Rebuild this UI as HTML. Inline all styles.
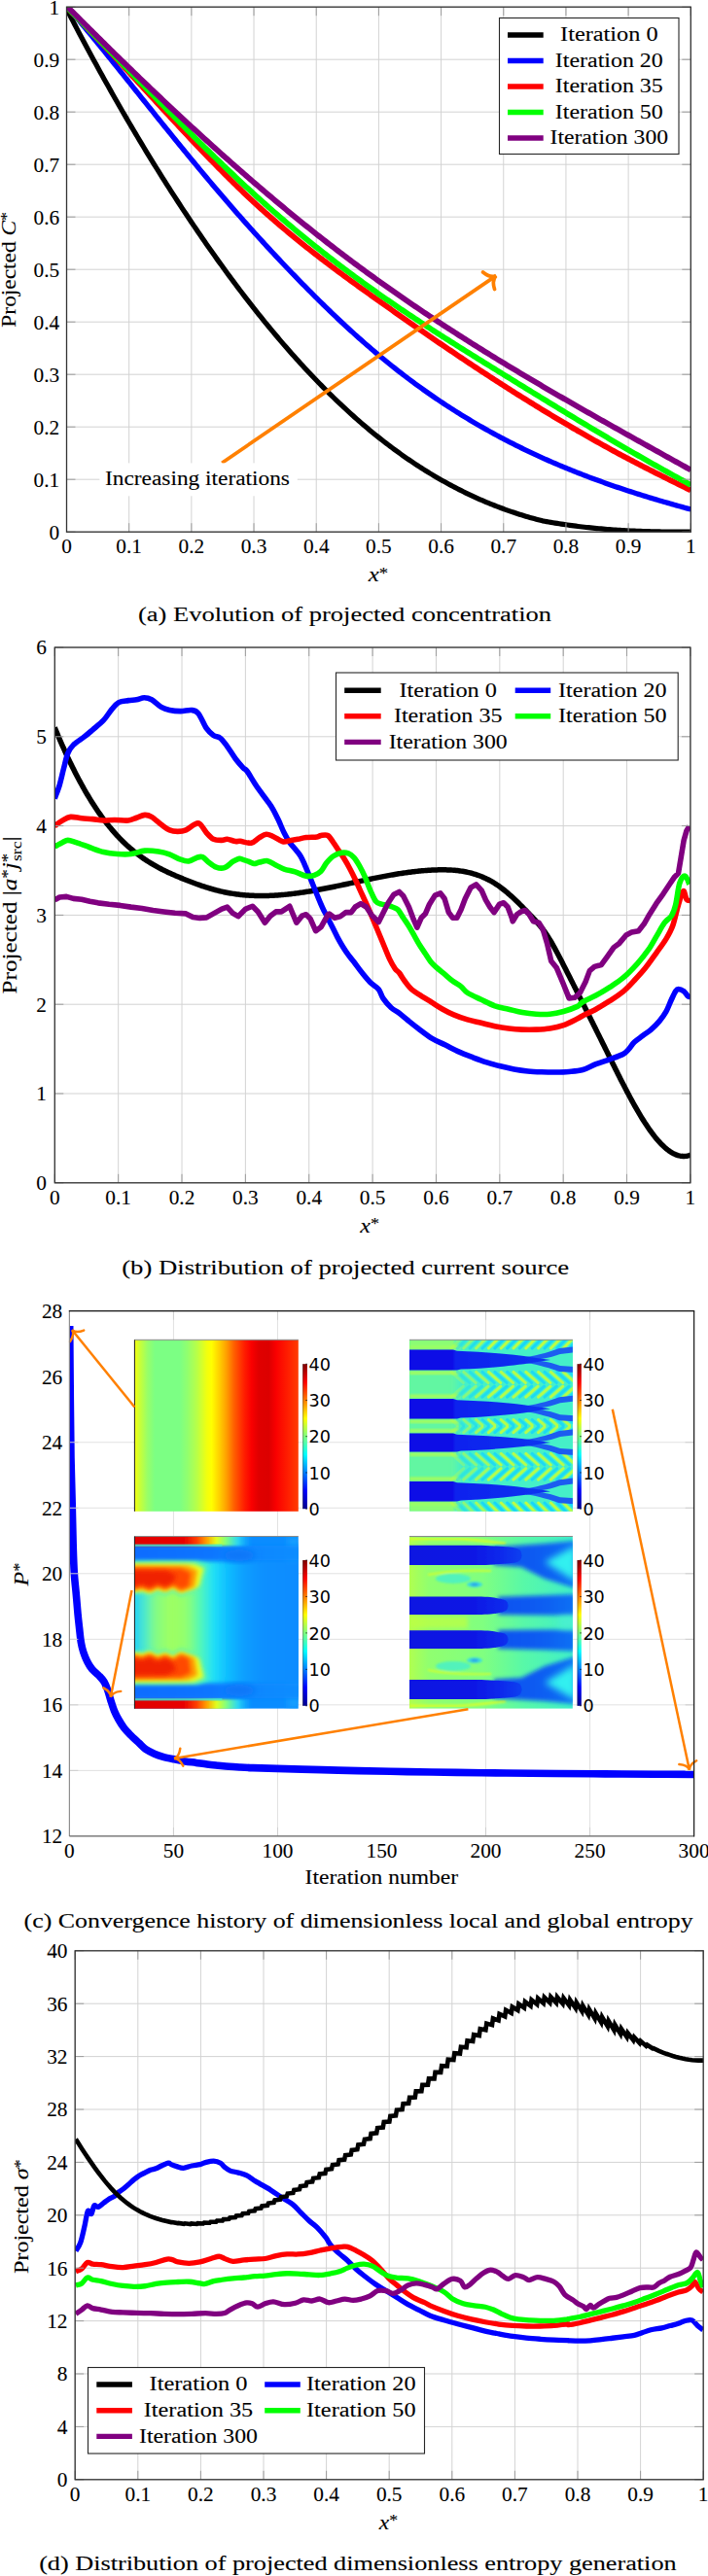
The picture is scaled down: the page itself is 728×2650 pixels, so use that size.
<!DOCTYPE html>
<html><head><meta charset="utf-8"><title>Figure</title>
<style>html,body{margin:0;padding:0;background:#fff;overflow:hidden;} svg{display:block;}</style></head>
<body><svg width="728" height="2650" viewBox="0 0 728 2650">
<rect width="728" height="2650" fill="#fff"/>
<defs>
<clipPath id="ca"><rect x="68.5" y="7.2" width="641.8" height="540"/></clipPath>
</defs>
<line x1="68.5" y1="7.2" x2="68.5" y2="547.2" stroke="#d3d3d3" stroke-width="1"/>
<line x1="132.68" y1="7.2" x2="132.68" y2="547.2" stroke="#d3d3d3" stroke-width="1"/>
<line x1="196.86" y1="7.2" x2="196.86" y2="547.2" stroke="#d3d3d3" stroke-width="1"/>
<line x1="261.04" y1="7.2" x2="261.04" y2="547.2" stroke="#d3d3d3" stroke-width="1"/>
<line x1="325.22" y1="7.2" x2="325.22" y2="547.2" stroke="#d3d3d3" stroke-width="1"/>
<line x1="389.4" y1="7.2" x2="389.4" y2="547.2" stroke="#d3d3d3" stroke-width="1"/>
<line x1="453.58" y1="7.2" x2="453.58" y2="547.2" stroke="#d3d3d3" stroke-width="1"/>
<line x1="517.76" y1="7.2" x2="517.76" y2="547.2" stroke="#d3d3d3" stroke-width="1"/>
<line x1="581.94" y1="7.2" x2="581.94" y2="547.2" stroke="#d3d3d3" stroke-width="1"/>
<line x1="646.12" y1="7.2" x2="646.12" y2="547.2" stroke="#d3d3d3" stroke-width="1"/>
<line x1="710.3" y1="7.2" x2="710.3" y2="547.2" stroke="#d3d3d3" stroke-width="1"/>
<line x1="68.5" y1="547.2" x2="710.3" y2="547.2" stroke="#d3d3d3" stroke-width="1"/>
<line x1="68.5" y1="493.2" x2="710.3" y2="493.2" stroke="#d3d3d3" stroke-width="1"/>
<line x1="68.5" y1="439.2" x2="710.3" y2="439.2" stroke="#d3d3d3" stroke-width="1"/>
<line x1="68.5" y1="385.2" x2="710.3" y2="385.2" stroke="#d3d3d3" stroke-width="1"/>
<line x1="68.5" y1="331.2" x2="710.3" y2="331.2" stroke="#d3d3d3" stroke-width="1"/>
<line x1="68.5" y1="277.2" x2="710.3" y2="277.2" stroke="#d3d3d3" stroke-width="1"/>
<line x1="68.5" y1="223.2" x2="710.3" y2="223.2" stroke="#d3d3d3" stroke-width="1"/>
<line x1="68.5" y1="169.2" x2="710.3" y2="169.2" stroke="#d3d3d3" stroke-width="1"/>
<line x1="68.5" y1="115.2" x2="710.3" y2="115.2" stroke="#d3d3d3" stroke-width="1"/>
<line x1="68.5" y1="61.2" x2="710.3" y2="61.2" stroke="#d3d3d3" stroke-width="1"/>
<line x1="68.5" y1="7.2" x2="710.3" y2="7.2" stroke="#d3d3d3" stroke-width="1"/>
<path d="M68.50,9.25 L70.65,13.41 L72.79,17.54 L74.94,21.66 L77.09,25.76 L79.23,29.85 L81.38,33.91 L83.53,37.96 L85.67,42.00 L87.82,46.01 L89.96,50.01 L92.11,54.00 L94.26,57.96 L96.40,61.91 L98.55,65.84 L100.70,69.76 L102.84,73.66 L104.99,77.54 L107.14,81.41 L109.28,85.26 L111.43,89.09 L113.58,92.90 L115.72,96.70 L117.87,100.49 L120.02,104.25 L122.16,108.00 L124.31,111.74 L126.46,115.46 L128.60,119.16 L130.75,122.84 L132.89,126.51 L135.04,130.16 L137.19,133.80 L139.33,137.42 L141.48,141.03 L143.63,144.61 L145.77,148.19 L147.92,151.74 L150.07,155.28 L152.21,158.81 L154.36,162.32 L156.51,165.81 L158.65,169.29 L160.80,172.75 L162.95,176.19 L165.09,179.62 L167.24,183.04 L169.38,186.43 L171.53,189.82 L173.68,193.18 L175.82,196.54 L177.97,199.87 L180.12,203.19 L182.26,206.50 L184.41,209.79 L186.56,213.06 L188.70,216.32 L190.85,219.56 L193.00,222.79 L195.14,226.00 L197.29,229.20 L199.44,232.38 L201.58,235.55 L203.73,238.70 L205.88,241.84 L208.02,244.96 L210.17,248.07 L212.31,251.16 L214.46,254.23 L216.61,257.29 L218.75,260.33 L220.90,263.36 L223.05,266.37 L225.19,269.37 L227.34,272.35 L229.49,275.31 L231.63,278.26 L233.78,281.20 L235.93,284.12 L238.07,287.02 L240.22,289.90 L242.37,292.77 L244.51,295.63 L246.66,298.47 L248.81,301.29 L250.95,304.09 L253.10,306.88 L255.24,309.66 L257.39,312.42 L259.54,315.16 L261.68,317.89 L263.83,320.60 L265.98,323.29 L268.12,325.97 L270.27,328.63 L272.42,331.27 L274.56,333.90 L276.71,336.51 L278.86,339.11 L281.00,341.69 L283.15,344.25 L285.30,346.80 L287.44,349.33 L289.59,351.84 L291.73,354.34 L293.88,356.82 L296.03,359.28 L298.17,361.73 L300.32,364.16 L302.47,366.57 L304.61,368.97 L306.76,371.35 L308.91,373.72 L311.05,376.06 L313.20,378.39 L315.35,380.71 L317.49,383.00 L319.64,385.28 L321.79,387.55 L323.93,389.79 L326.08,392.02 L328.23,394.23 L330.37,396.43 L332.52,398.60 L334.66,400.77 L336.81,402.91 L338.96,405.03 L341.10,407.14 L343.25,409.24 L345.40,411.31 L347.54,413.37 L349.69,415.41 L351.84,417.43 L353.98,419.44 L356.13,421.42 L358.28,423.39 L360.42,425.35 L362.57,427.28 L364.72,429.20 L366.86,431.10 L369.01,432.99 L371.15,434.85 L373.30,436.70 L375.45,438.53 L377.59,440.34 L379.74,442.14 L381.89,443.92 L384.03,445.68 L386.18,447.42 L388.33,449.14 L390.47,450.85 L392.62,452.55 L394.77,454.22 L396.91,455.88 L399.06,457.52 L401.21,459.14 L403.35,460.75 L405.50,462.34 L407.65,463.91 L409.79,465.47 L411.94,467.01 L414.08,468.53 L416.23,470.04 L418.38,471.53 L420.52,473.00 L422.67,474.46 L424.82,475.90 L426.96,477.33 L429.11,478.73 L431.26,480.13 L433.40,481.50 L435.55,482.86 L437.70,484.21 L439.84,485.54 L441.99,486.85 L444.14,488.15 L446.28,489.43 L448.43,490.70 L450.57,491.95 L452.72,493.18 L454.87,494.40 L457.01,495.60 L459.16,496.79 L461.31,497.97 L463.45,499.12 L465.60,500.27 L467.75,501.40 L469.89,502.51 L472.04,503.61 L474.19,504.69 L476.33,505.76 L478.48,506.81 L480.63,507.85 L482.77,508.87 L484.92,509.88 L487.07,510.87 L489.21,511.85 L491.36,512.82 L493.50,513.77 L495.65,514.71 L497.80,515.63 L499.94,516.54 L502.09,517.43 L504.24,518.31 L506.38,519.17 L508.53,520.03 L510.68,520.86 L512.82,521.69 L514.97,522.50 L517.12,523.29 L519.26,524.07 L521.41,524.84 L523.56,525.60 L525.70,526.34 L527.85,527.07 L529.99,527.78 L532.14,528.48 L534.29,529.17 L536.43,529.84 L538.58,530.50 L540.73,531.15 L542.87,531.79 L545.02,532.41 L547.17,533.02 L549.31,533.61 L551.46,534.20 L553.61,534.77 L555.75,535.32 L557.90,535.84 L560.05,536.23 L562.19,536.62 L564.34,537.00 L566.49,537.37 L568.63,537.73 L570.78,538.09 L572.92,538.43 L575.07,538.77 L577.22,539.10 L579.36,539.43 L581.51,539.74 L583.66,540.05 L585.80,540.35 L587.95,540.64 L590.10,540.92 L592.24,541.20 L594.39,541.47 L596.54,541.73 L598.68,541.98 L600.83,542.23 L602.98,542.47 L605.12,542.70 L607.27,542.93 L609.42,543.15 L611.56,543.36 L613.71,543.57 L615.85,543.76 L618.00,543.96 L620.15,544.14 L622.29,544.32 L624.44,544.49 L626.59,544.66 L628.73,544.82 L630.88,544.97 L633.03,545.12 L635.17,545.26 L637.32,545.40 L639.47,545.53 L641.61,545.65 L643.76,545.77 L645.91,545.88 L648.05,545.99 L650.20,546.09 L652.34,546.19 L654.49,546.28 L656.64,546.36 L658.78,546.45 L660.93,546.52 L663.08,546.59 L665.22,546.66 L667.37,546.72 L669.52,546.78 L671.66,546.83 L673.81,546.88 L675.96,546.93 L678.10,546.97 L680.25,547.00 L682.40,547.04 L684.54,547.07 L686.69,547.09 L688.84,547.12 L690.98,547.13 L693.13,547.13 L695.27,547.13 L697.42,547.13 L699.57,547.13 L701.71,547.13 L703.86,547.13 L706.01,547.13 L708.15,547.13 L710.30,547.13" fill="none" stroke="#000000" stroke-width="5.2" stroke-linejoin="round" stroke-linecap="butt" clip-path="url(#ca)"/>
<path d="M68.50,6.21 L70.65,8.71 L72.79,11.23 L74.94,13.76 L77.09,16.30 L79.23,18.85 L81.38,21.40 L83.53,23.97 L85.67,26.54 L87.82,29.13 L89.96,31.72 L92.11,34.32 L94.26,36.92 L96.40,39.53 L98.55,42.15 L100.70,44.78 L102.84,47.41 L104.99,50.05 L107.14,52.69 L109.28,55.34 L111.43,57.99 L113.58,60.64 L115.72,63.30 L117.87,65.97 L120.02,68.64 L122.16,71.31 L124.31,73.98 L126.46,76.66 L128.60,79.34 L130.75,82.02 L132.89,84.70 L135.04,87.38 L137.19,90.07 L139.33,92.75 L141.48,95.43 L143.63,98.12 L145.77,100.80 L147.92,103.49 L150.07,106.17 L152.21,108.85 L154.36,111.53 L156.51,114.21 L158.65,116.88 L160.80,119.56 L162.95,122.23 L165.09,124.89 L167.24,127.56 L169.38,130.22 L171.53,132.88 L173.68,135.53 L175.82,138.18 L177.97,140.83 L180.12,143.47 L182.26,146.11 L184.41,148.74 L186.56,151.37 L188.70,154.00 L190.85,156.62 L193.00,159.23 L195.14,161.85 L197.29,164.45 L199.44,167.05 L201.58,169.65 L203.73,172.23 L205.88,174.82 L208.02,177.40 L210.17,179.97 L212.31,182.53 L214.46,185.09 L216.61,187.64 L218.75,190.19 L220.90,192.73 L223.05,195.26 L225.19,197.78 L227.34,200.30 L229.49,202.81 L231.63,205.31 L233.78,207.80 L235.93,210.29 L238.07,212.77 L240.22,215.24 L242.37,217.70 L244.51,220.15 L246.66,222.59 L248.81,225.03 L250.95,227.46 L253.10,229.87 L255.24,232.28 L257.39,234.68 L259.54,237.08 L261.68,239.46 L263.83,241.84 L265.98,244.20 L268.12,246.56 L270.27,248.91 L272.42,251.25 L274.56,253.59 L276.71,255.91 L278.86,258.23 L281.00,260.54 L283.15,262.84 L285.30,265.14 L287.44,267.42 L289.59,269.70 L291.73,271.97 L293.88,274.23 L296.03,276.48 L298.17,278.73 L300.32,280.97 L302.47,283.20 L304.61,285.42 L306.76,287.63 L308.91,289.84 L311.05,292.03 L313.20,294.22 L315.35,296.40 L317.49,298.57 L319.64,300.73 L321.79,302.89 L323.93,305.03 L326.08,307.16 L328.23,309.29 L330.37,311.40 L332.52,313.51 L334.66,315.61 L336.81,317.69 L338.96,319.77 L341.10,321.83 L343.25,323.89 L345.40,325.93 L347.54,327.96 L349.69,329.99 L351.84,332.00 L353.98,334.00 L356.13,335.99 L358.28,337.97 L360.42,339.94 L362.57,341.89 L364.72,343.84 L366.86,345.77 L369.01,347.69 L371.15,349.60 L373.30,351.50 L375.45,353.38 L377.59,355.26 L379.74,357.11 L381.89,358.96 L384.03,360.80 L386.18,362.62 L388.33,364.43 L390.47,366.22 L392.62,368.00 L394.77,369.77 L396.91,371.53 L399.06,373.27 L401.21,375.00 L403.35,376.72 L405.50,378.43 L407.65,380.12 L409.79,381.80 L411.94,383.46 L414.08,385.12 L416.23,386.76 L418.38,388.39 L420.52,390.01 L422.67,391.61 L424.82,393.21 L426.96,394.79 L429.11,396.36 L431.26,397.91 L433.40,399.46 L435.55,400.99 L437.70,402.52 L439.84,404.03 L441.99,405.52 L444.14,407.01 L446.28,408.49 L448.43,409.95 L450.57,411.40 L452.72,412.85 L454.87,414.28 L457.01,415.70 L459.16,417.10 L461.31,418.50 L463.45,419.89 L465.60,421.26 L467.75,422.63 L469.89,423.98 L472.04,425.32 L474.19,426.66 L476.33,427.98 L478.48,429.29 L480.63,430.59 L482.77,431.88 L484.92,433.16 L487.07,434.43 L489.21,435.70 L491.36,436.95 L493.50,438.19 L495.65,439.42 L497.80,440.64 L499.94,441.85 L502.09,443.05 L504.24,444.24 L506.38,445.42 L508.53,446.60 L510.68,447.76 L512.82,448.91 L514.97,450.06 L517.12,451.19 L519.26,452.32 L521.41,453.43 L523.56,454.54 L525.70,455.64 L527.85,456.73 L529.99,457.81 L532.14,458.88 L534.29,459.95 L536.43,461.00 L538.58,462.05 L540.73,463.09 L542.87,464.12 L545.02,465.14 L547.17,466.15 L549.31,467.16 L551.46,468.15 L553.61,469.14 L555.75,470.12 L557.90,471.09 L560.05,472.06 L562.19,473.01 L564.34,473.96 L566.49,474.90 L568.63,475.84 L570.78,476.76 L572.92,477.68 L575.07,478.59 L577.22,479.50 L579.36,480.39 L581.51,481.28 L583.66,482.17 L585.80,483.04 L587.95,483.91 L590.10,484.77 L592.24,485.62 L594.39,486.47 L596.54,487.31 L598.68,488.15 L600.83,488.97 L602.98,489.79 L605.12,490.61 L607.27,491.42 L609.42,492.22 L611.56,493.01 L613.71,493.80 L615.85,494.59 L618.00,495.36 L620.15,496.13 L622.29,496.90 L624.44,497.66 L626.59,498.41 L628.73,499.16 L630.88,499.90 L633.03,500.64 L635.17,501.37 L637.32,502.09 L639.47,502.81 L641.61,503.53 L643.76,504.24 L645.91,504.94 L648.05,505.64 L650.20,506.33 L652.34,507.02 L654.49,507.71 L656.64,508.39 L658.78,509.06 L660.93,509.73 L663.08,510.39 L665.22,511.05 L667.37,511.71 L669.52,512.36 L671.66,513.01 L673.81,513.65 L675.96,514.29 L678.10,514.92 L680.25,515.55 L682.40,516.18 L684.54,516.80 L686.69,517.42 L688.84,518.03 L690.98,518.65 L693.13,519.25 L695.27,519.86 L697.42,520.45 L699.57,521.05 L701.71,521.64 L703.86,522.23 L706.01,522.82 L708.15,523.40 L710.30,523.98" fill="none" stroke="#0000ff" stroke-width="5.3" stroke-linejoin="round" stroke-linecap="butt" clip-path="url(#ca)"/>
<path d="M68.50,7.13 L70.65,9.27 L72.79,11.42 L74.94,13.58 L77.09,15.74 L79.23,17.92 L81.38,20.11 L83.53,22.30 L85.67,24.51 L87.82,26.72 L89.96,28.94 L92.11,31.17 L94.26,33.40 L96.40,35.64 L98.55,37.89 L100.70,40.15 L102.84,42.41 L104.99,44.68 L107.14,46.95 L109.28,49.23 L111.43,51.52 L113.58,53.81 L115.72,56.10 L117.87,58.40 L120.02,60.71 L122.16,63.01 L124.31,65.33 L126.46,67.64 L128.60,69.96 L130.75,72.28 L132.89,74.60 L135.04,76.93 L137.19,79.26 L139.33,81.58 L141.48,83.92 L143.63,86.25 L145.77,88.58 L147.92,90.92 L150.07,93.25 L152.21,95.58 L154.36,97.92 L156.51,100.25 L158.65,102.59 L160.80,104.92 L162.95,107.25 L165.09,109.58 L167.24,111.91 L169.38,114.24 L171.53,116.56 L173.68,118.88 L175.82,121.20 L177.97,123.52 L180.12,125.83 L182.26,128.14 L184.41,130.44 L186.56,132.75 L188.70,135.04 L190.85,137.33 L193.00,139.62 L195.14,141.90 L197.29,144.18 L199.44,146.45 L201.58,148.72 L203.73,150.97 L205.88,153.23 L208.02,155.47 L210.17,157.71 L212.31,159.94 L214.46,162.16 L216.61,164.38 L218.75,166.59 L220.90,168.79 L223.05,170.98 L225.19,173.16 L227.34,175.33 L229.49,177.49 L231.63,179.64 L233.78,181.79 L235.93,183.92 L238.07,186.04 L240.22,188.15 L242.37,190.25 L244.51,192.34 L246.66,194.42 L248.81,196.48 L250.95,198.54 L253.10,200.58 L255.24,202.60 L257.39,204.62 L259.54,206.62 L261.68,208.61 L263.83,210.58 L265.98,212.54 L268.12,214.49 L270.27,216.43 L272.42,218.35 L274.56,220.26 L276.71,222.15 L278.86,224.04 L281.00,225.91 L283.15,227.77 L285.30,229.62 L287.44,231.46 L289.59,233.28 L291.73,235.10 L293.88,236.90 L296.03,238.70 L298.17,240.48 L300.32,242.25 L302.47,244.02 L304.61,245.77 L306.76,247.51 L308.91,249.25 L311.05,250.97 L313.20,252.69 L315.35,254.40 L317.49,256.09 L319.64,257.78 L321.79,259.47 L323.93,261.14 L326.08,262.81 L328.23,264.46 L330.37,266.12 L332.52,267.76 L334.66,269.40 L336.81,271.03 L338.96,272.65 L341.10,274.27 L343.25,275.88 L345.40,277.48 L347.54,279.08 L349.69,280.67 L351.84,282.26 L353.98,283.84 L356.13,285.42 L358.28,286.99 L360.42,288.56 L362.57,290.12 L364.72,291.68 L366.86,293.24 L369.01,294.79 L371.15,296.34 L373.30,297.88 L375.45,299.42 L377.59,300.96 L379.74,302.50 L381.89,304.03 L384.03,305.56 L386.18,307.09 L388.33,308.62 L390.47,310.14 L392.62,311.66 L394.77,313.18 L396.91,314.70 L399.06,316.22 L401.21,317.74 L403.35,319.25 L405.50,320.76 L407.65,322.27 L409.79,323.78 L411.94,325.29 L414.08,326.79 L416.23,328.29 L418.38,329.79 L420.52,331.29 L422.67,332.78 L424.82,334.28 L426.96,335.77 L429.11,337.26 L431.26,338.75 L433.40,340.23 L435.55,341.71 L437.70,343.19 L439.84,344.67 L441.99,346.15 L444.14,347.62 L446.28,349.09 L448.43,350.56 L450.57,352.03 L452.72,353.49 L454.87,354.95 L457.01,356.41 L459.16,357.87 L461.31,359.32 L463.45,360.77 L465.60,362.22 L467.75,363.67 L469.89,365.11 L472.04,366.55 L474.19,367.99 L476.33,369.42 L478.48,370.86 L480.63,372.29 L482.77,373.71 L484.92,375.14 L487.07,376.56 L489.21,377.98 L491.36,379.39 L493.50,380.80 L495.65,382.21 L497.80,383.62 L499.94,385.02 L502.09,386.42 L504.24,387.82 L506.38,389.21 L508.53,390.60 L510.68,391.99 L512.82,393.38 L514.97,394.76 L517.12,396.14 L519.26,397.51 L521.41,398.88 L523.56,400.25 L525.70,401.61 L527.85,402.98 L529.99,404.33 L532.14,405.69 L534.29,407.04 L536.43,408.39 L538.58,409.73 L540.73,411.07 L542.87,412.41 L545.02,413.74 L547.17,415.07 L549.31,416.40 L551.46,417.72 L553.61,419.04 L555.75,420.36 L557.90,421.67 L560.05,422.98 L562.19,424.28 L564.34,425.58 L566.49,426.88 L568.63,428.17 L570.78,429.46 L572.92,430.74 L575.07,432.02 L577.22,433.30 L579.36,434.57 L581.51,435.84 L583.66,437.11 L585.80,438.37 L587.95,439.62 L590.10,440.87 L592.24,442.12 L594.39,443.37 L596.54,444.61 L598.68,445.84 L600.83,447.07 L602.98,448.30 L605.12,449.52 L607.27,450.74 L609.42,451.96 L611.56,453.17 L613.71,454.37 L615.85,455.57 L618.00,456.77 L620.15,457.96 L622.29,459.15 L624.44,460.33 L626.59,461.51 L628.73,462.68 L630.88,463.85 L633.03,465.02 L635.17,466.18 L637.32,467.33 L639.47,468.48 L641.61,469.63 L643.76,470.77 L645.91,471.90 L648.05,473.03 L650.20,474.16 L652.34,475.28 L654.49,476.40 L656.64,477.51 L658.78,478.62 L660.93,479.73 L663.08,480.83 L665.22,481.93 L667.37,483.02 L669.52,484.11 L671.66,485.20 L673.81,486.29 L675.96,487.37 L678.10,488.45 L680.25,489.53 L682.40,490.60 L684.54,491.68 L686.69,492.75 L688.84,493.82 L690.98,494.89 L693.13,495.95 L695.27,497.02 L697.42,498.08 L699.57,499.14 L701.71,500.21 L703.86,501.27 L706.01,502.33 L708.15,503.39 L710.30,504.45" fill="none" stroke="#ff0000" stroke-width="5.8" stroke-linejoin="round" stroke-linecap="butt" clip-path="url(#ca)"/>
<path d="M68.50,7.14 L70.65,9.29 L72.79,11.44 L74.94,13.60 L77.09,15.76 L79.23,17.92 L81.38,20.09 L83.53,22.26 L85.67,24.44 L87.82,26.61 L89.96,28.79 L92.11,30.98 L94.26,33.16 L96.40,35.35 L98.55,37.54 L100.70,39.74 L102.84,41.93 L104.99,44.13 L107.14,46.33 L109.28,48.53 L111.43,50.73 L113.58,52.94 L115.72,55.14 L117.87,57.35 L120.02,59.55 L122.16,61.76 L124.31,63.97 L126.46,66.18 L128.60,68.39 L130.75,70.60 L132.89,72.81 L135.04,75.02 L137.19,77.23 L139.33,79.44 L141.48,81.65 L143.63,83.85 L145.77,86.06 L147.92,88.27 L150.07,90.47 L152.21,92.68 L154.36,94.88 L156.51,97.08 L158.65,99.28 L160.80,101.48 L162.95,103.67 L165.09,105.87 L167.24,108.06 L169.38,110.25 L171.53,112.43 L173.68,114.62 L175.82,116.80 L177.97,118.98 L180.12,121.15 L182.26,123.33 L184.41,125.49 L186.56,127.66 L188.70,129.82 L190.85,131.98 L193.00,134.13 L195.14,136.28 L197.29,138.43 L199.44,140.57 L201.58,142.70 L203.73,144.84 L205.88,146.96 L208.02,149.09 L210.17,151.20 L212.31,153.32 L214.46,155.42 L216.61,157.52 L218.75,159.62 L220.90,161.71 L223.05,163.79 L225.19,165.87 L227.34,167.94 L229.49,170.01 L231.63,172.06 L233.78,174.12 L235.93,176.16 L238.07,178.20 L240.22,180.23 L242.37,182.25 L244.51,184.27 L246.66,186.28 L248.81,188.28 L250.95,190.27 L253.10,192.26 L255.24,194.24 L257.39,196.21 L259.54,198.17 L261.68,200.12 L263.83,202.06 L265.98,204.00 L268.12,205.92 L270.27,207.84 L272.42,209.75 L274.56,211.65 L276.71,213.55 L278.86,215.43 L281.00,217.31 L283.15,219.17 L285.30,221.03 L287.44,222.89 L289.59,224.73 L291.73,226.56 L293.88,228.39 L296.03,230.21 L298.17,232.02 L300.32,233.83 L302.47,235.62 L304.61,237.41 L306.76,239.19 L308.91,240.96 L311.05,242.73 L313.20,244.49 L315.35,246.24 L317.49,247.98 L319.64,249.71 L321.79,251.44 L323.93,253.16 L326.08,254.87 L328.23,256.58 L330.37,258.27 L332.52,259.96 L334.66,261.65 L336.81,263.32 L338.96,264.99 L341.10,266.65 L343.25,268.31 L345.40,269.96 L347.54,271.60 L349.69,273.23 L351.84,274.86 L353.98,276.48 L356.13,278.09 L358.28,279.70 L360.42,281.30 L362.57,282.89 L364.72,284.48 L366.86,286.06 L369.01,287.63 L371.15,289.20 L373.30,290.76 L375.45,292.31 L377.59,293.86 L379.74,295.40 L381.89,296.94 L384.03,298.47 L386.18,299.99 L388.33,301.51 L390.47,303.02 L392.62,304.52 L394.77,306.02 L396.91,307.51 L399.06,309.00 L401.21,310.48 L403.35,311.96 L405.50,313.43 L407.65,314.89 L409.79,316.35 L411.94,317.81 L414.08,319.25 L416.23,320.70 L418.38,322.14 L420.52,323.57 L422.67,325.00 L424.82,326.43 L426.96,327.85 L429.11,329.27 L431.26,330.68 L433.40,332.09 L435.55,333.49 L437.70,334.89 L439.84,336.29 L441.99,337.68 L444.14,339.07 L446.28,340.46 L448.43,341.84 L450.57,343.22 L452.72,344.60 L454.87,345.97 L457.01,347.34 L459.16,348.70 L461.31,350.07 L463.45,351.43 L465.60,352.79 L467.75,354.14 L469.89,355.50 L472.04,356.85 L474.19,358.20 L476.33,359.54 L478.48,360.89 L480.63,362.23 L482.77,363.57 L484.92,364.91 L487.07,366.25 L489.21,367.58 L491.36,368.92 L493.50,370.25 L495.65,371.58 L497.80,372.91 L499.94,374.24 L502.09,375.57 L504.24,376.90 L506.38,378.23 L508.53,379.56 L510.68,380.88 L512.82,382.21 L514.97,383.53 L517.12,384.86 L519.26,386.18 L521.41,387.51 L523.56,388.83 L525.70,390.16 L527.85,391.48 L529.99,392.80 L532.14,394.13 L534.29,395.45 L536.43,396.77 L538.58,398.09 L540.73,399.42 L542.87,400.74 L545.02,402.06 L547.17,403.38 L549.31,404.70 L551.46,406.01 L553.61,407.33 L555.75,408.65 L557.90,409.96 L560.05,411.28 L562.19,412.59 L564.34,413.91 L566.49,415.22 L568.63,416.53 L570.78,417.84 L572.92,419.15 L575.07,420.46 L577.22,421.76 L579.36,423.07 L581.51,424.37 L583.66,425.68 L585.80,426.98 L587.95,428.28 L590.10,429.57 L592.24,430.87 L594.39,432.17 L596.54,433.46 L598.68,434.75 L600.83,436.04 L602.98,437.33 L605.12,438.62 L607.27,439.90 L609.42,441.18 L611.56,442.47 L613.71,443.75 L615.85,445.02 L618.00,446.30 L620.15,447.57 L622.29,448.84 L624.44,450.11 L626.59,451.38 L628.73,452.64 L630.88,453.90 L633.03,455.16 L635.17,456.42 L637.32,457.68 L639.47,458.93 L641.61,460.18 L643.76,461.43 L645.91,462.67 L648.05,463.92 L650.20,465.16 L652.34,466.39 L654.49,467.63 L656.64,468.86 L658.78,470.09 L660.93,471.32 L663.08,472.54 L665.22,473.76 L667.37,474.98 L669.52,476.20 L671.66,477.41 L673.81,478.63 L675.96,479.83 L678.10,481.04 L680.25,482.25 L682.40,483.45 L684.54,484.65 L686.69,485.84 L688.84,487.04 L690.98,488.23 L693.13,489.42 L695.27,490.60 L697.42,491.79 L699.57,492.97 L701.71,494.15 L703.86,495.32 L706.01,496.50 L708.15,497.67 L710.30,498.84" fill="none" stroke="#00ff00" stroke-width="5.8" stroke-linejoin="round" stroke-linecap="butt" clip-path="url(#ca)"/>
<path d="M68.50,6.14 L70.65,8.30 L72.79,10.46 L74.94,12.62 L77.09,14.77 L79.23,16.92 L81.38,19.07 L83.53,21.22 L85.67,23.36 L87.82,25.51 L89.96,27.65 L92.11,29.78 L94.26,31.92 L96.40,34.05 L98.55,36.18 L100.70,38.30 L102.84,40.43 L104.99,42.55 L107.14,44.67 L109.28,46.78 L111.43,48.89 L113.58,51.00 L115.72,53.11 L117.87,55.21 L120.02,57.31 L122.16,59.41 L124.31,61.51 L126.46,63.60 L128.60,65.69 L130.75,67.77 L132.89,69.86 L135.04,71.94 L137.19,74.01 L139.33,76.09 L141.48,78.16 L143.63,80.22 L145.77,82.29 L147.92,84.35 L150.07,86.40 L152.21,88.46 L154.36,90.51 L156.51,92.56 L158.65,94.60 L160.80,96.64 L162.95,98.68 L165.09,100.71 L167.24,102.74 L169.38,104.77 L171.53,106.79 L173.68,108.81 L175.82,110.82 L177.97,112.83 L180.12,114.84 L182.26,116.85 L184.41,118.85 L186.56,120.85 L188.70,122.84 L190.85,124.83 L193.00,126.81 L195.14,128.80 L197.29,130.77 L199.44,132.75 L201.58,134.72 L203.73,136.69 L205.88,138.65 L208.02,140.61 L210.17,142.56 L212.31,144.51 L214.46,146.46 L216.61,148.40 L218.75,150.34 L220.90,152.27 L223.05,154.20 L225.19,156.13 L227.34,158.05 L229.49,159.97 L231.63,161.88 L233.78,163.79 L235.93,165.69 L238.07,167.59 L240.22,169.49 L242.37,171.38 L244.51,173.26 L246.66,175.15 L248.81,177.02 L250.95,178.90 L253.10,180.77 L255.24,182.63 L257.39,184.49 L259.54,186.34 L261.68,188.19 L263.83,190.04 L265.98,191.88 L268.12,193.72 L270.27,195.55 L272.42,197.38 L274.56,199.20 L276.71,201.02 L278.86,202.83 L281.00,204.64 L283.15,206.44 L285.30,208.24 L287.44,210.03 L289.59,211.82 L291.73,213.60 L293.88,215.38 L296.03,217.15 L298.17,218.92 L300.32,220.68 L302.47,222.44 L304.61,224.19 L306.76,225.94 L308.91,227.68 L311.05,229.41 L313.20,231.15 L315.35,232.87 L317.49,234.59 L319.64,236.31 L321.79,238.02 L323.93,239.72 L326.08,241.42 L328.23,243.12 L330.37,244.80 L332.52,246.49 L334.66,248.16 L336.81,249.84 L338.96,251.50 L341.10,253.16 L343.25,254.82 L345.40,256.47 L347.54,258.11 L349.69,259.75 L351.84,261.38 L353.98,263.01 L356.13,264.63 L358.28,266.25 L360.42,267.86 L362.57,269.46 L364.72,271.06 L366.86,272.66 L369.01,274.24 L371.15,275.83 L373.30,277.41 L375.45,278.98 L377.59,280.55 L379.74,282.11 L381.89,283.67 L384.03,285.22 L386.18,286.77 L388.33,288.31 L390.47,289.85 L392.62,291.38 L394.77,292.91 L396.91,294.43 L399.06,295.95 L401.21,297.46 L403.35,298.97 L405.50,300.47 L407.65,301.97 L409.79,303.47 L411.94,304.96 L414.08,306.44 L416.23,307.92 L418.38,309.40 L420.52,310.87 L422.67,312.34 L424.82,313.80 L426.96,315.26 L429.11,316.71 L431.26,318.16 L433.40,319.61 L435.55,321.05 L437.70,322.48 L439.84,323.92 L441.99,325.35 L444.14,326.77 L446.28,328.19 L448.43,329.61 L450.57,331.02 L452.72,332.43 L454.87,333.83 L457.01,335.24 L459.16,336.63 L461.31,338.03 L463.45,339.42 L465.60,340.80 L467.75,342.18 L469.89,343.56 L472.04,344.94 L474.19,346.31 L476.33,347.68 L478.48,349.04 L480.63,350.40 L482.77,351.76 L484.92,353.11 L487.07,354.46 L489.21,355.81 L491.36,357.16 L493.50,358.50 L495.65,359.83 L497.80,361.17 L499.94,362.50 L502.09,363.83 L504.24,365.15 L506.38,366.47 L508.53,367.79 L510.68,369.11 L512.82,370.42 L514.97,371.73 L517.12,373.04 L519.26,374.34 L521.41,375.65 L523.56,376.95 L525.70,378.24 L527.85,379.54 L529.99,380.83 L532.14,382.11 L534.29,383.40 L536.43,384.68 L538.58,385.96 L540.73,387.24 L542.87,388.52 L545.02,389.79 L547.17,391.06 L549.31,392.33 L551.46,393.60 L553.61,394.86 L555.75,396.12 L557.90,397.38 L560.05,398.64 L562.19,399.90 L564.34,401.15 L566.49,402.40 L568.63,403.65 L570.78,404.90 L572.92,406.15 L575.07,407.39 L577.22,408.63 L579.36,409.87 L581.51,411.11 L583.66,412.35 L585.80,413.58 L587.95,414.81 L590.10,416.05 L592.24,417.28 L594.39,418.50 L596.54,419.73 L598.68,420.96 L600.83,422.18 L602.98,423.40 L605.12,424.62 L607.27,425.84 L609.42,427.06 L611.56,428.28 L613.71,429.49 L615.85,430.71 L618.00,431.92 L620.15,433.14 L622.29,434.35 L624.44,435.56 L626.59,436.77 L628.73,437.97 L630.88,439.18 L633.03,440.39 L635.17,441.59 L637.32,442.80 L639.47,444.00 L641.61,445.20 L643.76,446.41 L645.91,447.61 L648.05,448.81 L650.20,450.01 L652.34,451.21 L654.49,452.41 L656.64,453.61 L658.78,454.80 L660.93,456.00 L663.08,457.20 L665.22,458.40 L667.37,459.59 L669.52,460.79 L671.66,461.98 L673.81,463.18 L675.96,464.38 L678.10,465.57 L680.25,466.77 L682.40,467.96 L684.54,469.16 L686.69,470.35 L688.84,471.55 L690.98,472.74 L693.13,473.94 L695.27,475.13 L697.42,476.33 L699.57,477.52 L701.71,478.72 L703.86,479.91 L706.01,481.11 L708.15,482.31 L710.30,483.50" fill="none" stroke="#800080" stroke-width="5.8" stroke-linejoin="round" stroke-linecap="butt" clip-path="url(#ca)"/>
<line x1="228.2" y1="476.2" x2="510.1" y2="283.6" stroke="#ff8000" stroke-width="3.7"/>
<path d="M508.54,297.51 Q505.49,287.89 510.1,283.6 Q504.43,286.34 496.57,279.99" fill="none" stroke="#ff8000" stroke-width="3.7" stroke-linecap="round"/>
<rect x="102.4" y="476.4" width="203.4" height="33.9" fill="#fff"/>
<text x="203" y="498.8" text-anchor="middle" font-size="21.3" font-family="'Liberation Serif', 'DejaVu Serif', serif" textLength="189.9" lengthAdjust="spacingAndGlyphs" stroke="#000" stroke-width="0.1">Increasing iterations</text>
<line x1="68.5" y1="547.2" x2="68.5" y2="538.2" stroke="#9c9c9c" stroke-width="1"/>
<line x1="68.5" y1="7.2" x2="68.5" y2="16.2" stroke="#9c9c9c" stroke-width="1"/>
<line x1="132.68" y1="547.2" x2="132.68" y2="538.2" stroke="#9c9c9c" stroke-width="1"/>
<line x1="132.68" y1="7.2" x2="132.68" y2="16.2" stroke="#9c9c9c" stroke-width="1"/>
<line x1="196.86" y1="547.2" x2="196.86" y2="538.2" stroke="#9c9c9c" stroke-width="1"/>
<line x1="196.86" y1="7.2" x2="196.86" y2="16.2" stroke="#9c9c9c" stroke-width="1"/>
<line x1="261.04" y1="547.2" x2="261.04" y2="538.2" stroke="#9c9c9c" stroke-width="1"/>
<line x1="261.04" y1="7.2" x2="261.04" y2="16.2" stroke="#9c9c9c" stroke-width="1"/>
<line x1="325.22" y1="547.2" x2="325.22" y2="538.2" stroke="#9c9c9c" stroke-width="1"/>
<line x1="325.22" y1="7.2" x2="325.22" y2="16.2" stroke="#9c9c9c" stroke-width="1"/>
<line x1="389.4" y1="547.2" x2="389.4" y2="538.2" stroke="#9c9c9c" stroke-width="1"/>
<line x1="389.4" y1="7.2" x2="389.4" y2="16.2" stroke="#9c9c9c" stroke-width="1"/>
<line x1="453.58" y1="547.2" x2="453.58" y2="538.2" stroke="#9c9c9c" stroke-width="1"/>
<line x1="453.58" y1="7.2" x2="453.58" y2="16.2" stroke="#9c9c9c" stroke-width="1"/>
<line x1="517.76" y1="547.2" x2="517.76" y2="538.2" stroke="#9c9c9c" stroke-width="1"/>
<line x1="517.76" y1="7.2" x2="517.76" y2="16.2" stroke="#9c9c9c" stroke-width="1"/>
<line x1="581.94" y1="547.2" x2="581.94" y2="538.2" stroke="#9c9c9c" stroke-width="1"/>
<line x1="581.94" y1="7.2" x2="581.94" y2="16.2" stroke="#9c9c9c" stroke-width="1"/>
<line x1="646.12" y1="547.2" x2="646.12" y2="538.2" stroke="#9c9c9c" stroke-width="1"/>
<line x1="646.12" y1="7.2" x2="646.12" y2="16.2" stroke="#9c9c9c" stroke-width="1"/>
<line x1="710.3" y1="547.2" x2="710.3" y2="538.2" stroke="#9c9c9c" stroke-width="1"/>
<line x1="710.3" y1="7.2" x2="710.3" y2="16.2" stroke="#9c9c9c" stroke-width="1"/>
<line x1="68.5" y1="547.2" x2="77.5" y2="547.2" stroke="#9c9c9c" stroke-width="1"/>
<line x1="710.3" y1="547.2" x2="701.3" y2="547.2" stroke="#9c9c9c" stroke-width="1"/>
<line x1="68.5" y1="493.2" x2="77.5" y2="493.2" stroke="#9c9c9c" stroke-width="1"/>
<line x1="710.3" y1="493.2" x2="701.3" y2="493.2" stroke="#9c9c9c" stroke-width="1"/>
<line x1="68.5" y1="439.2" x2="77.5" y2="439.2" stroke="#9c9c9c" stroke-width="1"/>
<line x1="710.3" y1="439.2" x2="701.3" y2="439.2" stroke="#9c9c9c" stroke-width="1"/>
<line x1="68.5" y1="385.2" x2="77.5" y2="385.2" stroke="#9c9c9c" stroke-width="1"/>
<line x1="710.3" y1="385.2" x2="701.3" y2="385.2" stroke="#9c9c9c" stroke-width="1"/>
<line x1="68.5" y1="331.2" x2="77.5" y2="331.2" stroke="#9c9c9c" stroke-width="1"/>
<line x1="710.3" y1="331.2" x2="701.3" y2="331.2" stroke="#9c9c9c" stroke-width="1"/>
<line x1="68.5" y1="277.2" x2="77.5" y2="277.2" stroke="#9c9c9c" stroke-width="1"/>
<line x1="710.3" y1="277.2" x2="701.3" y2="277.2" stroke="#9c9c9c" stroke-width="1"/>
<line x1="68.5" y1="223.2" x2="77.5" y2="223.2" stroke="#9c9c9c" stroke-width="1"/>
<line x1="710.3" y1="223.2" x2="701.3" y2="223.2" stroke="#9c9c9c" stroke-width="1"/>
<line x1="68.5" y1="169.2" x2="77.5" y2="169.2" stroke="#9c9c9c" stroke-width="1"/>
<line x1="710.3" y1="169.2" x2="701.3" y2="169.2" stroke="#9c9c9c" stroke-width="1"/>
<line x1="68.5" y1="115.2" x2="77.5" y2="115.2" stroke="#9c9c9c" stroke-width="1"/>
<line x1="710.3" y1="115.2" x2="701.3" y2="115.2" stroke="#9c9c9c" stroke-width="1"/>
<line x1="68.5" y1="61.2" x2="77.5" y2="61.2" stroke="#9c9c9c" stroke-width="1"/>
<line x1="710.3" y1="61.2" x2="701.3" y2="61.2" stroke="#9c9c9c" stroke-width="1"/>
<line x1="68.5" y1="7.2" x2="77.5" y2="7.2" stroke="#9c9c9c" stroke-width="1"/>
<line x1="710.3" y1="7.2" x2="701.3" y2="7.2" stroke="#9c9c9c" stroke-width="1"/>
<rect x="68.5" y="7.2" width="641.8" height="540" fill="none" stroke="#333" stroke-width="1.3"/>
<text x="68.5" y="569.2" text-anchor="middle" font-size="21.3" font-family="'Liberation Serif', 'DejaVu Serif', serif" stroke="#000" stroke-width="0.1">0</text>
<text x="132.68" y="569.2" text-anchor="middle" font-size="21.3" font-family="'Liberation Serif', 'DejaVu Serif', serif" stroke="#000" stroke-width="0.1">0.1</text>
<text x="196.86" y="569.2" text-anchor="middle" font-size="21.3" font-family="'Liberation Serif', 'DejaVu Serif', serif" stroke="#000" stroke-width="0.1">0.2</text>
<text x="261.04" y="569.2" text-anchor="middle" font-size="21.3" font-family="'Liberation Serif', 'DejaVu Serif', serif" stroke="#000" stroke-width="0.1">0.3</text>
<text x="325.22" y="569.2" text-anchor="middle" font-size="21.3" font-family="'Liberation Serif', 'DejaVu Serif', serif" stroke="#000" stroke-width="0.1">0.4</text>
<text x="389.4" y="569.2" text-anchor="middle" font-size="21.3" font-family="'Liberation Serif', 'DejaVu Serif', serif" stroke="#000" stroke-width="0.1">0.5</text>
<text x="453.58" y="569.2" text-anchor="middle" font-size="21.3" font-family="'Liberation Serif', 'DejaVu Serif', serif" stroke="#000" stroke-width="0.1">0.6</text>
<text x="517.76" y="569.2" text-anchor="middle" font-size="21.3" font-family="'Liberation Serif', 'DejaVu Serif', serif" stroke="#000" stroke-width="0.1">0.7</text>
<text x="581.94" y="569.2" text-anchor="middle" font-size="21.3" font-family="'Liberation Serif', 'DejaVu Serif', serif" stroke="#000" stroke-width="0.1">0.8</text>
<text x="646.12" y="569.2" text-anchor="middle" font-size="21.3" font-family="'Liberation Serif', 'DejaVu Serif', serif" stroke="#000" stroke-width="0.1">0.9</text>
<text x="710.3" y="569.2" text-anchor="middle" font-size="21.3" font-family="'Liberation Serif', 'DejaVu Serif', serif" stroke="#000" stroke-width="0.1">1</text>
<text x="61.2" y="554.5" text-anchor="end" font-size="21.3" font-family="'Liberation Serif', 'DejaVu Serif', serif" stroke="#000" stroke-width="0.1">0</text>
<text x="61.2" y="500.5" text-anchor="end" font-size="21.3" font-family="'Liberation Serif', 'DejaVu Serif', serif" stroke="#000" stroke-width="0.1">0.1</text>
<text x="61.2" y="446.5" text-anchor="end" font-size="21.3" font-family="'Liberation Serif', 'DejaVu Serif', serif" stroke="#000" stroke-width="0.1">0.2</text>
<text x="61.2" y="392.5" text-anchor="end" font-size="21.3" font-family="'Liberation Serif', 'DejaVu Serif', serif" stroke="#000" stroke-width="0.1">0.3</text>
<text x="61.2" y="338.5" text-anchor="end" font-size="21.3" font-family="'Liberation Serif', 'DejaVu Serif', serif" stroke="#000" stroke-width="0.1">0.4</text>
<text x="61.2" y="284.5" text-anchor="end" font-size="21.3" font-family="'Liberation Serif', 'DejaVu Serif', serif" stroke="#000" stroke-width="0.1">0.5</text>
<text x="61.2" y="230.5" text-anchor="end" font-size="21.3" font-family="'Liberation Serif', 'DejaVu Serif', serif" stroke="#000" stroke-width="0.1">0.6</text>
<text x="61.2" y="176.5" text-anchor="end" font-size="21.3" font-family="'Liberation Serif', 'DejaVu Serif', serif" stroke="#000" stroke-width="0.1">0.7</text>
<text x="61.2" y="122.5" text-anchor="end" font-size="21.3" font-family="'Liberation Serif', 'DejaVu Serif', serif" stroke="#000" stroke-width="0.1">0.8</text>
<text x="61.2" y="68.5" text-anchor="end" font-size="21.3" font-family="'Liberation Serif', 'DejaVu Serif', serif" stroke="#000" stroke-width="0.1">0.9</text>
<text x="61.2" y="14.5" text-anchor="end" font-size="21.3" font-family="'Liberation Serif', 'DejaVu Serif', serif" stroke="#000" stroke-width="0.1">1</text>
<rect x="513.5" y="18.5" width="184.5" height="140" fill="#fff" stroke="#262626" stroke-width="1.1"/>
<line x1="522" y1="36" x2="558.7" y2="36" stroke="#000000" stroke-width="5.4"/>
<text x="626.3" y="42.3" text-anchor="middle" font-size="21.3" font-family="'Liberation Serif', 'DejaVu Serif', serif" textLength="100.5" lengthAdjust="spacingAndGlyphs" stroke="#000" stroke-width="0.1">Iteration 0</text>
<line x1="522" y1="62.5" x2="558.7" y2="62.5" stroke="#0000ff" stroke-width="5.4"/>
<text x="626.3" y="68.8" text-anchor="middle" font-size="21.3" font-family="'Liberation Serif', 'DejaVu Serif', serif" textLength="111" lengthAdjust="spacingAndGlyphs" stroke="#000" stroke-width="0.1">Iteration 20</text>
<line x1="522" y1="89" x2="558.7" y2="89" stroke="#ff0000" stroke-width="5.4"/>
<text x="626.3" y="95.3" text-anchor="middle" font-size="21.3" font-family="'Liberation Serif', 'DejaVu Serif', serif" textLength="111" lengthAdjust="spacingAndGlyphs" stroke="#000" stroke-width="0.1">Iteration 35</text>
<line x1="522" y1="115.5" x2="558.7" y2="115.5" stroke="#00ff00" stroke-width="5.4"/>
<text x="626.3" y="121.8" text-anchor="middle" font-size="21.3" font-family="'Liberation Serif', 'DejaVu Serif', serif" textLength="111" lengthAdjust="spacingAndGlyphs" stroke="#000" stroke-width="0.1">Iteration 50</text>
<line x1="522" y1="142" x2="558.7" y2="142" stroke="#800080" stroke-width="5.4"/>
<text x="626.3" y="148.3" text-anchor="middle" font-size="21.3" font-family="'Liberation Serif', 'DejaVu Serif', serif" textLength="121.5" lengthAdjust="spacingAndGlyphs" stroke="#000" stroke-width="0.1">Iteration 300</text>
<text x="15.8" y="277.4" text-anchor="middle" font-size="21.3" font-family="'Liberation Serif', 'DejaVu Serif', serif" textLength="118.5" lengthAdjust="spacingAndGlyphs" stroke="#000" stroke-width="0.1" transform="rotate(-90 15.8 277.4)">Projected <tspan font-style="italic">C</tspan><tspan dy="-3.8" font-size="16">*</tspan></text>
<text x="389" y="598.4" text-anchor="middle" font-size="21.3" font-family="'Liberation Serif', 'DejaVu Serif', serif" textLength="20.4" lengthAdjust="spacingAndGlyphs" stroke="#000" stroke-width="0.1"><tspan font-style="italic">x</tspan><tspan dy="-3.8" font-size="16">*</tspan></text>
<text x="354.5" y="638.8" text-anchor="middle" font-size="21.3" font-family="'Liberation Serif', 'DejaVu Serif', serif" textLength="425" lengthAdjust="spacingAndGlyphs" stroke="#000" stroke-width="0.1">(a) Evolution of projected concentration</text>
<defs>
<clipPath id="cb"><rect x="56.3" y="666" width="653.6" height="550.8"/></clipPath>
</defs>
<line x1="56.3" y1="666" x2="56.3" y2="1216.8" stroke="#d3d3d3" stroke-width="1"/>
<line x1="121.66" y1="666" x2="121.66" y2="1216.8" stroke="#d3d3d3" stroke-width="1"/>
<line x1="187.02" y1="666" x2="187.02" y2="1216.8" stroke="#d3d3d3" stroke-width="1"/>
<line x1="252.38" y1="666" x2="252.38" y2="1216.8" stroke="#d3d3d3" stroke-width="1"/>
<line x1="317.74" y1="666" x2="317.74" y2="1216.8" stroke="#d3d3d3" stroke-width="1"/>
<line x1="383.1" y1="666" x2="383.1" y2="1216.8" stroke="#d3d3d3" stroke-width="1"/>
<line x1="448.46" y1="666" x2="448.46" y2="1216.8" stroke="#d3d3d3" stroke-width="1"/>
<line x1="513.82" y1="666" x2="513.82" y2="1216.8" stroke="#d3d3d3" stroke-width="1"/>
<line x1="579.18" y1="666" x2="579.18" y2="1216.8" stroke="#d3d3d3" stroke-width="1"/>
<line x1="644.54" y1="666" x2="644.54" y2="1216.8" stroke="#d3d3d3" stroke-width="1"/>
<line x1="709.9" y1="666" x2="709.9" y2="1216.8" stroke="#d3d3d3" stroke-width="1"/>
<line x1="56.3" y1="1216.8" x2="709.9" y2="1216.8" stroke="#d3d3d3" stroke-width="1"/>
<line x1="56.3" y1="1125" x2="709.9" y2="1125" stroke="#d3d3d3" stroke-width="1"/>
<line x1="56.3" y1="1033.2" x2="709.9" y2="1033.2" stroke="#d3d3d3" stroke-width="1"/>
<line x1="56.3" y1="941.4" x2="709.9" y2="941.4" stroke="#d3d3d3" stroke-width="1"/>
<line x1="56.3" y1="849.6" x2="709.9" y2="849.6" stroke="#d3d3d3" stroke-width="1"/>
<line x1="56.3" y1="757.8" x2="709.9" y2="757.8" stroke="#d3d3d3" stroke-width="1"/>
<line x1="56.3" y1="666" x2="709.9" y2="666" stroke="#d3d3d3" stroke-width="1"/>
<path d="M56.20,748.34 L57.51,751.52 L58.82,754.66 L60.13,757.75 L61.44,760.81 L62.75,763.82 L64.06,766.80 L65.37,769.74 L66.68,772.63 L68.00,775.49 L69.31,778.31 L70.62,781.09 L71.93,783.83 L73.24,786.54 L74.55,789.20 L75.86,791.83 L77.17,794.42 L78.48,796.97 L79.79,799.48 L81.10,801.96 L82.41,804.39 L83.72,806.79 L85.03,809.16 L86.34,811.48 L87.65,813.77 L88.97,816.03 L90.28,818.24 L91.59,820.42 L92.90,822.57 L94.21,824.68 L95.52,826.75 L96.83,828.79 L98.14,830.79 L99.45,832.75 L100.76,834.68 L102.07,836.58 L103.38,838.44 L104.69,840.26 L106.00,842.06 L107.31,843.81 L108.62,845.53 L109.94,847.22 L111.25,848.88 L112.56,850.50 L113.87,852.09 L115.18,853.64 L116.49,855.16 L117.80,856.65 L119.11,858.11 L120.42,859.54 L121.73,860.94 L123.04,862.31 L124.35,863.65 L125.66,864.96 L126.97,866.25 L128.28,867.50 L129.59,868.73 L130.91,869.93 L132.22,871.11 L133.53,872.26 L134.84,873.38 L136.15,874.48 L137.46,875.56 L138.77,876.61 L140.08,877.64 L141.39,878.65 L142.70,879.64 L144.01,880.60 L145.32,881.54 L146.63,882.46 L147.94,883.37 L149.25,884.25 L150.56,885.11 L151.88,885.96 L153.19,886.79 L154.50,887.60 L155.81,888.39 L157.12,889.17 L158.43,889.93 L159.74,890.67 L161.05,891.40 L162.36,892.12 L163.67,892.82 L164.98,893.51 L166.29,894.18 L167.60,894.85 L168.91,895.50 L170.22,896.14 L171.53,896.77 L172.85,897.39 L174.16,898.00 L175.47,898.60 L176.78,899.19 L178.09,899.77 L179.40,900.35 L180.71,900.91 L182.02,901.48 L183.33,902.03 L184.64,902.58 L185.95,903.12 L187.26,903.66 L188.57,904.20 L189.88,904.73 L191.19,905.25 L192.50,905.77 L193.82,906.28 L195.13,906.79 L196.44,907.30 L197.75,907.79 L199.06,908.28 L200.37,908.77 L201.68,909.25 L202.99,909.72 L204.30,910.18 L205.61,910.64 L206.92,911.09 L208.23,911.53 L209.54,911.96 L210.85,912.39 L212.16,912.81 L213.47,913.22 L214.79,913.62 L216.10,914.01 L217.41,914.40 L218.72,914.77 L220.03,915.14 L221.34,915.49 L222.65,915.84 L223.96,916.17 L225.27,916.50 L226.58,916.81 L227.89,917.12 L229.20,917.41 L230.51,917.69 L231.82,917.97 L233.13,918.23 L234.44,918.48 L235.76,918.71 L237.07,918.94 L238.38,919.16 L239.69,919.37 L241.00,919.56 L242.31,919.75 L243.62,919.93 L244.93,920.10 L246.24,920.25 L247.55,920.40 L248.86,920.54 L250.17,920.66 L251.48,920.78 L252.79,920.89 L254.10,920.99 L255.41,921.08 L256.73,921.17 L258.04,921.24 L259.35,921.30 L260.66,921.36 L261.97,921.41 L263.28,921.44 L264.59,921.47 L265.90,921.50 L267.21,921.51 L268.52,921.52 L269.83,921.51 L271.14,921.51 L272.45,921.49 L273.76,921.46 L275.07,921.43 L276.38,921.39 L277.69,921.34 L279.01,921.29 L280.32,921.23 L281.63,921.16 L282.94,921.09 L284.25,921.00 L285.56,920.92 L286.87,920.82 L288.18,920.72 L289.49,920.61 L290.80,920.50 L292.11,920.38 L293.42,920.26 L294.73,920.13 L296.04,919.99 L297.35,919.85 L298.66,919.70 L299.98,919.55 L301.29,919.39 L302.60,919.23 L303.91,919.06 L305.22,918.88 L306.53,918.71 L307.84,918.52 L309.15,918.34 L310.46,918.14 L311.77,917.95 L313.08,917.75 L314.39,917.54 L315.70,917.33 L317.01,917.12 L318.32,916.91 L319.63,916.69 L320.95,916.46 L322.26,916.23 L323.57,916.00 L324.88,915.77 L326.19,915.53 L327.50,915.29 L328.81,915.05 L330.12,914.80 L331.43,914.56 L332.74,914.31 L334.05,914.05 L335.36,913.80 L336.67,913.54 L337.98,913.28 L339.29,913.01 L340.60,912.75 L341.92,912.48 L343.23,912.22 L344.54,911.95 L345.85,911.68 L347.16,911.40 L348.47,911.13 L349.78,910.85 L351.09,910.58 L352.40,910.30 L353.71,910.02 L355.02,909.74 L356.33,909.47 L357.64,909.19 L358.95,908.91 L360.26,908.63 L361.57,908.35 L362.89,908.06 L364.20,907.78 L365.51,907.50 L366.82,907.22 L368.13,906.94 L369.44,906.66 L370.75,906.39 L372.06,906.11 L373.37,905.83 L374.68,905.55 L375.99,905.28 L377.30,905.00 L378.61,904.73 L379.92,904.46 L381.23,904.19 L382.54,903.92 L383.86,903.65 L385.17,903.39 L386.48,903.13 L387.79,902.87 L389.10,902.61 L390.41,902.35 L391.72,902.10 L393.03,901.84 L394.34,901.59 L395.65,901.35 L396.96,901.10 L398.27,900.86 L399.58,900.62 L400.89,900.39 L402.20,900.16 L403.51,899.93 L404.83,899.71 L406.14,899.48 L407.45,899.27 L408.76,899.05 L410.07,898.84 L411.38,898.64 L412.69,898.43 L414.00,898.24 L415.31,898.04 L416.62,897.85 L417.93,897.67 L419.24,897.49 L420.55,897.32 L421.86,897.15 L423.17,896.98 L424.48,896.82 L425.80,896.67 L427.11,896.52 L428.42,896.37 L429.73,896.23 L431.04,896.10 L432.35,895.98 L433.66,895.85 L434.97,895.74 L436.28,895.63 L437.59,895.53 L438.90,895.43 L440.21,895.34 L441.52,895.26 L442.83,895.18 L444.14,895.11 L445.45,895.05 L446.77,894.99 L448.08,894.94 L449.39,894.90 L450.70,894.86 L452.01,894.84 L453.32,894.82 L454.63,894.81 L455.94,894.81 L457.25,894.82 L458.56,894.84 L459.87,894.88 L461.18,894.92 L462.49,894.98 L463.80,895.05 L465.11,895.13 L466.42,895.22 L467.74,895.33 L469.05,895.46 L470.36,895.60 L471.67,895.75 L472.98,895.92 L474.29,896.11 L475.60,896.32 L476.91,896.54 L478.22,896.78 L479.53,897.04 L480.84,897.32 L482.15,897.62 L483.46,897.93 L484.77,898.27 L486.08,898.64 L487.39,899.02 L488.71,899.42 L490.02,899.85 L491.33,900.30 L492.64,900.78 L493.95,901.27 L495.26,901.80 L496.57,902.35 L497.88,902.92 L499.19,903.52 L500.50,904.15 L501.81,904.80 L503.12,905.49 L504.43,906.20 L505.74,906.94 L507.05,907.71 L508.36,908.51 L509.67,909.34 L510.99,910.20 L512.30,911.09 L513.61,912.01 L514.92,912.97 L516.23,913.96 L517.54,914.97 L518.85,916.02 L520.16,917.09 L521.47,918.19 L522.78,919.32 L524.09,920.47 L525.40,921.64 L526.71,922.83 L528.02,924.05 L529.33,925.28 L530.64,926.53 L531.96,927.80 L533.27,929.08 L534.58,930.37 L535.89,931.68 L537.20,933.00 L538.51,934.33 L539.82,935.67 L541.13,937.02 L542.44,938.38 L543.75,939.74 L545.06,941.10 L546.37,942.47 L547.68,943.85 L548.99,945.24 L550.30,946.66 L551.61,948.10 L552.93,949.58 L554.24,951.11 L555.55,952.68 L556.86,954.31 L558.17,956.00 L559.48,957.76 L560.79,959.60 L562.10,961.51 L563.41,963.52 L564.72,965.60 L566.03,967.77 L567.34,970.00 L568.65,972.30 L569.96,974.66 L571.27,977.06 L572.58,979.51 L573.90,982.00 L575.21,984.52 L576.52,987.06 L577.83,989.62 L579.14,992.19 L580.45,994.77 L581.76,997.35 L583.07,999.93 L584.38,1002.51 L585.69,1005.10 L587.00,1007.69 L588.31,1010.28 L589.62,1012.87 L590.93,1015.47 L592.24,1018.06 L593.55,1020.67 L594.87,1023.27 L596.18,1025.87 L597.49,1028.48 L598.80,1031.09 L600.11,1033.70 L601.42,1036.32 L602.73,1038.94 L604.04,1041.56 L605.35,1044.18 L606.66,1046.81 L607.97,1049.43 L609.28,1052.06 L610.59,1054.69 L611.90,1057.33 L613.21,1059.97 L614.52,1062.61 L615.84,1065.25 L617.15,1067.89 L618.46,1070.54 L619.77,1073.19 L621.08,1075.84 L622.39,1078.49 L623.70,1081.15 L625.01,1083.81 L626.32,1086.47 L627.63,1089.13 L628.94,1091.78 L630.25,1094.43 L631.56,1097.07 L632.87,1099.71 L634.18,1102.34 L635.49,1104.95 L636.81,1107.56 L638.12,1110.15 L639.43,1112.73 L640.74,1115.29 L642.05,1117.83 L643.36,1120.36 L644.67,1122.86 L645.98,1125.34 L647.29,1127.80 L648.60,1130.23 L649.91,1132.63 L651.22,1135.01 L652.53,1137.35 L653.84,1139.67 L655.15,1141.95 L656.46,1144.19 L657.78,1146.40 L659.09,1148.58 L660.40,1150.71 L661.71,1152.81 L663.02,1154.86 L664.33,1156.87 L665.64,1158.83 L666.95,1160.75 L668.26,1162.62 L669.57,1164.44 L670.88,1166.21 L672.19,1167.92 L673.50,1169.58 L674.81,1171.19 L676.12,1172.74 L677.43,1174.23 L678.75,1175.66 L680.06,1177.03 L681.37,1178.34 L682.68,1179.58 L683.99,1180.76 L685.30,1181.87 L686.61,1182.91 L687.92,1183.88 L689.23,1184.78 L690.54,1185.60 L691.85,1186.35 L693.16,1187.02 L694.47,1187.61 L695.78,1188.13 L697.09,1188.56 L698.40,1188.91 L699.72,1189.18 L701.03,1189.36 L702.34,1189.46 L703.65,1189.46 L704.96,1189.38 L706.27,1189.20 L707.58,1188.93 L708.89,1188.57 L710.20,1188.11" fill="none" stroke="#000000" stroke-width="5.5" stroke-linejoin="round" stroke-linecap="butt" clip-path="url(#cb)"/>
<path d="M56.21,821.47 C57.06,819.11 59.75,812.52 61.30,807.34 C62.85,802.17 64.12,795.81 65.54,790.40 C66.95,784.98 68.13,778.86 69.77,774.86 C71.42,770.86 72.60,769.21 75.42,766.38 C78.25,763.56 83.43,760.50 86.72,757.91 C90.02,755.32 91.90,753.67 95.20,750.85 C98.49,748.02 103.20,744.49 106.50,740.96 C109.79,737.43 112.38,732.72 114.97,729.66 C117.56,726.60 119.21,724.11 122.03,722.60 C124.86,721.09 128.86,721.09 131.92,720.62 C134.98,720.15 137.66,720.24 140.40,719.77 C143.13,719.30 145.72,717.80 148.31,717.80 C150.89,717.80 153.01,718.17 155.93,719.77 C158.85,721.37 162.76,725.61 165.82,727.40 C168.88,729.19 171.00,729.80 174.29,730.51 C177.59,731.21 181.83,731.64 185.59,731.64 C189.36,731.64 193.83,730.13 196.89,730.51 C199.95,730.89 201.37,730.74 203.95,733.90 C206.54,737.05 209.84,745.67 212.43,749.44 C215.02,753.20 217.14,754.85 219.49,756.50 C221.85,758.15 224.20,757.44 226.55,759.32 C228.91,761.21 231.03,764.27 233.62,767.80 C236.21,771.33 239.36,776.84 242.09,780.51 C244.82,784.18 248.01,787.71 250.00,789.83 C251.99,791.95 252.17,790.77 254.01,793.22 C255.86,795.67 258.95,801.22 261.07,804.52 C263.19,807.82 264.37,809.70 266.72,812.99 C269.08,816.29 272.84,821.00 275.20,824.29 C277.55,827.59 278.96,829.47 280.85,832.77 C282.73,836.06 284.61,840.07 286.50,844.07 C288.38,848.07 290.26,853.01 292.15,856.78 C294.03,860.55 295.68,863.61 297.80,866.67 C299.92,869.73 302.50,871.85 304.86,875.14 C307.21,878.44 307.73,877.27 311.92,886.44 C316.11,895.61 326.05,921.00 330.00,930.17 C333.95,939.34 333.77,937.70 335.65,941.47 C337.53,945.24 339.42,949.00 341.30,952.77 C343.18,956.53 345.07,960.54 346.95,964.07 C348.83,967.60 350.72,970.89 352.60,973.95 C354.48,977.02 356.37,979.84 358.25,982.43 C360.13,985.02 361.54,986.43 363.90,989.49 C366.25,992.55 369.55,997.26 372.37,1000.79 C375.20,1004.32 378.02,1007.85 380.85,1010.68 C383.67,1013.50 387.16,1015.04 389.32,1017.74 C391.49,1020.44 391.68,1023.72 393.84,1026.89 C396.01,1030.07 399.49,1034.19 402.32,1036.78 C405.14,1039.37 407.97,1040.31 410.79,1042.43 C413.62,1044.55 416.06,1046.90 419.27,1049.49 C422.47,1052.08 425.89,1054.88 430.00,1057.97 C434.11,1061.05 439.23,1065.17 443.90,1068.02 C448.57,1070.88 453.31,1072.73 458.02,1075.08 C462.73,1077.44 467.44,1080.03 472.15,1082.15 C476.85,1084.27 481.56,1086.01 486.27,1087.80 C490.98,1089.59 495.69,1091.37 500.40,1092.88 C505.10,1094.39 509.81,1095.66 514.52,1096.84 C519.23,1098.01 523.94,1099.10 528.64,1099.94 C533.35,1100.79 538.06,1101.45 542.77,1101.92 C547.48,1102.39 552.18,1102.58 556.89,1102.77 C561.60,1102.96 566.31,1103.10 571.02,1103.05 C575.73,1103.00 580.43,1102.91 585.14,1102.49 C589.85,1102.06 594.66,1101.82 599.27,1100.51 C603.87,1099.20 608.15,1096.41 612.75,1094.63 C617.35,1092.85 622.16,1091.57 626.87,1089.83 C631.58,1088.09 637.70,1085.97 640.99,1084.18 C644.29,1082.39 644.76,1081.12 646.64,1079.10 C648.53,1077.07 649.94,1074.29 652.29,1072.03 C654.65,1069.77 657.94,1067.66 660.77,1065.54 C663.59,1063.42 666.42,1061.77 669.24,1059.32 C672.07,1056.87 675.13,1053.91 677.72,1050.85 C680.31,1047.79 682.66,1044.73 684.78,1040.96 C686.90,1037.19 688.78,1031.78 690.43,1028.25 C692.08,1024.72 693.49,1021.56 694.67,1019.77 C695.84,1017.98 696.08,1017.51 697.49,1017.51 C698.90,1017.51 701.49,1018.55 703.14,1019.77 C704.79,1021.00 706.20,1023.92 707.38,1024.86 C708.56,1025.80 709.73,1025.33 710.20,1025.42" fill="none" stroke="#0000ff" stroke-width="5.6" stroke-linejoin="round" stroke-linecap="butt" clip-path="url(#cb)"/>
<path d="M56.21,849.72 C57.53,848.78 61.39,845.62 64.12,844.07 C66.85,842.51 69.30,840.77 72.60,840.40 C75.89,840.02 80.13,841.43 83.90,841.81 C87.66,842.18 91.43,842.28 95.20,842.66 C98.96,843.03 102.73,843.93 106.50,844.07 C110.26,844.21 113.56,843.50 117.80,843.50 C122.03,843.50 128.15,844.44 131.92,844.07 C135.69,843.69 137.57,842.18 140.40,841.24 C143.22,840.30 146.28,838.56 148.87,838.42 C151.46,838.28 153.11,838.75 155.93,840.40 C158.76,842.04 162.76,846.05 165.82,848.31 C168.88,850.56 171.47,852.78 174.29,853.95 C177.12,855.13 179.94,855.37 182.77,855.37 C185.59,855.37 188.42,855.13 191.24,853.95 C194.07,852.78 197.36,849.39 199.72,848.31 C202.07,847.22 203.25,846.05 205.37,847.46 C207.49,848.87 210.08,854.14 212.43,856.78 C214.78,859.42 216.90,862.01 219.49,863.28 C222.08,864.55 225.61,864.41 227.97,864.41 C230.32,864.41 231.26,863.09 233.62,863.28 C235.97,863.47 239.87,865.21 242.09,865.54 C244.31,865.87 244.26,864.97 246.95,865.25 C249.64,865.54 254.95,867.84 258.25,867.23 C261.54,866.62 264.13,863.09 266.72,861.58 C269.31,860.08 271.43,858.38 273.79,858.19 C276.14,858.00 278.02,859.18 280.85,860.45 C283.67,861.72 287.91,865.11 290.73,865.82 C293.56,866.53 295.21,865.11 297.80,864.69 C300.39,864.27 303.45,863.79 306.27,863.28 C309.10,862.76 311.45,861.96 314.75,861.58 C318.04,861.21 323.50,861.36 326.05,861.02 C328.59,860.68 328.16,859.79 330.00,859.55 C331.84,859.30 334.94,858.37 337.06,859.55 C339.18,860.73 340.83,864.02 342.71,866.61 C344.60,869.20 346.48,872.26 348.36,875.08 C350.24,877.91 352.13,880.50 354.01,883.56 C355.89,886.62 357.78,889.92 359.66,893.45 C361.54,896.98 363.19,900.27 365.31,904.75 C367.43,909.22 370.02,915.10 372.37,920.28 C374.73,925.46 377.08,930.40 379.44,935.82 C381.79,941.23 384.14,947.12 386.50,952.77 C388.85,958.42 391.21,964.07 393.56,969.72 C395.91,975.37 398.50,982.19 400.62,986.67 C402.74,991.14 404.62,994.20 406.27,996.55 C407.92,998.91 408.86,998.67 410.51,1000.79 C412.16,1002.91 414.04,1006.44 416.16,1009.27 C418.28,1012.09 420.48,1015.27 423.22,1017.74 C425.96,1020.21 429.15,1021.84 432.60,1024.07 C436.05,1026.30 440.13,1028.78 443.90,1031.13 C447.66,1033.48 451.43,1036.07 455.20,1038.19 C458.96,1040.31 462.26,1042.05 466.50,1043.84 C470.73,1045.63 475.91,1047.51 480.62,1048.93 C485.33,1050.34 490.04,1051.19 494.75,1052.32 C499.45,1053.45 504.16,1054.76 508.87,1055.71 C513.58,1056.65 518.29,1057.40 522.99,1057.97 C527.70,1058.53 532.41,1058.91 537.12,1059.10 C541.83,1059.28 546.53,1059.28 551.24,1059.10 C555.95,1058.91 560.66,1058.72 565.37,1057.97 C570.08,1057.21 574.78,1056.22 579.49,1054.58 C584.20,1052.93 590.43,1049.63 593.62,1048.08 C596.80,1046.53 595.43,1046.90 598.62,1045.25 C601.81,1043.61 608.04,1040.78 612.75,1038.19 C617.45,1035.60 622.16,1032.78 626.87,1029.72 C631.58,1026.66 636.76,1023.36 640.99,1019.83 C645.23,1016.30 648.53,1012.53 652.29,1008.53 C656.06,1004.53 659.83,1000.53 663.59,995.82 C667.36,991.11 671.36,985.23 674.89,980.28 C678.42,975.34 681.95,970.87 684.78,966.16 C687.60,961.45 689.72,957.92 691.84,952.03 C693.96,946.15 695.70,936.73 697.49,930.85 C699.28,924.96 701.16,917.66 702.58,916.72 C703.99,915.78 704.69,923.55 705.97,925.20 C707.24,926.85 709.50,926.37 710.20,926.61" fill="none" stroke="#ff0000" stroke-width="5.6" stroke-linejoin="round" stroke-linecap="butt" clip-path="url(#cb)"/>
<path d="M56.21,870.90 C57.53,870.20 61.86,867.75 64.12,866.67 C66.38,865.58 67.42,864.41 69.77,864.41 C72.13,864.41 74.48,865.44 78.25,866.67 C82.02,867.89 87.66,870.10 92.37,871.75 C97.08,873.40 101.79,875.42 106.50,876.55 C111.21,877.68 115.91,878.20 120.62,878.53 C125.33,878.86 130.04,879.10 134.75,878.53 C139.45,877.97 144.16,875.56 148.87,875.14 C153.58,874.72 158.76,875.38 162.99,875.99 C167.23,876.60 170.53,877.45 174.29,878.81 C178.06,880.18 182.30,883.00 185.59,884.18 C188.89,885.36 191.24,886.21 194.07,885.88 C196.89,885.55 200.19,882.91 202.54,882.20 C204.90,881.50 206.31,880.93 208.19,881.64 C210.08,882.34 211.49,884.70 213.84,886.44 C216.20,888.18 219.49,891.05 222.32,892.09 C225.14,893.13 227.97,893.60 230.79,892.66 C233.62,891.71 236.91,887.95 239.27,886.44 C241.62,884.93 243.63,884.12 244.92,883.62 C246.20,883.11 245.20,882.96 246.95,883.39 C248.70,883.82 253.07,885.37 255.42,886.21 C257.78,887.06 259.19,888.33 261.07,888.47 C262.96,888.62 264.37,887.53 266.72,887.06 C269.08,886.59 272.37,885.18 275.20,885.65 C278.02,886.12 280.85,888.47 283.67,889.89 C286.50,891.30 288.85,892.95 292.15,894.12 C295.44,895.30 299.68,895.77 303.45,896.95 C307.21,898.13 311.45,900.62 314.75,901.19 C318.04,901.75 320.68,901.16 323.22,900.34 C325.76,899.52 327.93,898.36 330.00,896.27 C332.07,894.18 333.53,890.39 335.65,887.80 C337.77,885.21 340.12,882.48 342.71,880.73 C345.30,878.99 348.60,877.82 351.19,877.34 C353.78,876.87 356.13,877.11 358.25,877.91 C360.37,878.71 362.02,880.03 363.90,882.15 C365.78,884.27 367.66,887.33 369.55,890.62 C371.43,893.92 373.31,897.68 375.20,901.92 C377.08,906.16 378.96,911.81 380.85,916.05 C382.73,920.28 384.61,924.99 386.50,927.34 C388.38,929.70 390.26,929.56 392.15,930.17 C394.03,930.78 395.91,930.55 397.80,931.02 C399.68,931.49 401.56,932.19 403.45,932.99 C405.33,933.79 407.21,933.94 409.10,935.82 C410.98,937.70 412.86,941.47 414.75,944.29 C416.63,947.12 418.51,949.71 420.40,952.77 C422.28,955.83 424.16,959.36 426.05,962.66 C427.93,965.95 429.81,969.48 431.69,972.54 C433.58,975.60 435.46,978.19 437.34,981.02 C439.23,983.84 441.11,987.14 442.99,989.49 C444.88,991.85 446.29,993.02 448.64,995.14 C451.00,997.26 454.29,999.85 457.12,1002.20 C459.94,1004.56 462.77,1007.15 465.59,1009.27 C468.42,1011.38 471.56,1012.92 474.07,1014.92 C476.57,1016.91 477.18,1019.01 480.62,1021.24 C484.07,1023.47 490.04,1026.05 494.75,1028.31 C499.45,1030.56 504.16,1033.15 508.87,1034.80 C513.58,1036.45 518.29,1037.06 522.99,1038.19 C527.70,1039.32 532.41,1040.73 537.12,1041.58 C541.83,1042.43 546.53,1042.99 551.24,1043.28 C555.95,1043.56 560.66,1043.75 565.37,1043.28 C570.08,1042.81 574.78,1041.77 579.49,1040.45 C584.20,1039.13 590.43,1036.92 593.62,1035.37 C596.80,1033.81 595.43,1033.01 598.62,1031.13 C601.81,1029.25 608.04,1026.66 612.75,1024.07 C617.45,1021.48 622.16,1018.65 626.87,1015.59 C631.58,1012.53 636.29,1009.71 640.99,1005.71 C645.70,1001.70 650.88,996.29 655.12,991.58 C659.36,986.87 663.12,982.17 666.42,977.46 C669.71,972.75 672.07,968.04 674.89,963.33 C677.72,958.63 680.78,952.74 683.37,949.21 C685.96,945.68 688.55,945.21 690.43,942.15 C692.31,939.09 693.25,936.50 694.67,930.85 C696.08,925.20 697.26,913.19 698.90,908.25 C700.55,903.31 702.91,900.95 704.55,901.19 C706.20,901.42 708.08,908.25 708.79,909.66" fill="none" stroke="#00ff00" stroke-width="5.6" stroke-linejoin="round" stroke-linecap="butt" clip-path="url(#cb)"/>
<path d="M56.21,925.76 L61.30,922.94 L68.36,922.37 L75.42,924.35 L83.90,925.20 L92.37,927.18 L100.85,928.87 L112.15,930.28 L123.45,931.41 L134.75,933.11 L146.05,934.52 L157.34,936.50 L168.64,937.91 L179.94,939.32 L191.24,939.89 L198.31,943.56 L205.37,944.41 L212.43,943.84 L219.49,939.89 L227.97,935.08 L233.62,933.11 L239.27,939.32 L244.92,942.71 L252.60,935.08 L259.66,932.26 L265.31,937.91 L272.37,949.21 L278.02,942.15 L283.67,937.91 L289.32,937.91 L293.56,935.08 L297.80,932.26 L304.86,949.21 L310.51,942.15 L314.75,940.73 L318.98,944.97 L324.63,957.68 L330.28,953.45 L337.34,940.73 L338.47,940.06 L344.12,944.29 L349.77,942.88 L355.42,938.64 L361.07,938.64 L365.31,932.99 L370.96,929.60 L376.61,932.99 L382.26,941.47 L389.32,948.53 L393.56,940.06 L399.21,928.76 L404.86,920.28 L410.51,917.46 L414.75,921.69 L420.40,932.99 L424.63,944.29 L428.87,954.18 L433.11,944.29 L437.34,940.06 L441.58,930.17 L447.23,921.13 L452.88,918.87 L457.12,924.52 L461.36,938.64 L465.59,944.29 L469.83,944.29 L474.07,935.82 L478.31,924.52 L483.95,913.22 L489.60,909.83 L495.25,916.05 L499.49,925.93 L503.73,932.99 L507.97,938.64 L513.62,930.17 L517.85,928.76 L522.09,932.99 L526.33,944.29 L527.23,947.80 L531.47,940.73 L535.71,937.91 L539.94,936.50 L544.18,940.73 L548.42,947.80 L554.07,949.21 L558.31,956.27 L562.54,970.40 L566.78,988.76 L572.43,995.82 L579.49,1012.77 L585.14,1026.89 L590.79,1026.33 L596.44,1021.24 L602.09,1009.94 L606.33,998.64 L611.33,994.41 L618.40,992.43 L624.05,984.52 L631.11,974.63 L636.76,970.40 L643.82,961.92 L649.47,959.10 L656.53,957.68 L662.18,950.62 L667.83,940.73 L674.89,929.44 L681.95,919.55 L687.60,911.07 L693.25,902.60 L697.49,898.36 L700.32,881.47 L703.14,864.52 L705.97,854.63 L708.79,849.83" fill="none" stroke="#800080" stroke-width="5.6" stroke-linejoin="round" stroke-linecap="butt" clip-path="url(#cb)"/>
<line x1="56.3" y1="1216.8" x2="56.3" y2="1207.8" stroke="#9c9c9c" stroke-width="1"/>
<line x1="56.3" y1="666" x2="56.3" y2="675" stroke="#9c9c9c" stroke-width="1"/>
<line x1="121.66" y1="1216.8" x2="121.66" y2="1207.8" stroke="#9c9c9c" stroke-width="1"/>
<line x1="121.66" y1="666" x2="121.66" y2="675" stroke="#9c9c9c" stroke-width="1"/>
<line x1="187.02" y1="1216.8" x2="187.02" y2="1207.8" stroke="#9c9c9c" stroke-width="1"/>
<line x1="187.02" y1="666" x2="187.02" y2="675" stroke="#9c9c9c" stroke-width="1"/>
<line x1="252.38" y1="1216.8" x2="252.38" y2="1207.8" stroke="#9c9c9c" stroke-width="1"/>
<line x1="252.38" y1="666" x2="252.38" y2="675" stroke="#9c9c9c" stroke-width="1"/>
<line x1="317.74" y1="1216.8" x2="317.74" y2="1207.8" stroke="#9c9c9c" stroke-width="1"/>
<line x1="317.74" y1="666" x2="317.74" y2="675" stroke="#9c9c9c" stroke-width="1"/>
<line x1="383.1" y1="1216.8" x2="383.1" y2="1207.8" stroke="#9c9c9c" stroke-width="1"/>
<line x1="383.1" y1="666" x2="383.1" y2="675" stroke="#9c9c9c" stroke-width="1"/>
<line x1="448.46" y1="1216.8" x2="448.46" y2="1207.8" stroke="#9c9c9c" stroke-width="1"/>
<line x1="448.46" y1="666" x2="448.46" y2="675" stroke="#9c9c9c" stroke-width="1"/>
<line x1="513.82" y1="1216.8" x2="513.82" y2="1207.8" stroke="#9c9c9c" stroke-width="1"/>
<line x1="513.82" y1="666" x2="513.82" y2="675" stroke="#9c9c9c" stroke-width="1"/>
<line x1="579.18" y1="1216.8" x2="579.18" y2="1207.8" stroke="#9c9c9c" stroke-width="1"/>
<line x1="579.18" y1="666" x2="579.18" y2="675" stroke="#9c9c9c" stroke-width="1"/>
<line x1="644.54" y1="1216.8" x2="644.54" y2="1207.8" stroke="#9c9c9c" stroke-width="1"/>
<line x1="644.54" y1="666" x2="644.54" y2="675" stroke="#9c9c9c" stroke-width="1"/>
<line x1="709.9" y1="1216.8" x2="709.9" y2="1207.8" stroke="#9c9c9c" stroke-width="1"/>
<line x1="709.9" y1="666" x2="709.9" y2="675" stroke="#9c9c9c" stroke-width="1"/>
<line x1="56.3" y1="1216.8" x2="65.3" y2="1216.8" stroke="#9c9c9c" stroke-width="1"/>
<line x1="709.9" y1="1216.8" x2="700.9" y2="1216.8" stroke="#9c9c9c" stroke-width="1"/>
<line x1="56.3" y1="1125" x2="65.3" y2="1125" stroke="#9c9c9c" stroke-width="1"/>
<line x1="709.9" y1="1125" x2="700.9" y2="1125" stroke="#9c9c9c" stroke-width="1"/>
<line x1="56.3" y1="1033.2" x2="65.3" y2="1033.2" stroke="#9c9c9c" stroke-width="1"/>
<line x1="709.9" y1="1033.2" x2="700.9" y2="1033.2" stroke="#9c9c9c" stroke-width="1"/>
<line x1="56.3" y1="941.4" x2="65.3" y2="941.4" stroke="#9c9c9c" stroke-width="1"/>
<line x1="709.9" y1="941.4" x2="700.9" y2="941.4" stroke="#9c9c9c" stroke-width="1"/>
<line x1="56.3" y1="849.6" x2="65.3" y2="849.6" stroke="#9c9c9c" stroke-width="1"/>
<line x1="709.9" y1="849.6" x2="700.9" y2="849.6" stroke="#9c9c9c" stroke-width="1"/>
<line x1="56.3" y1="757.8" x2="65.3" y2="757.8" stroke="#9c9c9c" stroke-width="1"/>
<line x1="709.9" y1="757.8" x2="700.9" y2="757.8" stroke="#9c9c9c" stroke-width="1"/>
<line x1="56.3" y1="666" x2="65.3" y2="666" stroke="#9c9c9c" stroke-width="1"/>
<line x1="709.9" y1="666" x2="700.9" y2="666" stroke="#9c9c9c" stroke-width="1"/>
<rect x="56.3" y="666" width="653.6" height="550.8" fill="none" stroke="#333" stroke-width="1.3"/>
<text x="56.3" y="1239" text-anchor="middle" font-size="21.3" font-family="'Liberation Serif', 'DejaVu Serif', serif" stroke="#000" stroke-width="0.1">0</text>
<text x="121.66" y="1239" text-anchor="middle" font-size="21.3" font-family="'Liberation Serif', 'DejaVu Serif', serif" stroke="#000" stroke-width="0.1">0.1</text>
<text x="187.02" y="1239" text-anchor="middle" font-size="21.3" font-family="'Liberation Serif', 'DejaVu Serif', serif" stroke="#000" stroke-width="0.1">0.2</text>
<text x="252.38" y="1239" text-anchor="middle" font-size="21.3" font-family="'Liberation Serif', 'DejaVu Serif', serif" stroke="#000" stroke-width="0.1">0.3</text>
<text x="317.74" y="1239" text-anchor="middle" font-size="21.3" font-family="'Liberation Serif', 'DejaVu Serif', serif" stroke="#000" stroke-width="0.1">0.4</text>
<text x="383.1" y="1239" text-anchor="middle" font-size="21.3" font-family="'Liberation Serif', 'DejaVu Serif', serif" stroke="#000" stroke-width="0.1">0.5</text>
<text x="448.46" y="1239" text-anchor="middle" font-size="21.3" font-family="'Liberation Serif', 'DejaVu Serif', serif" stroke="#000" stroke-width="0.1">0.6</text>
<text x="513.82" y="1239" text-anchor="middle" font-size="21.3" font-family="'Liberation Serif', 'DejaVu Serif', serif" stroke="#000" stroke-width="0.1">0.7</text>
<text x="579.18" y="1239" text-anchor="middle" font-size="21.3" font-family="'Liberation Serif', 'DejaVu Serif', serif" stroke="#000" stroke-width="0.1">0.8</text>
<text x="644.54" y="1239" text-anchor="middle" font-size="21.3" font-family="'Liberation Serif', 'DejaVu Serif', serif" stroke="#000" stroke-width="0.1">0.9</text>
<text x="709.9" y="1239" text-anchor="middle" font-size="21.3" font-family="'Liberation Serif', 'DejaVu Serif', serif" stroke="#000" stroke-width="0.1">1</text>
<text x="47.8" y="1224.1" text-anchor="end" font-size="21.3" font-family="'Liberation Serif', 'DejaVu Serif', serif" stroke="#000" stroke-width="0.1">0</text>
<text x="47.8" y="1132.3" text-anchor="end" font-size="21.3" font-family="'Liberation Serif', 'DejaVu Serif', serif" stroke="#000" stroke-width="0.1">1</text>
<text x="47.8" y="1040.5" text-anchor="end" font-size="21.3" font-family="'Liberation Serif', 'DejaVu Serif', serif" stroke="#000" stroke-width="0.1">2</text>
<text x="47.8" y="948.7" text-anchor="end" font-size="21.3" font-family="'Liberation Serif', 'DejaVu Serif', serif" stroke="#000" stroke-width="0.1">3</text>
<text x="47.8" y="856.9" text-anchor="end" font-size="21.3" font-family="'Liberation Serif', 'DejaVu Serif', serif" stroke="#000" stroke-width="0.1">4</text>
<text x="47.8" y="765.1" text-anchor="end" font-size="21.3" font-family="'Liberation Serif', 'DejaVu Serif', serif" stroke="#000" stroke-width="0.1">5</text>
<text x="47.8" y="673.3" text-anchor="end" font-size="21.3" font-family="'Liberation Serif', 'DejaVu Serif', serif" stroke="#000" stroke-width="0.1">6</text>
<rect x="345.5" y="692" width="351.7" height="90" fill="#fff" stroke="#262626" stroke-width="1.1"/>
<line x1="354.2" y1="710.2" x2="391.7" y2="710.2" stroke="#000000" stroke-width="5.4"/>
<text x="460.7" y="716.5" text-anchor="middle" font-size="21.3" font-family="'Liberation Serif', 'DejaVu Serif', serif" textLength="100.5" lengthAdjust="spacingAndGlyphs" stroke="#000" stroke-width="0.1">Iteration 0</text>
<line x1="529.7" y1="710.2" x2="566.2" y2="710.2" stroke="#0000ff" stroke-width="5.4"/>
<text x="629.8" y="716.5" text-anchor="middle" font-size="21.3" font-family="'Liberation Serif', 'DejaVu Serif', serif" textLength="111.5" lengthAdjust="spacingAndGlyphs" stroke="#000" stroke-width="0.1">Iteration 20</text>
<line x1="354.2" y1="736.8" x2="391.7" y2="736.8" stroke="#ff0000" stroke-width="5.4"/>
<text x="460.7" y="743.1" text-anchor="middle" font-size="21.3" font-family="'Liberation Serif', 'DejaVu Serif', serif" textLength="111.5" lengthAdjust="spacingAndGlyphs" stroke="#000" stroke-width="0.1">Iteration 35</text>
<line x1="529.7" y1="736.8" x2="566.2" y2="736.8" stroke="#00ff00" stroke-width="5.4"/>
<text x="629.8" y="743.1" text-anchor="middle" font-size="21.3" font-family="'Liberation Serif', 'DejaVu Serif', serif" textLength="111.5" lengthAdjust="spacingAndGlyphs" stroke="#000" stroke-width="0.1">Iteration 50</text>
<line x1="354.2" y1="763.4" x2="391.7" y2="763.4" stroke="#800080" stroke-width="5.4"/>
<text x="460.7" y="769.7" text-anchor="middle" font-size="21.3" font-family="'Liberation Serif', 'DejaVu Serif', serif" textLength="122" lengthAdjust="spacingAndGlyphs" stroke="#000" stroke-width="0.1">Iteration 300</text>
<text x="17.2" y="941.4" text-anchor="middle" font-size="21.3" font-family="'Liberation Serif', 'DejaVu Serif', serif" textLength="162" lengthAdjust="spacingAndGlyphs" stroke="#000" stroke-width="0.1" transform="rotate(-90 17.2 941.4)">Projected |<tspan font-style="italic">a</tspan><tspan dy="-3.8" font-size="16">*</tspan><tspan dy="3.8" font-style="italic">j</tspan><tspan dy="-3.8" font-size="16">*</tspan><tspan dy="8.8" dx="-7" font-size="15">src</tspan><tspan dy="-5">|</tspan></text>
<text x="380.2" y="1268" text-anchor="middle" font-size="21.3" font-family="'Liberation Serif', 'DejaVu Serif', serif" textLength="19.7" lengthAdjust="spacingAndGlyphs" stroke="#000" stroke-width="0.1"><tspan font-style="italic">x</tspan><tspan dy="-3.8" font-size="16">*</tspan></text>
<text x="355.2" y="1310.9" text-anchor="middle" font-size="21.3" font-family="'Liberation Serif', 'DejaVu Serif', serif" textLength="460" lengthAdjust="spacingAndGlyphs" stroke="#000" stroke-width="0.1">(b) Distribution of projected current source</text>
<defs>
<clipPath id="cc"><rect x="71.4" y="1348.7" width="642.2" height="540.2"/></clipPath>
</defs>
<line x1="71.4" y1="1348.7" x2="71.4" y2="1888.9" stroke="#dedede" stroke-width="0.9"/>
<line x1="178.43" y1="1348.7" x2="178.43" y2="1888.9" stroke="#dedede" stroke-width="0.9"/>
<line x1="285.47" y1="1348.7" x2="285.47" y2="1888.9" stroke="#dedede" stroke-width="0.9"/>
<line x1="499.53" y1="1348.7" x2="499.53" y2="1888.9" stroke="#dedede" stroke-width="0.9"/>
<line x1="606.57" y1="1348.7" x2="606.57" y2="1888.9" stroke="#dedede" stroke-width="0.9"/>
<line x1="713.6" y1="1348.7" x2="713.6" y2="1888.9" stroke="#dedede" stroke-width="0.9"/>
<line x1="71.4" y1="1888.9" x2="713.6" y2="1888.9" stroke="#dedede" stroke-width="0.9"/>
<line x1="71.4" y1="1821.38" x2="713.6" y2="1821.38" stroke="#dedede" stroke-width="0.9"/>
<line x1="71.4" y1="1753.85" x2="713.6" y2="1753.85" stroke="#dedede" stroke-width="0.9"/>
<line x1="71.4" y1="1686.33" x2="713.6" y2="1686.33" stroke="#dedede" stroke-width="0.9"/>
<line x1="71.4" y1="1618.8" x2="713.6" y2="1618.8" stroke="#dedede" stroke-width="0.9"/>
<line x1="71.4" y1="1551.28" x2="713.6" y2="1551.28" stroke="#dedede" stroke-width="0.9"/>
<line x1="71.4" y1="1483.75" x2="713.6" y2="1483.75" stroke="#dedede" stroke-width="0.9"/>
<line x1="71.4" y1="1348.7" x2="713.6" y2="1348.7" stroke="#dedede" stroke-width="0.9"/>
<path d="M71.70,1364.00 C71.80,1376.67 72.08,1417.33 72.30,1440.00 C72.52,1462.67 72.67,1481.50 73.00,1500.00 C73.33,1518.50 73.93,1536.00 74.30,1551.00 C74.67,1566.00 74.87,1578.83 75.20,1590.00 C75.53,1601.17 75.78,1609.67 76.30,1618.00 C76.82,1626.33 77.68,1633.00 78.30,1640.00 C78.92,1647.00 79.45,1654.17 80.00,1660.00 C80.55,1665.83 81.05,1670.10 81.60,1675.00 C82.15,1679.90 82.62,1685.35 83.30,1689.40 C83.98,1693.45 84.63,1696.00 85.70,1699.30 C86.77,1702.60 88.22,1706.25 89.70,1709.20 C91.18,1712.15 92.63,1714.62 94.60,1717.00 C96.57,1719.38 99.43,1721.33 101.50,1723.50 C103.57,1725.67 105.45,1727.43 107.00,1730.00 C108.55,1732.57 109.67,1735.73 110.80,1738.90 C111.93,1742.07 112.68,1745.48 113.80,1749.00 C114.92,1752.52 116.13,1756.67 117.50,1760.00 C118.87,1763.33 120.33,1766.08 122.00,1769.00 C123.67,1771.92 125.52,1774.90 127.50,1777.50 C129.48,1780.10 131.33,1782.00 133.90,1784.60 C136.47,1787.20 140.27,1790.63 142.90,1793.10 C145.53,1795.57 147.05,1797.55 149.70,1799.40 C152.35,1801.25 155.78,1802.88 158.80,1804.20 C161.82,1805.52 164.42,1806.37 167.80,1807.30 C171.18,1808.23 175.33,1809.03 179.10,1809.80 C182.87,1810.57 186.63,1811.30 190.40,1811.90 C194.17,1812.50 197.93,1812.88 201.70,1813.40 C205.47,1813.92 209.23,1814.53 213.00,1815.00 C216.77,1815.47 220.53,1815.82 224.30,1816.20 C228.07,1816.58 231.83,1817.00 235.60,1817.30 C239.37,1817.60 242.83,1817.78 246.90,1818.00 C250.97,1818.22 253.70,1818.37 260.00,1818.60 C266.30,1818.83 272.95,1819.07 284.70,1819.40 C296.45,1819.73 316.62,1820.23 330.50,1820.60 C344.38,1820.97 353.28,1821.27 368.00,1821.60 C382.72,1821.93 401.85,1822.30 418.80,1822.60 C435.75,1822.90 452.75,1823.17 469.70,1823.40 C486.65,1823.63 503.55,1823.82 520.50,1824.00 C537.45,1824.18 554.45,1824.35 571.40,1824.50 C588.35,1824.65 605.27,1824.78 622.20,1824.90 C639.13,1825.02 657.70,1825.12 673.00,1825.20 C688.30,1825.28 707.17,1825.37 714.00,1825.40" fill="none" stroke="#0000ff" stroke-width="7.6" stroke-linejoin="round" stroke-linecap="butt" clip-path="url(#cc)"/>
<defs>
<linearGradient id="g1" x1="0" y1="0" x2="1" y2="0"><stop offset="0" stop-color="#f4ff0c"/><stop offset="0.033" stop-color="#c8ff38"/><stop offset="0.079" stop-color="#98ff68"/><stop offset="0.124" stop-color="#7cff84"/><stop offset="0.275" stop-color="#7cff84"/><stop offset="0.32" stop-color="#90ff70"/><stop offset="0.38" stop-color="#b8ff48"/><stop offset="0.44" stop-color="#f0ff10"/><stop offset="0.47" stop-color="#ffff00"/><stop offset="0.517" stop-color="#ffd000"/><stop offset="0.56" stop-color="#ffa000"/><stop offset="0.607" stop-color="#ff6000"/><stop offset="0.668" stop-color="#ff2000"/><stop offset="0.713" stop-color="#fa0000"/><stop offset="0.758" stop-color="#e00000"/><stop offset="0.819" stop-color="#dc0000"/><stop offset="0.864" stop-color="#fa0000"/><stop offset="0.94" stop-color="#ff2000"/><stop offset="1" stop-color="#ff3c00"/></linearGradient>
<linearGradient id="cbar" x1="0" y1="0" x2="0" y2="1"><stop offset="0" stop-color="#800000"/><stop offset="0.125" stop-color="#ff0000"/><stop offset="0.375" stop-color="#ffff00"/><stop offset="0.625" stop-color="#00ffff"/><stop offset="0.875" stop-color="#0000ff"/><stop offset="1" stop-color="#00008f"/></linearGradient>
<linearGradient id="g3mid" gradientUnits="userSpaceOnUse" x1="138.4" y1="0" x2="262" y2="0"><stop offset="0" stop-color="#28d0f0"/><stop offset="0.05" stop-color="#60f8b0"/><stop offset="0.12" stop-color="#98ff68"/><stop offset="0.3" stop-color="#a8ff58"/><stop offset="0.48" stop-color="#a0ff60"/><stop offset="0.58" stop-color="#60ffa0"/><stop offset="0.68" stop-color="#20f0f0"/><stop offset="0.8" stop-color="#10c0ff"/><stop offset="1" stop-color="#0a8cff"/></linearGradient>
<linearGradient id="g3band" gradientUnits="userSpaceOnUse" x1="138.4" y1="0" x2="270" y2="0"><stop offset="0" stop-color="#0a60ff"/><stop offset="0.5" stop-color="#0a68ff"/><stop offset="0.75" stop-color="#0a78ff"/><stop offset="1" stop-color="#0a8cff"/></linearGradient>
<linearGradient id="g2dark" gradientUnits="userSpaceOnUse" x1="421" y1="0" x2="566" y2="0"><stop offset="0" stop-color="#0a0ae6"/><stop offset="0.3" stop-color="#0a0ae6"/><stop offset="0.33" stop-color="#0a22ee"/><stop offset="1" stop-color="#0a34f0"/></linearGradient>
<filter id="bl05" x="-10%" y="-10%" width="120%" height="120%"><feGaussianBlur stdDeviation="0.6"/></filter>
<filter id="bl1" x="-20%" y="-20%" width="140%" height="140%"><feGaussianBlur stdDeviation="1.1"/></filter>
<filter id="bl2" x="-20%" y="-20%" width="140%" height="140%"><feGaussianBlur stdDeviation="2.2"/></filter>
<filter id="bl3" x="-30%" y="-30%" width="160%" height="160%"><feGaussianBlur stdDeviation="3.5"/></filter>
<filter id="bl6" x="-30%" y="-30%" width="160%" height="160%"><feGaussianBlur stdDeviation="6"/></filter>
<clipPath id="i1"><rect x="138.4" y="1378.3" width="168.40" height="176.50"/></clipPath>
<clipPath id="i2"><rect x="421.0" y="1378.3" width="167.90" height="176.50"/></clipPath>
<clipPath id="i3"><rect x="138.4" y="1580.5" width="168.40" height="177.30"/></clipPath>
<clipPath id="i4"><rect x="421.0" y="1580.5" width="167.90" height="177.30"/></clipPath>
</defs>
<rect x="138.4" y="1378.3" width="168.40" height="176.50" fill="url(#g1)"/>
<line x1="138.4" y1="1378.3" x2="306.8" y2="1378.3" stroke="#8a8a8a" stroke-width="1"/>
<line x1="138.4" y1="1378.3" x2="138.4" y2="1554.8" stroke="#1a1a1a" stroke-width="1"/>
<rect x="311.3" y="1403.2" width="4.6" height="149.00" fill="url(#cbar)"/>
<line x1="311.7" y1="1403.2" x2="311.7" y2="1552.2" stroke="#000" stroke-opacity="0.45" stroke-width="0.8"/>
<line x1="314.3" y1="1403.20" x2="315.90000000000003" y2="1403.20" stroke="#000" stroke-width="0.7"/>
<text x="317.5" y="1409.8" text-anchor="start" font-size="17.6" font-family="'DejaVu Sans', 'Liberation Sans', sans-serif">40</text>
<line x1="314.3" y1="1440.45" x2="315.90000000000003" y2="1440.45" stroke="#000" stroke-width="0.7"/>
<text x="317.5" y="1447.05" text-anchor="start" font-size="17.6" font-family="'DejaVu Sans', 'Liberation Sans', sans-serif">30</text>
<line x1="314.3" y1="1477.70" x2="315.90000000000003" y2="1477.70" stroke="#000" stroke-width="0.7"/>
<text x="317.5" y="1484.3" text-anchor="start" font-size="17.6" font-family="'DejaVu Sans', 'Liberation Sans', sans-serif">20</text>
<line x1="314.3" y1="1514.95" x2="315.90000000000003" y2="1514.95" stroke="#000" stroke-width="0.7"/>
<text x="317.5" y="1521.55" text-anchor="start" font-size="17.6" font-family="'DejaVu Sans', 'Liberation Sans', sans-serif">10</text>
<line x1="314.3" y1="1552.20" x2="315.90000000000003" y2="1552.20" stroke="#000" stroke-width="0.7"/>
<text x="317.5" y="1558.8" text-anchor="start" font-size="17.6" font-family="'DejaVu Sans', 'Liberation Sans', sans-serif">0</text>
<defs>
<linearGradient id="g3mid2" gradientUnits="userSpaceOnUse" x1="138.4" y1="0" x2="306.8" y2="0"><stop offset="0" stop-color="#30d0f0"/><stop offset="0.06" stop-color="#48e8d0"/><stop offset="0.12" stop-color="#80fc88"/><stop offset="0.22" stop-color="#a0ff60"/><stop offset="0.32" stop-color="#90ff70"/><stop offset="0.4" stop-color="#50f8b8"/><stop offset="0.48" stop-color="#20e0f8"/><stop offset="0.56" stop-color="#10c0ff"/><stop offset="0.66" stop-color="#10a0ff"/><stop offset="0.78" stop-color="#0a90ff"/><stop offset="1" stop-color="#0a8cff"/></linearGradient>
<linearGradient id="g3band2" gradientUnits="userSpaceOnUse" x1="138.4" y1="0" x2="306.8" y2="0"><stop offset="0" stop-color="#0a6cff"/><stop offset="0.45" stop-color="#0a74ff"/><stop offset="0.65" stop-color="#0a86ff"/><stop offset="1" stop-color="#0a8cff"/></linearGradient>
<linearGradient id="g3strip" gradientUnits="userSpaceOnUse" x1="138.4" y1="0" x2="306.8" y2="0"><stop offset="0" stop-color="#e00000" stop-opacity="1"/><stop offset="0.3" stop-color="#e80000" stop-opacity="1"/><stop offset="0.38" stop-color="#ff4000" stop-opacity="1"/><stop offset="0.44" stop-color="#ffa000" stop-opacity="1"/><stop offset="0.5" stop-color="#e0ff20" stop-opacity="1"/><stop offset="0.56" stop-color="#80ff80" stop-opacity="1"/><stop offset="0.63" stop-color="#30e0f0" stop-opacity="0.9"/><stop offset="0.72" stop-color="#10b0ff" stop-opacity="0"/></linearGradient>
</defs>
<g clip-path="url(#i3)">
<rect x="138.4" y="1580.5" width="168.40" height="177.30" fill="#0a8cff"/>
<rect x="296" y="1580.5" width="12" height="177.30" fill="#12a0ff" filter="url(#bl3)"/>
<rect x="132.4" y="1604" width="180.4" height="130" fill="url(#g3mid2)" filter="url(#bl3)"/>
<rect x="132.4" y="1590" width="180.4" height="15.5" fill="url(#g3band2)" filter="url(#bl2)"/>
<rect x="132.4" y="1732" width="180.4" height="15.5" fill="url(#g3band2)" filter="url(#bl2)"/>
<ellipse cx="246" cy="1600" rx="16" ry="6" fill="#0a76f8" filter="url(#bl3)"/>
<ellipse cx="246" cy="1739" rx="16" ry="6" fill="#0a76f8" filter="url(#bl3)"/>
<rect x="134.4" y="1578" width="172.4" height="12.3" fill="url(#g3strip)" filter="url(#bl1)"/>
<rect x="134.4" y="1748.2" width="172.4" height="12" fill="url(#g3strip)" filter="url(#bl1)"/>
<rect x="138.4" y="1588.6" width="90" height="2.2" fill="#40f0d0" opacity="0.8" filter="url(#bl05)"/>
<rect x="138.4" y="1747.2" width="90" height="2.2" fill="#40f0d0" opacity="0.8" filter="url(#bl05)"/>
<path d="M132.0,1606.0 L204.0,1606.5 L214.0,1611.0 L205.0,1634.0 L200.0,1637.0 L194.0,1639.0 L186.0,1642.0 L178.0,1637.0 L170.0,1641.0 L162.0,1638.0 L154.0,1642.0 L146.0,1639.0 L138.0,1641.0 L132.0,1641.0 Z" fill="#40f0d0" filter="url(#bl2)"/>
<path d="M132.0,1608.0 L200.0,1608.5 L210.0,1613.0 L205.0,1632.0 L200.0,1635.0 L194.0,1637.0 L186.0,1640.0 L178.0,1635.0 L170.0,1639.0 L162.0,1636.0 L154.0,1640.0 L146.0,1637.0 L138.0,1639.0 L132.0,1639.0 Z" fill="#e8ff20" filter="url(#bl2)"/>
<path d="M132.0,1610.5 L193.0,1611.0 L203.0,1615.5 L200.0,1632.5 L194.0,1634.5 L186.0,1637.5 L178.0,1632.5 L170.0,1636.5 L162.0,1633.5 L154.0,1637.5 L146.0,1634.5 L138.0,1636.5 L132.0,1636.5 Z" fill="#ff9800" filter="url(#bl2)"/>
<path d="M132.0,1613.0 L186.0,1613.5 L196.0,1618.0 L194.0,1632.0 L186.0,1635.0 L178.0,1630.0 L170.0,1634.0 L162.0,1631.0 L154.0,1635.0 L146.0,1632.0 L138.0,1634.0 L132.0,1634.0 Z" fill="#ff4800" filter="url(#bl2)"/>
<path d="M132.0,1615.5 L171.0,1616.0 L181.0,1620.5 L178.0,1627.5 L170.0,1631.5 L162.0,1628.5 L154.0,1632.5 L146.0,1629.5 L138.0,1631.5 L132.0,1631.5 Z" fill="#f02000" filter="url(#bl2)"/>
<path d="M132.0,1733.0 L204.0,1732.5 L214.0,1728.0 L205.0,1704.0 L200.0,1701.0 L194.0,1699.0 L186.0,1696.0 L178.0,1701.0 L170.0,1697.0 L162.0,1700.0 L154.0,1696.0 L146.0,1699.0 L138.0,1697.0 L132.0,1697.0 Z" fill="#40f0d0" filter="url(#bl2)"/>
<path d="M132.0,1731.0 L200.0,1730.5 L210.0,1726.0 L205.0,1706.0 L200.0,1703.0 L194.0,1701.0 L186.0,1698.0 L178.0,1703.0 L170.0,1699.0 L162.0,1702.0 L154.0,1698.0 L146.0,1701.0 L138.0,1699.0 L132.0,1699.0 Z" fill="#e8ff20" filter="url(#bl2)"/>
<path d="M132.0,1728.5 L193.0,1728.0 L203.0,1723.5 L200.0,1705.5 L194.0,1703.5 L186.0,1700.5 L178.0,1705.5 L170.0,1701.5 L162.0,1704.5 L154.0,1700.5 L146.0,1703.5 L138.0,1701.5 L132.0,1701.5 Z" fill="#ff9800" filter="url(#bl2)"/>
<path d="M132.0,1726.0 L186.0,1725.5 L196.0,1721.0 L194.0,1706.0 L186.0,1703.0 L178.0,1708.0 L170.0,1704.0 L162.0,1707.0 L154.0,1703.0 L146.0,1706.0 L138.0,1704.0 L132.0,1704.0 Z" fill="#ff4800" filter="url(#bl2)"/>
<path d="M132.0,1723.5 L171.0,1723.0 L181.0,1718.5 L178.0,1710.5 L170.0,1706.5 L162.0,1709.5 L154.0,1705.5 L146.0,1708.5 L138.0,1706.5 L132.0,1706.5 Z" fill="#f02000" filter="url(#bl2)"/>
<rect x="132" y="1640" width="9" height="58" fill="#28d8f0" filter="url(#bl2)"/>
</g>
<line x1="138.4" y1="1580.5" x2="306.8" y2="1580.5" stroke="#8a8a8a" stroke-width="1"/>
<line x1="138.4" y1="1580.5" x2="138.4" y2="1757.8" stroke="#1a1a1a" stroke-width="1"/>
<rect x="311.3" y="1605.0" width="4.6" height="149.80" fill="url(#cbar)"/>
<line x1="311.7" y1="1605.0" x2="311.7" y2="1754.8" stroke="#000" stroke-opacity="0.45" stroke-width="0.8"/>
<line x1="314.3" y1="1605.00" x2="315.90000000000003" y2="1605.00" stroke="#000" stroke-width="0.7"/>
<text x="317.5" y="1611.6" text-anchor="start" font-size="17.6" font-family="'DejaVu Sans', 'Liberation Sans', sans-serif">40</text>
<line x1="314.3" y1="1642.45" x2="315.90000000000003" y2="1642.45" stroke="#000" stroke-width="0.7"/>
<text x="317.5" y="1649.05" text-anchor="start" font-size="17.6" font-family="'DejaVu Sans', 'Liberation Sans', sans-serif">30</text>
<line x1="314.3" y1="1679.90" x2="315.90000000000003" y2="1679.90" stroke="#000" stroke-width="0.7"/>
<text x="317.5" y="1686.5" text-anchor="start" font-size="17.6" font-family="'DejaVu Sans', 'Liberation Sans', sans-serif">20</text>
<line x1="314.3" y1="1717.35" x2="315.90000000000003" y2="1717.35" stroke="#000" stroke-width="0.7"/>
<text x="317.5" y="1723.95" text-anchor="start" font-size="17.6" font-family="'DejaVu Sans', 'Liberation Sans', sans-serif">10</text>
<line x1="314.3" y1="1754.80" x2="315.90000000000003" y2="1754.80" stroke="#000" stroke-width="0.7"/>
<text x="317.5" y="1761.4" text-anchor="start" font-size="17.6" font-family="'DejaVu Sans', 'Liberation Sans', sans-serif">0</text>
<g clip-path="url(#i2)">
<rect x="421.0" y="1378.3" width="167.90" height="176.50" fill="#62f6a2"/>
<rect x="470" y="1373.3" width="130" height="186.50" fill="#44f0c8" filter="url(#bl3)"/>
<rect x="421.0" y="1384.1" width="52" height="3.5" fill="#b8ff48" opacity="0.75" filter="url(#bl1)"/>
<rect x="421.0" y="1410.6" width="52" height="3.5" fill="#b8ff48" opacity="0.75" filter="url(#bl1)"/>
<rect x="421.0" y="1434.5" width="52" height="3.5" fill="#b8ff48" opacity="0.75" filter="url(#bl1)"/>
<rect x="421.0" y="1460.6" width="52" height="3.5" fill="#b8ff48" opacity="0.75" filter="url(#bl1)"/>
<rect x="421.0" y="1470.1" width="52" height="3.5" fill="#b8ff48" opacity="0.75" filter="url(#bl1)"/>
<rect x="421.0" y="1494.6" width="52" height="3.5" fill="#b8ff48" opacity="0.75" filter="url(#bl1)"/>
<rect x="421.0" y="1519.5" width="52" height="3.5" fill="#b8ff48" opacity="0.75" filter="url(#bl1)"/>
<rect x="421.0" y="1545.4" width="52" height="3.5" fill="#b8ff48" opacity="0.75" filter="url(#bl1)"/>
<rect x="421.0" y="1378.3" width="46" height="9" fill="#98ff68" opacity="0.8" filter="url(#bl1)"/>
<rect x="421.0" y="1545.8" width="46" height="9" fill="#98ff68" opacity="0.8" filter="url(#bl1)"/>
<line x1="464.0" y1="1387.0" x2="477.0" y2="1373.9" stroke="#c8ff38" stroke-width="3.0" stroke-linecap="round" opacity="0.35"/>
<line x1="470.4" y1="1387.0" x2="483.4" y2="1373.9" stroke="#10d4ff" stroke-width="3.0" stroke-linecap="round" opacity="0.44"/>
<line x1="476.8" y1="1387.0" x2="489.8" y2="1373.9" stroke="#c8ff38" stroke-width="3.0" stroke-linecap="round" opacity="0.53"/>
<line x1="483.2" y1="1387.0" x2="496.2" y2="1373.9" stroke="#10d4ff" stroke-width="3.0" stroke-linecap="round" opacity="0.62"/>
<line x1="489.6" y1="1387.0" x2="502.6" y2="1373.9" stroke="#c8ff38" stroke-width="3.0" stroke-linecap="round" opacity="0.72"/>
<line x1="496.0" y1="1387.0" x2="509.0" y2="1373.9" stroke="#10d4ff" stroke-width="3.0" stroke-linecap="round" opacity="0.81"/>
<line x1="502.4" y1="1387.0" x2="515.4" y2="1373.9" stroke="#c8ff38" stroke-width="3.0" stroke-linecap="round" opacity="0.90"/>
<line x1="508.8" y1="1387.0" x2="521.8" y2="1373.9" stroke="#10d4ff" stroke-width="3.0" stroke-linecap="round" opacity="0.90"/>
<line x1="515.2" y1="1387.0" x2="528.2" y2="1373.9" stroke="#c8ff38" stroke-width="3.0" stroke-linecap="round" opacity="0.90"/>
<line x1="521.6" y1="1387.0" x2="534.6" y2="1373.9" stroke="#10d4ff" stroke-width="3.0" stroke-linecap="round" opacity="0.90"/>
<line x1="528.0" y1="1387.0" x2="541.0" y2="1373.9" stroke="#c8ff38" stroke-width="3.0" stroke-linecap="round" opacity="0.90"/>
<line x1="534.4" y1="1387.0" x2="547.4" y2="1373.9" stroke="#10d4ff" stroke-width="3.0" stroke-linecap="round" opacity="0.90"/>
<line x1="540.8" y1="1387.0" x2="553.8" y2="1373.9" stroke="#c8ff38" stroke-width="3.0" stroke-linecap="round" opacity="0.90"/>
<line x1="547.2" y1="1387.0" x2="560.2" y2="1373.9" stroke="#10d4ff" stroke-width="3.0" stroke-linecap="round" opacity="0.90"/>
<line x1="553.6" y1="1387.0" x2="566.6" y2="1373.9" stroke="#c8ff38" stroke-width="3.0" stroke-linecap="round" opacity="0.90"/>
<line x1="560.0" y1="1387.0" x2="573.0" y2="1373.9" stroke="#10d4ff" stroke-width="3.0" stroke-linecap="round" opacity="0.90"/>
<line x1="566.4" y1="1387.0" x2="579.4" y2="1373.9" stroke="#c8ff38" stroke-width="3.0" stroke-linecap="round" opacity="0.90"/>
<line x1="572.8" y1="1387.0" x2="585.8" y2="1373.9" stroke="#10d4ff" stroke-width="3.0" stroke-linecap="round" opacity="0.90"/>
<line x1="579.2" y1="1387.0" x2="592.2" y2="1373.9" stroke="#c8ff38" stroke-width="3.0" stroke-linecap="round" opacity="0.90"/>
<line x1="585.6" y1="1387.0" x2="598.6" y2="1373.9" stroke="#10d4ff" stroke-width="3.0" stroke-linecap="round" opacity="0.90"/>
<line x1="592.0" y1="1387.0" x2="605.0" y2="1373.9" stroke="#c8ff38" stroke-width="3.0" stroke-linecap="round" opacity="0.90"/>
<line x1="464.0" y1="1411.4" x2="476.3" y2="1422.5" stroke="#c0ff40" stroke-width="3.0" stroke-linecap="round" opacity="0.35"/>
<line x1="464.0" y1="1437.2" x2="476.3" y2="1426.1" stroke="#c0ff40" stroke-width="3.0" stroke-linecap="round" opacity="0.35"/>
<line x1="470.4" y1="1411.4" x2="482.7" y2="1422.5" stroke="#18d8f8" stroke-width="3.0" stroke-linecap="round" opacity="0.44"/>
<line x1="470.4" y1="1437.2" x2="482.7" y2="1426.1" stroke="#18d8f8" stroke-width="3.0" stroke-linecap="round" opacity="0.44"/>
<line x1="476.8" y1="1411.4" x2="489.1" y2="1422.5" stroke="#c0ff40" stroke-width="3.0" stroke-linecap="round" opacity="0.53"/>
<line x1="476.8" y1="1437.2" x2="489.1" y2="1426.1" stroke="#c0ff40" stroke-width="3.0" stroke-linecap="round" opacity="0.53"/>
<line x1="483.2" y1="1411.4" x2="495.5" y2="1422.5" stroke="#18d8f8" stroke-width="3.0" stroke-linecap="round" opacity="0.62"/>
<line x1="483.2" y1="1437.2" x2="495.5" y2="1426.1" stroke="#18d8f8" stroke-width="3.0" stroke-linecap="round" opacity="0.62"/>
<line x1="489.6" y1="1411.4" x2="501.9" y2="1422.5" stroke="#c0ff40" stroke-width="3.0" stroke-linecap="round" opacity="0.72"/>
<line x1="489.6" y1="1437.2" x2="501.9" y2="1426.1" stroke="#c0ff40" stroke-width="3.0" stroke-linecap="round" opacity="0.72"/>
<line x1="496.0" y1="1411.4" x2="508.3" y2="1422.5" stroke="#18d8f8" stroke-width="3.0" stroke-linecap="round" opacity="0.81"/>
<line x1="496.0" y1="1437.2" x2="508.3" y2="1426.1" stroke="#18d8f8" stroke-width="3.0" stroke-linecap="round" opacity="0.81"/>
<line x1="502.4" y1="1411.4" x2="514.7" y2="1422.5" stroke="#c0ff40" stroke-width="3.0" stroke-linecap="round" opacity="0.90"/>
<line x1="502.4" y1="1437.2" x2="514.7" y2="1426.1" stroke="#c0ff40" stroke-width="3.0" stroke-linecap="round" opacity="0.90"/>
<line x1="508.8" y1="1411.4" x2="521.1" y2="1422.5" stroke="#18d8f8" stroke-width="3.0" stroke-linecap="round" opacity="0.90"/>
<line x1="508.8" y1="1437.2" x2="521.1" y2="1426.1" stroke="#18d8f8" stroke-width="3.0" stroke-linecap="round" opacity="0.90"/>
<line x1="515.2" y1="1411.4" x2="527.5" y2="1422.5" stroke="#c0ff40" stroke-width="3.0" stroke-linecap="round" opacity="0.90"/>
<line x1="515.2" y1="1437.2" x2="527.5" y2="1426.1" stroke="#c0ff40" stroke-width="3.0" stroke-linecap="round" opacity="0.90"/>
<line x1="521.6" y1="1411.4" x2="533.9" y2="1422.5" stroke="#18d8f8" stroke-width="3.0" stroke-linecap="round" opacity="0.90"/>
<line x1="521.6" y1="1437.2" x2="533.9" y2="1426.1" stroke="#18d8f8" stroke-width="3.0" stroke-linecap="round" opacity="0.90"/>
<line x1="528.0" y1="1411.4" x2="540.3" y2="1422.5" stroke="#c0ff40" stroke-width="3.0" stroke-linecap="round" opacity="0.90"/>
<line x1="528.0" y1="1437.2" x2="540.3" y2="1426.1" stroke="#c0ff40" stroke-width="3.0" stroke-linecap="round" opacity="0.90"/>
<line x1="534.4" y1="1411.4" x2="546.7" y2="1422.5" stroke="#18d8f8" stroke-width="3.0" stroke-linecap="round" opacity="0.90"/>
<line x1="534.4" y1="1437.2" x2="546.7" y2="1426.1" stroke="#18d8f8" stroke-width="3.0" stroke-linecap="round" opacity="0.90"/>
<line x1="540.8" y1="1411.4" x2="553.1" y2="1422.5" stroke="#c0ff40" stroke-width="3.0" stroke-linecap="round" opacity="0.90"/>
<line x1="540.8" y1="1437.2" x2="553.1" y2="1426.1" stroke="#c0ff40" stroke-width="3.0" stroke-linecap="round" opacity="0.90"/>
<line x1="547.2" y1="1411.4" x2="559.5" y2="1422.5" stroke="#18d8f8" stroke-width="3.0" stroke-linecap="round" opacity="0.90"/>
<line x1="547.2" y1="1437.2" x2="559.5" y2="1426.1" stroke="#18d8f8" stroke-width="3.0" stroke-linecap="round" opacity="0.90"/>
<line x1="553.6" y1="1411.4" x2="565.9" y2="1422.5" stroke="#c0ff40" stroke-width="3.0" stroke-linecap="round" opacity="0.90"/>
<line x1="553.6" y1="1437.2" x2="565.9" y2="1426.1" stroke="#c0ff40" stroke-width="3.0" stroke-linecap="round" opacity="0.90"/>
<line x1="560.0" y1="1411.4" x2="572.3" y2="1422.5" stroke="#18d8f8" stroke-width="3.0" stroke-linecap="round" opacity="0.90"/>
<line x1="560.0" y1="1437.2" x2="572.3" y2="1426.1" stroke="#18d8f8" stroke-width="3.0" stroke-linecap="round" opacity="0.90"/>
<line x1="566.4" y1="1411.4" x2="578.7" y2="1422.5" stroke="#c0ff40" stroke-width="3.0" stroke-linecap="round" opacity="0.90"/>
<line x1="566.4" y1="1437.2" x2="578.7" y2="1426.1" stroke="#c0ff40" stroke-width="3.0" stroke-linecap="round" opacity="0.90"/>
<line x1="572.8" y1="1411.4" x2="585.1" y2="1422.5" stroke="#18d8f8" stroke-width="3.0" stroke-linecap="round" opacity="0.90"/>
<line x1="572.8" y1="1437.2" x2="585.1" y2="1426.1" stroke="#18d8f8" stroke-width="3.0" stroke-linecap="round" opacity="0.90"/>
<line x1="579.2" y1="1411.4" x2="591.5" y2="1422.5" stroke="#c0ff40" stroke-width="3.0" stroke-linecap="round" opacity="0.90"/>
<line x1="579.2" y1="1437.2" x2="591.5" y2="1426.1" stroke="#c0ff40" stroke-width="3.0" stroke-linecap="round" opacity="0.90"/>
<line x1="585.6" y1="1411.4" x2="597.9" y2="1422.5" stroke="#18d8f8" stroke-width="3.0" stroke-linecap="round" opacity="0.90"/>
<line x1="585.6" y1="1437.2" x2="597.9" y2="1426.1" stroke="#18d8f8" stroke-width="3.0" stroke-linecap="round" opacity="0.90"/>
<line x1="592.0" y1="1411.4" x2="604.3" y2="1422.5" stroke="#c0ff40" stroke-width="3.0" stroke-linecap="round" opacity="0.90"/>
<line x1="592.0" y1="1437.2" x2="604.3" y2="1426.1" stroke="#c0ff40" stroke-width="3.0" stroke-linecap="round" opacity="0.90"/>
<line x1="464.0" y1="1460.5" x2="470.3" y2="1466.2" stroke="#c0ff40" stroke-width="3.0" stroke-linecap="round" opacity="0.35"/>
<line x1="464.0" y1="1473.7" x2="470.3" y2="1468.0" stroke="#c0ff40" stroke-width="3.0" stroke-linecap="round" opacity="0.35"/>
<line x1="470.4" y1="1460.5" x2="476.7" y2="1466.2" stroke="#18d8f8" stroke-width="3.0" stroke-linecap="round" opacity="0.44"/>
<line x1="470.4" y1="1473.7" x2="476.7" y2="1468.0" stroke="#18d8f8" stroke-width="3.0" stroke-linecap="round" opacity="0.44"/>
<line x1="476.8" y1="1460.5" x2="483.1" y2="1466.2" stroke="#c0ff40" stroke-width="3.0" stroke-linecap="round" opacity="0.53"/>
<line x1="476.8" y1="1473.7" x2="483.1" y2="1468.0" stroke="#c0ff40" stroke-width="3.0" stroke-linecap="round" opacity="0.53"/>
<line x1="483.2" y1="1460.5" x2="489.5" y2="1466.2" stroke="#18d8f8" stroke-width="3.0" stroke-linecap="round" opacity="0.62"/>
<line x1="483.2" y1="1473.7" x2="489.5" y2="1468.0" stroke="#18d8f8" stroke-width="3.0" stroke-linecap="round" opacity="0.62"/>
<line x1="489.6" y1="1460.5" x2="495.9" y2="1466.2" stroke="#c0ff40" stroke-width="3.0" stroke-linecap="round" opacity="0.72"/>
<line x1="489.6" y1="1473.7" x2="495.9" y2="1468.0" stroke="#c0ff40" stroke-width="3.0" stroke-linecap="round" opacity="0.72"/>
<line x1="496.0" y1="1460.5" x2="502.3" y2="1466.2" stroke="#18d8f8" stroke-width="3.0" stroke-linecap="round" opacity="0.81"/>
<line x1="496.0" y1="1473.7" x2="502.3" y2="1468.0" stroke="#18d8f8" stroke-width="3.0" stroke-linecap="round" opacity="0.81"/>
<line x1="502.4" y1="1460.5" x2="508.7" y2="1466.2" stroke="#c0ff40" stroke-width="3.0" stroke-linecap="round" opacity="0.90"/>
<line x1="502.4" y1="1473.7" x2="508.7" y2="1468.0" stroke="#c0ff40" stroke-width="3.0" stroke-linecap="round" opacity="0.90"/>
<line x1="508.8" y1="1460.5" x2="515.1" y2="1466.2" stroke="#18d8f8" stroke-width="3.0" stroke-linecap="round" opacity="0.90"/>
<line x1="508.8" y1="1473.7" x2="515.1" y2="1468.0" stroke="#18d8f8" stroke-width="3.0" stroke-linecap="round" opacity="0.90"/>
<line x1="515.2" y1="1460.5" x2="521.5" y2="1466.2" stroke="#c0ff40" stroke-width="3.0" stroke-linecap="round" opacity="0.90"/>
<line x1="515.2" y1="1473.7" x2="521.5" y2="1468.0" stroke="#c0ff40" stroke-width="3.0" stroke-linecap="round" opacity="0.90"/>
<line x1="521.6" y1="1460.5" x2="527.9" y2="1466.2" stroke="#18d8f8" stroke-width="3.0" stroke-linecap="round" opacity="0.90"/>
<line x1="521.6" y1="1473.7" x2="527.9" y2="1468.0" stroke="#18d8f8" stroke-width="3.0" stroke-linecap="round" opacity="0.90"/>
<line x1="528.0" y1="1460.5" x2="534.3" y2="1466.2" stroke="#c0ff40" stroke-width="3.0" stroke-linecap="round" opacity="0.90"/>
<line x1="528.0" y1="1473.7" x2="534.3" y2="1468.0" stroke="#c0ff40" stroke-width="3.0" stroke-linecap="round" opacity="0.90"/>
<line x1="534.4" y1="1460.5" x2="540.7" y2="1466.2" stroke="#18d8f8" stroke-width="3.0" stroke-linecap="round" opacity="0.90"/>
<line x1="534.4" y1="1473.7" x2="540.7" y2="1468.0" stroke="#18d8f8" stroke-width="3.0" stroke-linecap="round" opacity="0.90"/>
<line x1="540.8" y1="1460.5" x2="547.1" y2="1466.2" stroke="#c0ff40" stroke-width="3.0" stroke-linecap="round" opacity="0.90"/>
<line x1="540.8" y1="1473.7" x2="547.1" y2="1468.0" stroke="#c0ff40" stroke-width="3.0" stroke-linecap="round" opacity="0.90"/>
<line x1="547.2" y1="1460.5" x2="553.5" y2="1466.2" stroke="#18d8f8" stroke-width="3.0" stroke-linecap="round" opacity="0.90"/>
<line x1="547.2" y1="1473.7" x2="553.5" y2="1468.0" stroke="#18d8f8" stroke-width="3.0" stroke-linecap="round" opacity="0.90"/>
<line x1="553.6" y1="1460.5" x2="559.9" y2="1466.2" stroke="#c0ff40" stroke-width="3.0" stroke-linecap="round" opacity="0.90"/>
<line x1="553.6" y1="1473.7" x2="559.9" y2="1468.0" stroke="#c0ff40" stroke-width="3.0" stroke-linecap="round" opacity="0.90"/>
<line x1="560.0" y1="1460.5" x2="566.3" y2="1466.2" stroke="#18d8f8" stroke-width="3.0" stroke-linecap="round" opacity="0.90"/>
<line x1="560.0" y1="1473.7" x2="566.3" y2="1468.0" stroke="#18d8f8" stroke-width="3.0" stroke-linecap="round" opacity="0.90"/>
<line x1="566.4" y1="1460.5" x2="572.7" y2="1466.2" stroke="#c0ff40" stroke-width="3.0" stroke-linecap="round" opacity="0.90"/>
<line x1="566.4" y1="1473.7" x2="572.7" y2="1468.0" stroke="#c0ff40" stroke-width="3.0" stroke-linecap="round" opacity="0.90"/>
<line x1="572.8" y1="1460.5" x2="579.1" y2="1466.2" stroke="#18d8f8" stroke-width="3.0" stroke-linecap="round" opacity="0.90"/>
<line x1="572.8" y1="1473.7" x2="579.1" y2="1468.0" stroke="#18d8f8" stroke-width="3.0" stroke-linecap="round" opacity="0.90"/>
<line x1="579.2" y1="1460.5" x2="585.5" y2="1466.2" stroke="#c0ff40" stroke-width="3.0" stroke-linecap="round" opacity="0.90"/>
<line x1="579.2" y1="1473.7" x2="585.5" y2="1468.0" stroke="#c0ff40" stroke-width="3.0" stroke-linecap="round" opacity="0.90"/>
<line x1="585.6" y1="1460.5" x2="591.9" y2="1466.2" stroke="#18d8f8" stroke-width="3.0" stroke-linecap="round" opacity="0.90"/>
<line x1="585.6" y1="1473.7" x2="591.9" y2="1468.0" stroke="#18d8f8" stroke-width="3.0" stroke-linecap="round" opacity="0.90"/>
<line x1="592.0" y1="1460.5" x2="598.3" y2="1466.2" stroke="#c0ff40" stroke-width="3.0" stroke-linecap="round" opacity="0.90"/>
<line x1="592.0" y1="1473.7" x2="598.3" y2="1468.0" stroke="#c0ff40" stroke-width="3.0" stroke-linecap="round" opacity="0.90"/>
<line x1="464.0" y1="1495.4" x2="476.7" y2="1507.0" stroke="#c0ff40" stroke-width="3.0" stroke-linecap="round" opacity="0.35"/>
<line x1="464.0" y1="1522.2" x2="476.7" y2="1510.6" stroke="#c0ff40" stroke-width="3.0" stroke-linecap="round" opacity="0.35"/>
<line x1="470.4" y1="1495.4" x2="483.1" y2="1507.0" stroke="#18d8f8" stroke-width="3.0" stroke-linecap="round" opacity="0.44"/>
<line x1="470.4" y1="1522.2" x2="483.1" y2="1510.6" stroke="#18d8f8" stroke-width="3.0" stroke-linecap="round" opacity="0.44"/>
<line x1="476.8" y1="1495.4" x2="489.5" y2="1507.0" stroke="#c0ff40" stroke-width="3.0" stroke-linecap="round" opacity="0.53"/>
<line x1="476.8" y1="1522.2" x2="489.5" y2="1510.6" stroke="#c0ff40" stroke-width="3.0" stroke-linecap="round" opacity="0.53"/>
<line x1="483.2" y1="1495.4" x2="495.9" y2="1507.0" stroke="#18d8f8" stroke-width="3.0" stroke-linecap="round" opacity="0.62"/>
<line x1="483.2" y1="1522.2" x2="495.9" y2="1510.6" stroke="#18d8f8" stroke-width="3.0" stroke-linecap="round" opacity="0.62"/>
<line x1="489.6" y1="1495.4" x2="502.3" y2="1507.0" stroke="#c0ff40" stroke-width="3.0" stroke-linecap="round" opacity="0.72"/>
<line x1="489.6" y1="1522.2" x2="502.3" y2="1510.6" stroke="#c0ff40" stroke-width="3.0" stroke-linecap="round" opacity="0.72"/>
<line x1="496.0" y1="1495.4" x2="508.7" y2="1507.0" stroke="#18d8f8" stroke-width="3.0" stroke-linecap="round" opacity="0.81"/>
<line x1="496.0" y1="1522.2" x2="508.7" y2="1510.6" stroke="#18d8f8" stroke-width="3.0" stroke-linecap="round" opacity="0.81"/>
<line x1="502.4" y1="1495.4" x2="515.1" y2="1507.0" stroke="#c0ff40" stroke-width="3.0" stroke-linecap="round" opacity="0.90"/>
<line x1="502.4" y1="1522.2" x2="515.1" y2="1510.6" stroke="#c0ff40" stroke-width="3.0" stroke-linecap="round" opacity="0.90"/>
<line x1="508.8" y1="1495.4" x2="521.5" y2="1507.0" stroke="#18d8f8" stroke-width="3.0" stroke-linecap="round" opacity="0.90"/>
<line x1="508.8" y1="1522.2" x2="521.5" y2="1510.6" stroke="#18d8f8" stroke-width="3.0" stroke-linecap="round" opacity="0.90"/>
<line x1="515.2" y1="1495.4" x2="527.9" y2="1507.0" stroke="#c0ff40" stroke-width="3.0" stroke-linecap="round" opacity="0.90"/>
<line x1="515.2" y1="1522.2" x2="527.9" y2="1510.6" stroke="#c0ff40" stroke-width="3.0" stroke-linecap="round" opacity="0.90"/>
<line x1="521.6" y1="1495.4" x2="534.3" y2="1507.0" stroke="#18d8f8" stroke-width="3.0" stroke-linecap="round" opacity="0.90"/>
<line x1="521.6" y1="1522.2" x2="534.3" y2="1510.6" stroke="#18d8f8" stroke-width="3.0" stroke-linecap="round" opacity="0.90"/>
<line x1="528.0" y1="1495.4" x2="540.7" y2="1507.0" stroke="#c0ff40" stroke-width="3.0" stroke-linecap="round" opacity="0.90"/>
<line x1="528.0" y1="1522.2" x2="540.7" y2="1510.6" stroke="#c0ff40" stroke-width="3.0" stroke-linecap="round" opacity="0.90"/>
<line x1="534.4" y1="1495.4" x2="547.1" y2="1507.0" stroke="#18d8f8" stroke-width="3.0" stroke-linecap="round" opacity="0.90"/>
<line x1="534.4" y1="1522.2" x2="547.1" y2="1510.6" stroke="#18d8f8" stroke-width="3.0" stroke-linecap="round" opacity="0.90"/>
<line x1="540.8" y1="1495.4" x2="553.5" y2="1507.0" stroke="#c0ff40" stroke-width="3.0" stroke-linecap="round" opacity="0.90"/>
<line x1="540.8" y1="1522.2" x2="553.5" y2="1510.6" stroke="#c0ff40" stroke-width="3.0" stroke-linecap="round" opacity="0.90"/>
<line x1="547.2" y1="1495.4" x2="559.9" y2="1507.0" stroke="#18d8f8" stroke-width="3.0" stroke-linecap="round" opacity="0.90"/>
<line x1="547.2" y1="1522.2" x2="559.9" y2="1510.6" stroke="#18d8f8" stroke-width="3.0" stroke-linecap="round" opacity="0.90"/>
<line x1="553.6" y1="1495.4" x2="566.3" y2="1507.0" stroke="#c0ff40" stroke-width="3.0" stroke-linecap="round" opacity="0.90"/>
<line x1="553.6" y1="1522.2" x2="566.3" y2="1510.6" stroke="#c0ff40" stroke-width="3.0" stroke-linecap="round" opacity="0.90"/>
<line x1="560.0" y1="1495.4" x2="572.7" y2="1507.0" stroke="#18d8f8" stroke-width="3.0" stroke-linecap="round" opacity="0.90"/>
<line x1="560.0" y1="1522.2" x2="572.7" y2="1510.6" stroke="#18d8f8" stroke-width="3.0" stroke-linecap="round" opacity="0.90"/>
<line x1="566.4" y1="1495.4" x2="579.1" y2="1507.0" stroke="#c0ff40" stroke-width="3.0" stroke-linecap="round" opacity="0.90"/>
<line x1="566.4" y1="1522.2" x2="579.1" y2="1510.6" stroke="#c0ff40" stroke-width="3.0" stroke-linecap="round" opacity="0.90"/>
<line x1="572.8" y1="1495.4" x2="585.5" y2="1507.0" stroke="#18d8f8" stroke-width="3.0" stroke-linecap="round" opacity="0.90"/>
<line x1="572.8" y1="1522.2" x2="585.5" y2="1510.6" stroke="#18d8f8" stroke-width="3.0" stroke-linecap="round" opacity="0.90"/>
<line x1="579.2" y1="1495.4" x2="591.9" y2="1507.0" stroke="#c0ff40" stroke-width="3.0" stroke-linecap="round" opacity="0.90"/>
<line x1="579.2" y1="1522.2" x2="591.9" y2="1510.6" stroke="#c0ff40" stroke-width="3.0" stroke-linecap="round" opacity="0.90"/>
<line x1="585.6" y1="1495.4" x2="598.3" y2="1507.0" stroke="#18d8f8" stroke-width="3.0" stroke-linecap="round" opacity="0.90"/>
<line x1="585.6" y1="1522.2" x2="598.3" y2="1510.6" stroke="#18d8f8" stroke-width="3.0" stroke-linecap="round" opacity="0.90"/>
<line x1="592.0" y1="1495.4" x2="604.7" y2="1507.0" stroke="#c0ff40" stroke-width="3.0" stroke-linecap="round" opacity="0.90"/>
<line x1="592.0" y1="1522.2" x2="604.7" y2="1510.6" stroke="#c0ff40" stroke-width="3.0" stroke-linecap="round" opacity="0.90"/>
<line x1="464.0" y1="1546.0" x2="477.1" y2="1559.2" stroke="#c8ff38" stroke-width="3.0" stroke-linecap="round" opacity="0.35"/>
<line x1="470.4" y1="1546.0" x2="483.5" y2="1559.2" stroke="#10d4ff" stroke-width="3.0" stroke-linecap="round" opacity="0.44"/>
<line x1="476.8" y1="1546.0" x2="489.9" y2="1559.2" stroke="#c8ff38" stroke-width="3.0" stroke-linecap="round" opacity="0.53"/>
<line x1="483.2" y1="1546.0" x2="496.3" y2="1559.2" stroke="#10d4ff" stroke-width="3.0" stroke-linecap="round" opacity="0.62"/>
<line x1="489.6" y1="1546.0" x2="502.7" y2="1559.2" stroke="#c8ff38" stroke-width="3.0" stroke-linecap="round" opacity="0.72"/>
<line x1="496.0" y1="1546.0" x2="509.1" y2="1559.2" stroke="#10d4ff" stroke-width="3.0" stroke-linecap="round" opacity="0.81"/>
<line x1="502.4" y1="1546.0" x2="515.5" y2="1559.2" stroke="#c8ff38" stroke-width="3.0" stroke-linecap="round" opacity="0.90"/>
<line x1="508.8" y1="1546.0" x2="521.9" y2="1559.2" stroke="#10d4ff" stroke-width="3.0" stroke-linecap="round" opacity="0.90"/>
<line x1="515.2" y1="1546.0" x2="528.3" y2="1559.2" stroke="#c8ff38" stroke-width="3.0" stroke-linecap="round" opacity="0.90"/>
<line x1="521.6" y1="1546.0" x2="534.7" y2="1559.2" stroke="#10d4ff" stroke-width="3.0" stroke-linecap="round" opacity="0.90"/>
<line x1="528.0" y1="1546.0" x2="541.1" y2="1559.2" stroke="#c8ff38" stroke-width="3.0" stroke-linecap="round" opacity="0.90"/>
<line x1="534.4" y1="1546.0" x2="547.5" y2="1559.2" stroke="#10d4ff" stroke-width="3.0" stroke-linecap="round" opacity="0.90"/>
<line x1="540.8" y1="1546.0" x2="553.9" y2="1559.2" stroke="#c8ff38" stroke-width="3.0" stroke-linecap="round" opacity="0.90"/>
<line x1="547.2" y1="1546.0" x2="560.3" y2="1559.2" stroke="#10d4ff" stroke-width="3.0" stroke-linecap="round" opacity="0.90"/>
<line x1="553.6" y1="1546.0" x2="566.7" y2="1559.2" stroke="#c8ff38" stroke-width="3.0" stroke-linecap="round" opacity="0.90"/>
<line x1="560.0" y1="1546.0" x2="573.1" y2="1559.2" stroke="#10d4ff" stroke-width="3.0" stroke-linecap="round" opacity="0.90"/>
<line x1="566.4" y1="1546.0" x2="579.5" y2="1559.2" stroke="#c8ff38" stroke-width="3.0" stroke-linecap="round" opacity="0.90"/>
<line x1="572.8" y1="1546.0" x2="585.9" y2="1559.2" stroke="#10d4ff" stroke-width="3.0" stroke-linecap="round" opacity="0.90"/>
<line x1="579.2" y1="1546.0" x2="592.3" y2="1559.2" stroke="#c8ff38" stroke-width="3.0" stroke-linecap="round" opacity="0.90"/>
<line x1="585.6" y1="1546.0" x2="598.7" y2="1559.2" stroke="#10d4ff" stroke-width="3.0" stroke-linecap="round" opacity="0.90"/>
<line x1="592.0" y1="1546.0" x2="605.1" y2="1559.2" stroke="#c8ff38" stroke-width="3.0" stroke-linecap="round" opacity="0.90"/>
<path d="M540,1396.1 C556,1394.1 566,1390.1 575,1387.1 L592,1385.1 L592,1391.1 L576,1393.1 C568,1396.1 560,1398.1 545,1399.1 Z" fill="#1e5cf0" filter="url(#bl05)"/>
<path d="M540,1402.1 C556,1404.1 566,1408.1 575,1411.1 L592,1412.1 L592,1406.1 L576,1405.1 C568,1402.1 560,1400.1 545,1399.1 Z" fill="#1e5cf0" filter="url(#bl05)"/>
<path d="M419.0,1388.6 L466,1388.6 L470,1389.8 C500,1390.8 528,1393.2 548,1396.5 Q558,1397.9 566,1399.1 Q558,1400.3 548,1401.7 C528,1405.0 500,1407.6 474,1408.6 L470,1409.6 L419.0,1409.6 Z" fill="url(#g2dark)" filter="url(#bl05)"/>
<path d="M540,1446.3 C556,1444.3 566,1440.3 575,1437.3 L592,1435.3 L592,1441.3 L576,1443.3 C568,1446.3 560,1448.3 545,1449.3 Z" fill="#1e5cf0" filter="url(#bl05)"/>
<path d="M540,1452.3 C556,1454.3 566,1458.3 575,1461.3 L592,1462.3 L592,1456.3 L576,1455.3 C568,1452.3 560,1450.3 545,1449.3 Z" fill="#1e5cf0" filter="url(#bl05)"/>
<path d="M419.0,1439.0 L466,1439.0 L470,1440.2 C500,1441.2 528,1443.5 548,1446.7 Q558,1448.1 566,1449.3 Q558,1450.5 548,1451.9 C528,1455.1 500,1457.6 474,1458.6 L470,1459.6 L419.0,1459.6 Z" fill="url(#g2dark)" filter="url(#bl05)"/>
<path d="M540,1481.1 C556,1479.1 566,1475.1 575,1472.1 L592,1470.1 L592,1476.1 L576,1478.1 C568,1481.1 560,1483.1 545,1484.1 Z" fill="#1e5cf0" filter="url(#bl05)"/>
<path d="M540,1487.1 C556,1489.1 566,1493.1 575,1496.1 L592,1497.1 L592,1491.1 L576,1490.1 C568,1487.1 560,1485.1 545,1484.1 Z" fill="#1e5cf0" filter="url(#bl05)"/>
<path d="M419.0,1474.6 L466,1474.6 L470,1475.8 C500,1476.8 528,1478.8 548,1481.5 Q558,1482.9 566,1484.1 Q558,1485.3 548,1486.7 C528,1489.4 500,1491.6 474,1492.6 L470,1493.6 L419.0,1493.6 Z" fill="url(#g2dark)" filter="url(#bl05)"/>
<path d="M540,1531.2 C556,1529.2 566,1525.2 575,1522.2 L592,1520.2 L592,1526.2 L576,1528.2 C568,1531.2 560,1533.2 545,1534.2 Z" fill="#1e5cf0" filter="url(#bl05)"/>
<path d="M540,1537.2 C556,1539.2 566,1543.2 575,1546.2 L592,1547.2 L592,1541.2 L576,1540.2 C568,1537.2 560,1535.2 545,1534.2 Z" fill="#1e5cf0" filter="url(#bl05)"/>
<path d="M419.0,1524.0 L466,1524.0 L470,1525.2 C500,1526.2 528,1528.5 548,1531.6 Q558,1533.0 566,1534.2 Q558,1535.4 548,1536.8 C528,1539.9 500,1542.4 474,1543.4 L470,1544.4 L419.0,1544.4 Z" fill="url(#g2dark)" filter="url(#bl05)"/>
</g>
<line x1="421.0" y1="1378.3" x2="588.9" y2="1378.3" stroke="#8a8a8a" stroke-width="1"/>
<rect x="593.6" y="1403.2" width="4.2" height="149.00" fill="url(#cbar)"/>
<line x1="594.0" y1="1403.2" x2="594.0" y2="1552.2" stroke="#000" stroke-opacity="0.45" stroke-width="0.8"/>
<line x1="596.2" y1="1403.20" x2="597.8000000000001" y2="1403.20" stroke="#000" stroke-width="0.7"/>
<text x="599.4" y="1409.8" text-anchor="start" font-size="17.6" font-family="'DejaVu Sans', 'Liberation Sans', sans-serif">40</text>
<line x1="596.2" y1="1440.45" x2="597.8000000000001" y2="1440.45" stroke="#000" stroke-width="0.7"/>
<text x="599.4" y="1447.05" text-anchor="start" font-size="17.6" font-family="'DejaVu Sans', 'Liberation Sans', sans-serif">30</text>
<line x1="596.2" y1="1477.70" x2="597.8000000000001" y2="1477.70" stroke="#000" stroke-width="0.7"/>
<text x="599.4" y="1484.3" text-anchor="start" font-size="17.6" font-family="'DejaVu Sans', 'Liberation Sans', sans-serif">20</text>
<line x1="596.2" y1="1514.95" x2="597.8000000000001" y2="1514.95" stroke="#000" stroke-width="0.7"/>
<text x="599.4" y="1521.55" text-anchor="start" font-size="17.6" font-family="'DejaVu Sans', 'Liberation Sans', sans-serif">10</text>
<line x1="596.2" y1="1552.20" x2="597.8000000000001" y2="1552.20" stroke="#000" stroke-width="0.7"/>
<text x="599.4" y="1558.8" text-anchor="start" font-size="17.6" font-family="'DejaVu Sans', 'Liberation Sans', sans-serif">0</text>
<defs>
<linearGradient id="g4b" gradientUnits="userSpaceOnUse" x1="421.0" y1="0" x2="588.9" y2="0"><stop offset="0" stop-color="#b0ff50"/><stop offset="0.12" stop-color="#90ff70"/><stop offset="0.45" stop-color="#80ff80"/><stop offset="0.7" stop-color="#58f8a8"/><stop offset="1" stop-color="#40f0c8"/></linearGradient>
<linearGradient id="g4dark" gradientUnits="userSpaceOnUse" x1="421.0" y1="0" x2="537" y2="0"><stop offset="0" stop-color="#0a12e2"/><stop offset="0.55" stop-color="#0a16e4"/><stop offset="0.8" stop-color="#0a28ec"/><stop offset="1" stop-color="#0a40f0"/></linearGradient>
<linearGradient id="g4med" gradientUnits="userSpaceOnUse" x1="505" y1="0" x2="589" y2="0"><stop offset="0" stop-color="#0a50f0"/><stop offset="0.6" stop-color="#0a5cf2"/><stop offset="1" stop-color="#0a70f4"/></linearGradient>
</defs>
<g clip-path="url(#i4)">
<rect x="421.0" y="1580.5" width="167.90" height="177.30" fill="url(#g4b)"/>
<path d="M421.0,1583 L470,1583 C490,1584 505,1586 520,1588" stroke="#e0ff20" stroke-width="3" fill="none" opacity="0.8" filter="url(#bl1)"/>
<path d="M421.0,1755 L470,1755 C490,1754 505,1752 520,1750" stroke="#e0ff20" stroke-width="3" fill="none" opacity="0.8" filter="url(#bl1)"/>
<rect x="421.0" y="1663" width="60" height="12" fill="#c0ff40" opacity="0.7" filter="url(#bl2)"/>
<g filter="url(#bl1)" opacity="0.85">
<ellipse cx="466" cy="1624" rx="18" ry="5" fill="#48f0c8"/>
<ellipse cx="488" cy="1630" rx="8" ry="3" fill="#30d8f0"/>
<ellipse cx="488" cy="1630" rx="4" ry="1.6" fill="#1a90f8"/>
<path d="M440,1620 C460,1616 480,1615 505,1616" stroke="#d8ff28" stroke-width="2" fill="none"/>
<ellipse cx="466" cy="1714" rx="18" ry="5" fill="#48f0c8"/>
<ellipse cx="488" cy="1708" rx="8" ry="3" fill="#30d8f0"/>
<ellipse cx="488" cy="1708" rx="4" ry="1.6" fill="#1a90f8"/>
<path d="M440,1718 C460,1722 480,1723 505,1722" stroke="#d8ff28" stroke-width="2" fill="none"/>
</g>
<g filter="url(#bl2)">
<path d="M508,1591.5 L560,1588 L592,1585 L592,1634 L560,1624 L536,1612 L508,1610 Z" fill="url(#g4med)"/>
<path d="M512,1642.8 L560,1641.2 L592,1640 L592,1662 L560,1661.6 L512,1661 Z" fill="url(#g4med)"/>
<path d="M512,1677 L560,1676.6 L592,1676.4 L592,1698.5 L560,1697.2 L512,1696 Z" fill="url(#g4med)"/>
<path d="M508,1727.5 L536,1726 L560,1714 L592,1704 L592,1753 L560,1750 L508,1747 Z" fill="url(#g4med)"/>
</g>
<g filter="url(#bl3)">
<path d="M560,1607 L592,1590 L592,1627 Z" fill="#30f0f0"/>
<path d="M560,1731 L592,1712 L592,1749 Z" fill="#30f0f0"/>
<path d="M575,1664 L592,1662 L592,1676 L575,1674 Z" fill="#48f0d0"/>
</g>
<path d="M419.0,1589.8 L495,1589.8 C510,1590.3999999999999 524.5,1591.3999999999999 529.4,1592.3999999999999 Q536.5,1593.3 536.5,1599.9 Q536.5,1606.5 529.4,1607.4 C524.5,1608.4 510,1609.4 495,1610.0 L419.0,1610.0 Z" fill="url(#g4dark)" filter="url(#bl05)"/>
<path d="M419.0,1642.6 L495,1642.6 C510,1643.1999999999998 510.5,1644.1999999999998 516.1,1645.1999999999998 Q522.5,1646.1 522.5,1651.8 Q522.5,1657.5 516.1,1658.4 C510.5,1659.4 510,1660.4 495,1661.0 L419.0,1661.0 Z" fill="url(#g4dark)" filter="url(#bl05)"/>
<path d="M419.0,1677.2 L495,1677.2 C510,1677.8 510.5,1678.8 515.9,1679.8 Q522.5,1680.7 522.5,1686.6 Q522.5,1692.5 515.9,1693.4 C510.5,1694.4 510,1695.4 495,1696.0 L419.0,1696.0 Z" fill="url(#g4dark)" filter="url(#bl05)"/>
<path d="M419.0,1728.0 L495,1728.0 C510,1728.6 524.5,1729.6 529.5,1730.6 Q536.5,1731.5 536.5,1738.0 Q536.5,1744.5 529.5,1745.4 C524.5,1746.4 510,1747.4 495,1748.0 L419.0,1748.0 Z" fill="url(#g4dark)" filter="url(#bl05)"/>
</g>
<line x1="421.0" y1="1580.5" x2="588.9" y2="1580.5" stroke="#8a8a8a" stroke-width="1"/>
<rect x="593.6" y="1605.0" width="4.2" height="149.80" fill="url(#cbar)"/>
<line x1="594.0" y1="1605.0" x2="594.0" y2="1754.8" stroke="#000" stroke-opacity="0.45" stroke-width="0.8"/>
<line x1="596.2" y1="1605.00" x2="597.8000000000001" y2="1605.00" stroke="#000" stroke-width="0.7"/>
<text x="599.4" y="1611.6" text-anchor="start" font-size="17.6" font-family="'DejaVu Sans', 'Liberation Sans', sans-serif">40</text>
<line x1="596.2" y1="1642.45" x2="597.8000000000001" y2="1642.45" stroke="#000" stroke-width="0.7"/>
<text x="599.4" y="1649.05" text-anchor="start" font-size="17.6" font-family="'DejaVu Sans', 'Liberation Sans', sans-serif">30</text>
<line x1="596.2" y1="1679.90" x2="597.8000000000001" y2="1679.90" stroke="#000" stroke-width="0.7"/>
<text x="599.4" y="1686.5" text-anchor="start" font-size="17.6" font-family="'DejaVu Sans', 'Liberation Sans', sans-serif">20</text>
<line x1="596.2" y1="1717.35" x2="597.8000000000001" y2="1717.35" stroke="#000" stroke-width="0.7"/>
<text x="599.4" y="1723.95" text-anchor="start" font-size="17.6" font-family="'DejaVu Sans', 'Liberation Sans', sans-serif">10</text>
<line x1="596.2" y1="1754.80" x2="597.8000000000001" y2="1754.80" stroke="#000" stroke-width="0.7"/>
<text x="599.4" y="1761.4" text-anchor="start" font-size="17.6" font-family="'DejaVu Sans', 'Liberation Sans', sans-serif">0</text>
<line x1="138.4" y1="1447.5" x2="74.2" y2="1368.2" stroke="#ff8000" stroke-width="2.5"/>
<path d="M86.19,1368.56 Q78.19,1371.84 74.2,1368.2 Q76.93,1372.86 72.06,1380.01" fill="none" stroke="#ff8000" stroke-width="2.5" stroke-linecap="round"/>
<line x1="135.5" y1="1636" x2="113.8" y2="1745.8" stroke="#ff8000" stroke-width="2.5"/>
<path d="M106.40,1736.36 Q114.04,1740.41 113.8,1745.8 Q115.63,1740.72 124.24,1739.88" fill="none" stroke="#ff8000" stroke-width="2.5" stroke-linecap="round"/>
<line x1="481.4" y1="1758.3" x2="179.1" y2="1808.9" stroke="#ff8000" stroke-width="2.5"/>
<path d="M185.32,1798.64 Q184.23,1807.22 179.1,1808.9 Q184.50,1808.81 188.32,1816.58" fill="none" stroke="#ff8000" stroke-width="2.5" stroke-linecap="round"/>
<line x1="629.8" y1="1449.8" x2="708.9" y2="1820.8" stroke="#ff8000" stroke-width="2.5"/>
<path d="M698.37,1815.04 Q707.00,1815.75 708.9,1820.8 Q708.58,1815.41 716.16,1811.25" fill="none" stroke="#ff8000" stroke-width="2.5" stroke-linecap="round"/>
<line x1="178.43" y1="1888.9" x2="178.43" y2="1879.9" stroke="#cfcfcf" stroke-width="1"/>
<line x1="178.43" y1="1348.7" x2="178.43" y2="1357.7" stroke="#cfcfcf" stroke-width="1"/>
<line x1="285.47" y1="1888.9" x2="285.47" y2="1879.9" stroke="#cfcfcf" stroke-width="1"/>
<line x1="285.47" y1="1348.7" x2="285.47" y2="1357.7" stroke="#cfcfcf" stroke-width="1"/>
<line x1="499.53" y1="1888.9" x2="499.53" y2="1879.9" stroke="#cfcfcf" stroke-width="1"/>
<line x1="499.53" y1="1348.7" x2="499.53" y2="1357.7" stroke="#cfcfcf" stroke-width="1"/>
<line x1="606.57" y1="1888.9" x2="606.57" y2="1879.9" stroke="#cfcfcf" stroke-width="1"/>
<line x1="606.57" y1="1348.7" x2="606.57" y2="1357.7" stroke="#cfcfcf" stroke-width="1"/>
<line x1="71.4" y1="1821.38" x2="80.4" y2="1821.38" stroke="#cfcfcf" stroke-width="1"/>
<line x1="713.6" y1="1821.38" x2="704.6" y2="1821.38" stroke="#cfcfcf" stroke-width="1"/>
<line x1="71.4" y1="1753.85" x2="80.4" y2="1753.85" stroke="#cfcfcf" stroke-width="1"/>
<line x1="713.6" y1="1753.85" x2="704.6" y2="1753.85" stroke="#cfcfcf" stroke-width="1"/>
<line x1="71.4" y1="1686.33" x2="80.4" y2="1686.33" stroke="#cfcfcf" stroke-width="1"/>
<line x1="713.6" y1="1686.33" x2="704.6" y2="1686.33" stroke="#cfcfcf" stroke-width="1"/>
<line x1="71.4" y1="1618.8" x2="80.4" y2="1618.8" stroke="#cfcfcf" stroke-width="1"/>
<line x1="713.6" y1="1618.8" x2="704.6" y2="1618.8" stroke="#cfcfcf" stroke-width="1"/>
<line x1="71.4" y1="1551.28" x2="80.4" y2="1551.28" stroke="#cfcfcf" stroke-width="1"/>
<line x1="713.6" y1="1551.28" x2="704.6" y2="1551.28" stroke="#cfcfcf" stroke-width="1"/>
<line x1="71.4" y1="1483.75" x2="80.4" y2="1483.75" stroke="#cfcfcf" stroke-width="1"/>
<line x1="713.6" y1="1483.75" x2="704.6" y2="1483.75" stroke="#cfcfcf" stroke-width="1"/>
<line x1="71.4" y1="1348.7" x2="71.4" y2="1888.9" stroke="#8a8a8a" stroke-width="1.1"/>
<line x1="71.4" y1="1888.9" x2="713.6" y2="1888.9" stroke="#6a6a6a" stroke-width="1.1"/>
<line x1="70.8" y1="1348.7" x2="714.2" y2="1348.7" stroke="#111" stroke-width="1.3"/>
<line x1="713.6" y1="1348.7" x2="713.6" y2="1889.5" stroke="#222" stroke-width="1.3"/>
<text x="71.4" y="1910.6" text-anchor="middle" font-size="21.3" font-family="'Liberation Serif', 'DejaVu Serif', serif" stroke="#000" stroke-width="0.1">0</text>
<text x="178.43" y="1910.6" text-anchor="middle" font-size="21.3" font-family="'Liberation Serif', 'DejaVu Serif', serif" stroke="#000" stroke-width="0.1">50</text>
<text x="285.47" y="1910.6" text-anchor="middle" font-size="21.3" font-family="'Liberation Serif', 'DejaVu Serif', serif" stroke="#000" stroke-width="0.1">100</text>
<text x="392.5" y="1910.6" text-anchor="middle" font-size="21.3" font-family="'Liberation Serif', 'DejaVu Serif', serif" stroke="#000" stroke-width="0.1">150</text>
<text x="499.53" y="1910.6" text-anchor="middle" font-size="21.3" font-family="'Liberation Serif', 'DejaVu Serif', serif" stroke="#000" stroke-width="0.1">200</text>
<text x="606.57" y="1910.6" text-anchor="middle" font-size="21.3" font-family="'Liberation Serif', 'DejaVu Serif', serif" stroke="#000" stroke-width="0.1">250</text>
<text x="713.6" y="1910.6" text-anchor="middle" font-size="21.3" font-family="'Liberation Serif', 'DejaVu Serif', serif" stroke="#000" stroke-width="0.1">300</text>
<text x="64.2" y="1896.2" text-anchor="end" font-size="21.3" font-family="'Liberation Serif', 'DejaVu Serif', serif" stroke="#000" stroke-width="0.1">12</text>
<text x="64.2" y="1828.67" text-anchor="end" font-size="21.3" font-family="'Liberation Serif', 'DejaVu Serif', serif" stroke="#000" stroke-width="0.1">14</text>
<text x="64.2" y="1761.15" text-anchor="end" font-size="21.3" font-family="'Liberation Serif', 'DejaVu Serif', serif" stroke="#000" stroke-width="0.1">16</text>
<text x="64.2" y="1693.62" text-anchor="end" font-size="21.3" font-family="'Liberation Serif', 'DejaVu Serif', serif" stroke="#000" stroke-width="0.1">18</text>
<text x="64.2" y="1626.1" text-anchor="end" font-size="21.3" font-family="'Liberation Serif', 'DejaVu Serif', serif" stroke="#000" stroke-width="0.1">20</text>
<text x="64.2" y="1558.58" text-anchor="end" font-size="21.3" font-family="'Liberation Serif', 'DejaVu Serif', serif" stroke="#000" stroke-width="0.1">22</text>
<text x="64.2" y="1491.05" text-anchor="end" font-size="21.3" font-family="'Liberation Serif', 'DejaVu Serif', serif" stroke="#000" stroke-width="0.1">24</text>
<text x="64.2" y="1423.52" text-anchor="end" font-size="21.3" font-family="'Liberation Serif', 'DejaVu Serif', serif" stroke="#000" stroke-width="0.1">26</text>
<text x="64.2" y="1356" text-anchor="end" font-size="21.3" font-family="'Liberation Serif', 'DejaVu Serif', serif" stroke="#000" stroke-width="0.1">28</text>
<text x="29" y="1619.7" text-anchor="middle" font-size="21.3" font-family="'Liberation Serif', 'DejaVu Serif', serif" textLength="23.7" lengthAdjust="spacingAndGlyphs" stroke="#000" stroke-width="0.1" transform="rotate(-90 29 1619.7)"><tspan font-style="italic">P</tspan><tspan dy="-3.8" font-size="16">*</tspan></text>
<text x="392.3" y="1938" text-anchor="middle" font-size="21.3" font-family="'Liberation Serif', 'DejaVu Serif', serif" textLength="157.4" lengthAdjust="spacingAndGlyphs" stroke="#000" stroke-width="0.1">Iteration number</text>
<text x="368.6" y="1982.7" text-anchor="middle" font-size="21.3" font-family="'Liberation Serif', 'DejaVu Serif', serif" textLength="688" lengthAdjust="spacingAndGlyphs" stroke="#000" stroke-width="0.1">(c) Convergence history of dimensionless local and global entropy</text>
<defs>
<clipPath id="cd"><rect x="77.2" y="2006.8" width="646" height="544"/></clipPath>
</defs>
<line x1="77.2" y1="2006.8" x2="77.2" y2="2550.8" stroke="#d3d3d3" stroke-width="1"/>
<line x1="141.8" y1="2006.8" x2="141.8" y2="2550.8" stroke="#d3d3d3" stroke-width="1"/>
<line x1="206.4" y1="2006.8" x2="206.4" y2="2550.8" stroke="#d3d3d3" stroke-width="1"/>
<line x1="271" y1="2006.8" x2="271" y2="2550.8" stroke="#d3d3d3" stroke-width="1"/>
<line x1="335.6" y1="2006.8" x2="335.6" y2="2550.8" stroke="#d3d3d3" stroke-width="1"/>
<line x1="400.2" y1="2006.8" x2="400.2" y2="2550.8" stroke="#d3d3d3" stroke-width="1"/>
<line x1="464.8" y1="2006.8" x2="464.8" y2="2550.8" stroke="#d3d3d3" stroke-width="1"/>
<line x1="529.4" y1="2006.8" x2="529.4" y2="2550.8" stroke="#d3d3d3" stroke-width="1"/>
<line x1="594" y1="2006.8" x2="594" y2="2550.8" stroke="#d3d3d3" stroke-width="1"/>
<line x1="658.6" y1="2006.8" x2="658.6" y2="2550.8" stroke="#d3d3d3" stroke-width="1"/>
<line x1="723.2" y1="2006.8" x2="723.2" y2="2550.8" stroke="#d3d3d3" stroke-width="1"/>
<line x1="77.2" y1="2550.8" x2="723.2" y2="2550.8" stroke="#d3d3d3" stroke-width="1"/>
<line x1="77.2" y1="2496.4" x2="723.2" y2="2496.4" stroke="#d3d3d3" stroke-width="1"/>
<line x1="77.2" y1="2442" x2="723.2" y2="2442" stroke="#d3d3d3" stroke-width="1"/>
<line x1="77.2" y1="2387.6" x2="723.2" y2="2387.6" stroke="#d3d3d3" stroke-width="1"/>
<line x1="77.2" y1="2333.2" x2="723.2" y2="2333.2" stroke="#d3d3d3" stroke-width="1"/>
<line x1="77.2" y1="2278.8" x2="723.2" y2="2278.8" stroke="#d3d3d3" stroke-width="1"/>
<line x1="77.2" y1="2224.4" x2="723.2" y2="2224.4" stroke="#d3d3d3" stroke-width="1"/>
<line x1="77.2" y1="2170" x2="723.2" y2="2170" stroke="#d3d3d3" stroke-width="1"/>
<line x1="77.2" y1="2115.6" x2="723.2" y2="2115.6" stroke="#d3d3d3" stroke-width="1"/>
<line x1="77.2" y1="2061.2" x2="723.2" y2="2061.2" stroke="#d3d3d3" stroke-width="1"/>
<line x1="77.2" y1="2006.8" x2="723.2" y2="2006.8" stroke="#d3d3d3" stroke-width="1"/>
<path d="M77.91,2315.59 C78.71,2314.18 81.21,2311.36 82.71,2307.12 C84.22,2302.88 85.68,2295.58 86.95,2290.17 C88.22,2284.76 89.16,2276.75 90.34,2274.63 C91.52,2272.51 92.93,2278.40 94.01,2277.46 C95.09,2276.52 95.66,2270.16 96.84,2268.98 C98.01,2267.81 99.43,2270.87 101.07,2270.40 C102.72,2269.92 104.84,2267.57 106.72,2266.16 C108.61,2264.75 110.49,2263.10 112.37,2261.92 C114.26,2260.74 116.37,2260.27 118.02,2259.10 C119.67,2257.92 120.85,2256.04 122.26,2254.86 C123.67,2253.68 124.85,2253.31 126.50,2252.03 C128.15,2250.76 130.26,2248.88 132.15,2247.23 C134.03,2245.58 135.91,2243.70 137.80,2242.15 C139.68,2240.59 141.56,2239.09 143.45,2237.91 C145.33,2236.73 147.21,2236.03 149.10,2235.08 C150.98,2234.14 152.86,2232.97 154.75,2232.26 C156.63,2231.55 158.51,2231.55 160.40,2230.85 C162.28,2230.14 163.93,2228.96 166.05,2228.02 C168.16,2227.08 171.46,2225.43 173.11,2225.20 C174.76,2224.96 174.52,2226.05 175.93,2226.61 C177.34,2227.18 179.46,2227.98 181.58,2228.59 C183.70,2229.20 186.05,2230.38 188.64,2230.28 C191.23,2230.19 194.29,2228.63 197.12,2228.02 C199.94,2227.41 203.24,2227.18 205.59,2226.61 C207.95,2226.05 208.89,2225.20 211.24,2224.63 C213.60,2224.07 217.13,2223.13 219.72,2223.22 C222.31,2223.31 224.90,2224.16 226.78,2225.20 C228.66,2226.23 229.37,2228.12 231.02,2229.44 C232.66,2230.75 234.31,2232.17 236.67,2233.11 C239.02,2234.05 242.32,2234.28 245.14,2235.08 C247.97,2235.89 250.79,2236.50 253.62,2237.91 C256.44,2239.32 259.87,2242.15 262.09,2243.56 C264.31,2244.97 264.26,2244.83 266.95,2246.38 C269.64,2247.94 274.48,2250.53 278.25,2252.88 C282.02,2255.24 285.78,2258.06 289.55,2260.51 C293.31,2262.96 297.55,2264.98 300.85,2267.57 C304.14,2270.16 306.50,2273.22 309.32,2276.05 C312.15,2278.87 314.97,2281.93 317.80,2284.52 C320.62,2287.11 323.45,2288.76 326.27,2291.58 C329.10,2294.41 332.39,2298.41 334.75,2301.47 C337.10,2304.53 338.04,2307.12 340.40,2309.94 C342.75,2312.77 346.05,2315.83 348.87,2318.42 C351.69,2321.01 354.52,2322.89 357.34,2325.48 C360.17,2328.07 362.99,2331.37 365.82,2333.95 C368.64,2336.54 371.00,2338.43 374.29,2341.02 C377.59,2343.61 381.83,2346.90 385.59,2349.49 C389.36,2352.08 393.13,2354.20 396.89,2356.55 C400.66,2358.91 404.43,2361.26 408.19,2363.62 C411.96,2365.97 415.73,2368.56 419.49,2370.68 C423.26,2372.80 426.98,2374.40 430.79,2376.33 C434.60,2378.26 438.09,2380.52 442.37,2382.26 C446.66,2384.00 451.79,2385.37 456.50,2386.78 C461.21,2388.19 465.91,2389.46 470.62,2390.73 C475.33,2392.01 480.04,2393.18 484.75,2394.41 C489.45,2395.63 494.16,2397.00 498.87,2398.08 C503.58,2399.16 508.29,2400.01 512.99,2400.90 C517.70,2401.80 522.41,2402.74 527.12,2403.45 C531.83,2404.15 536.53,2404.67 541.24,2405.14 C545.95,2405.61 550.66,2405.94 555.37,2406.27 C560.08,2406.60 564.78,2406.88 569.49,2407.12 C574.20,2407.35 581.11,2407.57 583.62,2407.68 C586.12,2407.80 582.47,2407.73 584.50,2407.80 C586.53,2407.86 592.03,2408.08 595.80,2408.08 C599.56,2408.08 603.33,2408.03 607.10,2407.80 C610.86,2407.56 614.63,2407.09 618.40,2406.67 C622.16,2406.24 625.93,2405.73 629.69,2405.25 C633.46,2404.78 637.23,2404.31 640.99,2403.84 C644.76,2403.37 649.00,2403.14 652.29,2402.43 C655.59,2401.72 657.94,2400.55 660.77,2399.60 C663.59,2398.66 665.95,2397.58 669.24,2396.78 C672.54,2395.98 677.25,2395.51 680.54,2394.80 C683.84,2394.10 686.19,2393.30 689.02,2392.54 C691.84,2391.79 694.90,2391.13 697.49,2390.28 C700.08,2389.44 702.20,2388.02 704.55,2387.46 C706.91,2386.89 709.50,2386.05 711.62,2386.89 C713.73,2387.74 715.38,2390.89 717.27,2392.54 C719.15,2394.19 721.97,2396.07 722.92,2396.78" fill="none" stroke="#0000ff" stroke-width="5.3" stroke-linejoin="round" stroke-linecap="butt" clip-path="url(#cd)"/>
<path d="M77.91,2336.78 C78.95,2336.31 82.15,2335.51 84.12,2333.95 C86.10,2332.40 87.89,2328.26 89.77,2327.46 C91.66,2326.66 93.07,2328.78 95.42,2329.15 C97.78,2329.53 100.60,2329.29 103.90,2329.72 C107.19,2330.14 111.43,2331.22 115.20,2331.69 C118.96,2332.17 122.73,2332.64 126.50,2332.54 C130.26,2332.45 134.03,2331.60 137.80,2331.13 C141.56,2330.66 145.33,2330.33 149.10,2329.72 C152.86,2329.11 156.63,2328.40 160.40,2327.46 C164.16,2326.52 168.87,2324.54 171.69,2324.07 C174.52,2323.60 175.46,2324.16 177.34,2324.63 C179.23,2325.10 180.17,2326.28 182.99,2326.89 C185.82,2327.50 190.53,2328.31 194.29,2328.31 C198.06,2328.31 201.83,2327.69 205.59,2326.89 C209.36,2326.09 213.60,2324.44 216.89,2323.50 C220.19,2322.56 223.01,2321.24 225.37,2321.24 C227.72,2321.24 228.66,2322.66 231.02,2323.50 C233.37,2324.35 236.20,2326.09 239.49,2326.33 C242.79,2326.56 247.02,2325.29 250.79,2324.92 C254.56,2324.54 258.46,2324.30 262.09,2324.07 C265.73,2323.83 268.96,2324.07 272.60,2323.50 C276.23,2322.94 280.13,2321.43 283.90,2320.68 C287.66,2319.92 291.43,2319.27 295.20,2318.98 C298.96,2318.70 302.73,2319.22 306.50,2318.98 C310.26,2318.75 314.03,2318.23 317.80,2317.57 C321.56,2316.91 325.33,2315.83 329.10,2315.03 C332.86,2314.23 336.63,2313.38 340.40,2312.77 C344.16,2312.16 348.87,2311.59 351.69,2311.36 C354.52,2311.12 354.99,2310.74 357.34,2311.36 C359.70,2311.97 362.99,2313.62 365.82,2315.03 C368.64,2316.44 371.47,2318.09 374.29,2319.83 C377.12,2321.57 379.94,2323.13 382.77,2325.48 C385.59,2327.83 388.42,2330.89 391.24,2333.95 C394.07,2337.02 396.89,2341.02 399.72,2343.84 C402.54,2346.67 405.37,2348.55 408.19,2350.90 C411.02,2353.26 413.84,2355.85 416.67,2357.97 C419.49,2360.08 421.85,2361.83 425.14,2363.62 C428.44,2365.40 433.57,2367.34 436.44,2368.70 C439.31,2370.07 439.03,2370.35 442.37,2371.81 C445.72,2373.27 451.79,2375.72 456.50,2377.46 C461.21,2379.20 465.91,2380.85 470.62,2382.26 C475.33,2383.67 480.04,2384.85 484.75,2385.93 C489.45,2387.02 494.16,2387.91 498.87,2388.76 C503.58,2389.60 508.29,2390.40 512.99,2391.02 C517.70,2391.63 522.41,2392.10 527.12,2392.43 C531.83,2392.76 536.53,2392.90 541.24,2392.99 C545.95,2393.09 550.66,2393.09 555.37,2392.99 C560.08,2392.90 564.78,2392.81 569.49,2392.43 C574.20,2392.05 581.11,2390.86 583.62,2390.73 C586.12,2390.61 582.47,2391.86 584.50,2391.69 C586.53,2391.53 592.03,2390.52 595.80,2389.72 C599.56,2388.92 603.33,2387.83 607.10,2386.89 C610.86,2385.95 614.63,2385.01 618.40,2384.07 C622.16,2383.13 625.93,2382.28 629.69,2381.24 C633.46,2380.21 637.23,2379.03 640.99,2377.85 C644.76,2376.68 648.53,2375.40 652.29,2374.18 C656.06,2372.96 659.83,2371.78 663.59,2370.51 C667.36,2369.24 671.13,2367.97 674.89,2366.55 C678.66,2365.14 682.43,2363.45 686.19,2362.03 C689.96,2360.62 694.20,2359.11 697.49,2358.08 C700.79,2357.04 703.61,2356.90 705.97,2355.82 C708.32,2354.74 710.20,2352.99 711.62,2351.58 C713.03,2350.17 713.26,2346.87 714.44,2347.34 C715.62,2347.82 717.27,2352.62 718.68,2354.41 C720.09,2356.20 722.21,2357.47 722.92,2358.08" fill="none" stroke="#ff0000" stroke-width="5.3" stroke-linejoin="round" stroke-linecap="butt" clip-path="url(#cd)"/>
<path d="M77.91,2350.90 C78.95,2350.57 82.15,2350.24 84.12,2348.93 C86.10,2347.61 87.89,2343.61 89.77,2342.99 C91.66,2342.38 93.07,2344.64 95.42,2345.25 C97.78,2345.87 100.60,2345.96 103.90,2346.67 C107.19,2347.37 111.43,2348.69 115.20,2349.49 C118.96,2350.29 122.73,2351.00 126.50,2351.47 C130.26,2351.94 134.03,2352.27 137.80,2352.32 C141.56,2352.36 145.33,2352.22 149.10,2351.75 C152.86,2351.28 156.63,2350.10 160.40,2349.49 C164.16,2348.88 167.93,2348.41 171.69,2348.08 C175.46,2347.75 179.23,2347.66 182.99,2347.51 C186.76,2347.37 190.53,2347.00 194.29,2347.23 C198.06,2347.47 202.77,2348.55 205.59,2348.93 C208.42,2349.30 208.89,2349.87 211.24,2349.49 C213.60,2349.11 216.89,2347.37 219.72,2346.67 C222.54,2345.96 224.90,2345.73 228.19,2345.25 C231.49,2344.78 235.73,2344.22 239.49,2343.84 C243.26,2343.47 247.02,2343.37 250.79,2342.99 C254.56,2342.62 258.46,2341.91 262.09,2341.58 C265.73,2341.25 268.96,2341.35 272.60,2341.02 C276.23,2340.69 280.13,2339.98 283.90,2339.60 C287.66,2339.23 291.43,2338.85 295.20,2338.76 C298.96,2338.66 302.73,2338.85 306.50,2339.04 C310.26,2339.23 314.03,2339.65 317.80,2339.89 C321.56,2340.12 325.33,2340.64 329.10,2340.45 C332.86,2340.26 337.10,2339.37 340.40,2338.76 C343.69,2338.15 346.05,2337.72 348.87,2336.78 C351.69,2335.84 354.52,2334.19 357.34,2333.11 C360.17,2332.02 362.99,2330.94 365.82,2330.28 C368.64,2329.62 371.47,2329.01 374.29,2329.15 C377.12,2329.29 379.94,2329.86 382.77,2331.13 C385.59,2332.40 388.42,2335.04 391.24,2336.78 C394.07,2338.52 396.89,2340.50 399.72,2341.58 C402.54,2342.66 404.90,2342.90 408.19,2343.28 C411.49,2343.65 415.73,2343.28 419.49,2343.84 C423.26,2344.41 427.02,2345.49 430.79,2346.67 C434.56,2347.84 437.81,2349.07 442.09,2350.90 C446.37,2352.74 452.68,2355.38 456.50,2357.68 C460.31,2359.99 461.68,2362.72 464.97,2364.75 C468.27,2366.77 472.50,2368.65 476.27,2369.83 C480.04,2371.01 483.80,2371.24 487.57,2371.81 C491.34,2372.37 495.57,2372.51 498.87,2373.22 C502.17,2373.93 504.52,2374.87 507.34,2376.05 C510.17,2377.22 512.99,2378.96 515.82,2380.28 C518.64,2381.60 521.47,2383.01 524.29,2383.95 C527.12,2384.90 529.47,2385.46 532.77,2385.93 C536.06,2386.40 540.30,2386.54 544.07,2386.78 C547.83,2387.02 551.13,2387.25 555.37,2387.34 C559.60,2387.44 564.78,2387.58 569.49,2387.34 C574.20,2387.11 581.11,2386.24 583.62,2385.93 C586.12,2385.62 582.47,2385.89 584.50,2385.48 C586.53,2385.08 592.03,2384.30 595.80,2383.50 C599.56,2382.70 603.33,2381.62 607.10,2380.68 C610.86,2379.74 614.63,2378.79 618.40,2377.85 C622.16,2376.91 625.93,2376.02 629.69,2375.03 C633.46,2374.04 637.23,2373.00 640.99,2371.92 C644.76,2370.84 648.53,2369.80 652.29,2368.53 C656.06,2367.26 659.83,2365.71 663.59,2364.29 C667.36,2362.88 671.13,2361.56 674.89,2360.06 C678.66,2358.55 682.43,2356.81 686.19,2355.25 C689.96,2353.70 694.20,2351.82 697.49,2350.73 C700.79,2349.65 703.61,2349.89 705.97,2348.76 C708.32,2347.63 709.73,2345.84 711.62,2343.95 C713.50,2342.07 715.85,2337.13 717.27,2337.46 C718.68,2337.79 719.15,2343.34 720.09,2345.93 C721.03,2348.52 722.44,2351.82 722.92,2352.99" fill="none" stroke="#00ff00" stroke-width="5.3" stroke-linejoin="round" stroke-linecap="butt" clip-path="url(#cd)"/>
<path d="M77.91,2380.28 C78.95,2379.58 82.15,2377.46 84.12,2376.05 C86.10,2374.63 87.89,2372.04 89.77,2371.81 C91.66,2371.57 93.07,2373.93 95.42,2374.63 C97.78,2375.34 100.60,2375.43 103.90,2376.05 C107.19,2376.66 111.43,2377.83 115.20,2378.31 C118.96,2378.78 122.26,2378.68 126.50,2378.87 C130.73,2379.06 135.91,2379.29 140.62,2379.44 C145.33,2379.58 150.04,2379.58 154.75,2379.72 C159.45,2379.86 164.16,2380.14 168.87,2380.28 C173.58,2380.42 178.29,2380.56 182.99,2380.56 C187.70,2380.56 192.41,2380.42 197.12,2380.28 C201.83,2380.14 207.01,2379.72 211.24,2379.72 C215.48,2379.72 219.25,2380.33 222.54,2380.28 C225.84,2380.24 228.66,2380.14 231.02,2379.44 C233.37,2378.73 234.31,2377.32 236.67,2376.05 C239.02,2374.77 242.32,2372.98 245.14,2371.81 C247.97,2370.63 251.26,2369.31 253.62,2368.98 C255.97,2368.65 257.38,2369.12 259.27,2369.83 C261.15,2370.54 262.69,2373.22 264.92,2373.22 C267.14,2373.22 269.91,2370.73 272.60,2369.83 C275.29,2368.94 277.78,2367.71 281.07,2367.85 C284.37,2367.99 288.61,2370.44 292.37,2370.68 C296.14,2370.91 300.38,2370.07 303.67,2369.27 C306.97,2368.47 309.32,2366.25 312.15,2365.88 C314.97,2365.50 317.80,2367.15 320.62,2367.01 C323.45,2366.86 326.27,2364.75 329.10,2365.03 C331.92,2365.31 334.75,2368.37 337.57,2368.70 C340.40,2369.03 343.22,2367.62 346.05,2367.01 C348.87,2366.39 351.69,2365.12 354.52,2365.03 C357.34,2364.93 360.17,2366.44 362.99,2366.44 C365.82,2366.44 368.64,2365.73 371.47,2365.03 C374.29,2364.32 377.12,2363.62 379.94,2362.20 C382.77,2360.79 385.59,2357.50 388.42,2356.55 C391.24,2355.61 394.30,2356.08 396.89,2356.55 C399.48,2357.02 401.60,2359.38 403.95,2359.38 C406.31,2359.38 408.43,2357.97 411.02,2356.55 C413.61,2355.14 416.67,2352.18 419.49,2350.90 C422.32,2349.63 425.14,2349.02 427.97,2348.93 C430.79,2348.83 433.62,2349.68 436.44,2350.34 C439.27,2351.00 442.75,2352.13 444.92,2352.88 C447.08,2353.63 447.50,2355.47 449.44,2354.86 C451.37,2354.25 453.91,2350.95 456.50,2349.21 C459.09,2347.47 462.15,2344.88 464.97,2344.41 C467.80,2343.94 471.33,2344.97 473.45,2346.38 C475.56,2347.80 476.04,2352.27 477.68,2352.88 C479.33,2353.49 481.21,2351.61 483.33,2350.06 C485.45,2348.50 488.04,2345.58 490.40,2343.56 C492.75,2341.53 495.10,2339.32 497.46,2337.91 C499.81,2336.50 502.17,2335.18 504.52,2335.08 C506.87,2334.99 509.46,2336.26 511.58,2337.34 C513.70,2338.43 515.35,2340.40 517.23,2341.58 C519.11,2342.76 520.76,2344.55 522.88,2344.41 C525.00,2344.27 527.35,2341.02 529.94,2340.73 C532.53,2340.45 536.06,2341.91 538.42,2342.71 C540.77,2343.51 541.71,2345.54 544.07,2345.54 C546.42,2345.54 549.72,2342.90 552.54,2342.71 C555.37,2342.52 558.19,2343.65 561.02,2344.41 C563.84,2345.16 567.14,2345.96 569.49,2347.23 C571.85,2348.50 573.26,2349.82 575.14,2352.03 C577.02,2354.25 578.44,2358.15 580.79,2360.51 C583.15,2362.86 587.00,2364.59 589.27,2366.16 C591.53,2367.73 592.59,2368.84 594.38,2369.94 C596.18,2371.05 598.62,2371.83 600.03,2372.77 C601.45,2373.71 601.68,2375.83 602.86,2375.59 C604.04,2375.36 605.92,2371.59 607.10,2371.36 C608.27,2371.12 608.51,2374.32 609.92,2374.18 C611.33,2374.04 613.69,2371.69 615.57,2370.51 C617.45,2369.33 619.34,2368.15 621.22,2367.12 C623.10,2366.08 624.75,2364.91 626.87,2364.29 C628.99,2363.68 631.58,2364.01 633.93,2363.45 C636.29,2362.88 638.40,2361.94 640.99,2360.90 C643.58,2359.87 646.64,2358.46 649.47,2357.23 C652.29,2356.01 655.12,2354.27 657.94,2353.56 C660.77,2352.85 664.06,2353.09 666.42,2352.99 C668.77,2352.90 670.18,2353.70 672.07,2352.99 C673.95,2352.29 675.83,2349.93 677.72,2348.76 C679.60,2347.58 681.48,2347.02 683.37,2345.93 C685.25,2344.85 686.66,2343.34 689.02,2342.26 C691.37,2341.18 694.90,2340.47 697.49,2339.44 C700.08,2338.40 702.44,2337.18 704.55,2336.05 C706.67,2334.92 708.79,2334.54 710.20,2332.66 C711.62,2330.77 712.09,2327.38 713.03,2324.75 C713.97,2322.11 714.68,2317.31 715.85,2316.84 C717.03,2316.37 718.91,2320.60 720.09,2321.92 C721.27,2323.24 722.44,2324.27 722.92,2324.75" fill="none" stroke="#800080" stroke-width="5.3" stroke-linejoin="round" stroke-linecap="butt" clip-path="url(#cd)"/>
<path d="M77.91,2200.58 L81.21,2205.78 L84.51,2210.90 L87.81,2215.93 L91.11,2220.86 L94.41,2225.67 L97.71,2230.34 L101.01,2234.86 L104.31,2239.21 L107.61,2243.38 L110.91,2247.35 L114.21,2251.12 L117.51,2254.65 L120.81,2257.95 L124.11,2261.01 L127.41,2263.84 L130.71,2266.46 L134.01,2268.87 L137.31,2271.09 L140.61,2273.12 L143.91,2274.98 L147.21,2276.67 L150.51,2278.22 L153.81,2279.62 L157.11,2280.88 L160.41,2282.03 L163.71,2283.06 L167.01,2283.99 L170.31,2284.80 L170.33,2284.73 L175.99,2286.08 L176.93,2285.99 L182.59,2287.11 L183.53,2286.86 L189.19,2287.75 L190.13,2287.34 L195.79,2288.02 L196.73,2287.45 L202.39,2287.94 L203.33,2287.21 L208.99,2287.52 L209.93,2286.64 L215.59,2286.79 L216.53,2285.75 L222.19,2285.75 L223.13,2284.57 L228.79,2284.44 L229.73,2283.11 L235.39,2282.86 L236.33,2281.39 L241.99,2281.04 L242.93,2279.43 L248.59,2278.99 L249.53,2277.23 L255.19,2276.72 L256.13,2274.83 L261.79,2274.27 L262.73,2272.24 L268.39,2271.63 L269.33,2269.48 L274.99,2268.83 L275.93,2266.52 L281.59,2265.87 L282.53,2263.38 L288.19,2262.73 L289.13,2260.06 L294.79,2259.42 L295.73,2256.57 L301.39,2255.93 L302.33,2252.90 L307.99,2252.26 L308.93,2249.05 L314.59,2248.41 L315.53,2245.02 L321.19,2244.39 L322.13,2240.82 L327.79,2240.18 L328.73,2236.44 L334.39,2235.80 L335.33,2231.88 L340.99,2231.24 L341.93,2227.14 L347.59,2226.50 L348.53,2222.22 L354.19,2221.58 L355.13,2217.13 L360.79,2216.48 L361.73,2211.85 L367.39,2211.20 L368.33,2206.39 L373.99,2205.75 L374.93,2200.76 L380.59,2200.14 L381.53,2194.98 L387.19,2194.39 L388.13,2189.05 L393.79,2188.51 L394.73,2183.00 L400.39,2182.51 L401.33,2176.84 L406.99,2176.39 L407.93,2170.58 L413.59,2170.19 L414.53,2164.25 L420.19,2163.91 L421.13,2157.83 L426.79,2157.57 L427.73,2151.36 L433.39,2151.18 L434.33,2144.85 L439.99,2144.76 L440.93,2138.30 L446.59,2138.32 L447.53,2131.74 L453.19,2131.88 L454.13,2125.18 L459.79,2125.44 L460.73,2118.62 L466.39,2119.02 L467.33,2112.11 L472.99,2112.58 L473.93,2105.68 L479.59,2106.21 L480.53,2099.33 L486.19,2099.99 L487.13,2093.14 L492.79,2094.01 L493.73,2087.20 L499.39,2088.37 L500.33,2081.61 L505.99,2083.15 L506.93,2076.46 L512.59,2078.46 L513.53,2071.85 L519.19,2074.36 L520.13,2067.84 L525.79,2070.88 L526.73,2064.43 L532.39,2067.94 L533.33,2061.57 L538.99,2065.51 L539.93,2059.21 L545.59,2063.53 L546.53,2057.28 L552.19,2061.95 L553.13,2055.76 L558.79,2060.81 L559.73,2054.70 L565.39,2060.24 L566.33,2054.21 L571.99,2060.34 L572.93,2054.41 L578.59,2061.24 L579.53,2055.43 L585.19,2063.04 L586.13,2057.36 L591.79,2065.68 L592.73,2060.11 L598.39,2068.96 L599.33,2063.45 L604.99,2072.64 L605.93,2067.18 L611.59,2076.53 L612.53,2071.08 L618.19,2080.48 L619.13,2075.04 L624.79,2084.46 L625.73,2079.02 L631.39,2088.43 L632.33,2082.98 L637.99,2092.20 L638.93,2087.12 L644.59,2095.53 L645.53,2091.46 L651.19,2098.73 L652.13,2095.67 L657.79,2101.79 L658.73,2099.72 L664.39,2104.65 L665.33,2103.57 L670.99,2107.28 L671.93,2107.19 L677.59,2109.87 L681.81,2111.56 L685.11,2112.79 L688.41,2113.93 L691.71,2114.99 L695.01,2115.95 L698.31,2116.81 L701.61,2117.56 L704.91,2118.21 L708.21,2118.75 L711.51,2119.17 L714.81,2119.47 L718.11,2119.64 L723.93,2119.63" fill="none" stroke="#000000" stroke-width="4.6" stroke-linejoin="miter" stroke-linecap="butt" clip-path="url(#cd)" stroke-miterlimit="8"/>
<line x1="77.2" y1="2550.8" x2="77.2" y2="2541.8" stroke="#9c9c9c" stroke-width="1"/>
<line x1="77.2" y1="2006.8" x2="77.2" y2="2015.8" stroke="#9c9c9c" stroke-width="1"/>
<line x1="141.8" y1="2550.8" x2="141.8" y2="2541.8" stroke="#9c9c9c" stroke-width="1"/>
<line x1="141.8" y1="2006.8" x2="141.8" y2="2015.8" stroke="#9c9c9c" stroke-width="1"/>
<line x1="206.4" y1="2550.8" x2="206.4" y2="2541.8" stroke="#9c9c9c" stroke-width="1"/>
<line x1="206.4" y1="2006.8" x2="206.4" y2="2015.8" stroke="#9c9c9c" stroke-width="1"/>
<line x1="271" y1="2550.8" x2="271" y2="2541.8" stroke="#9c9c9c" stroke-width="1"/>
<line x1="271" y1="2006.8" x2="271" y2="2015.8" stroke="#9c9c9c" stroke-width="1"/>
<line x1="335.6" y1="2550.8" x2="335.6" y2="2541.8" stroke="#9c9c9c" stroke-width="1"/>
<line x1="335.6" y1="2006.8" x2="335.6" y2="2015.8" stroke="#9c9c9c" stroke-width="1"/>
<line x1="400.2" y1="2550.8" x2="400.2" y2="2541.8" stroke="#9c9c9c" stroke-width="1"/>
<line x1="400.2" y1="2006.8" x2="400.2" y2="2015.8" stroke="#9c9c9c" stroke-width="1"/>
<line x1="464.8" y1="2550.8" x2="464.8" y2="2541.8" stroke="#9c9c9c" stroke-width="1"/>
<line x1="464.8" y1="2006.8" x2="464.8" y2="2015.8" stroke="#9c9c9c" stroke-width="1"/>
<line x1="529.4" y1="2550.8" x2="529.4" y2="2541.8" stroke="#9c9c9c" stroke-width="1"/>
<line x1="529.4" y1="2006.8" x2="529.4" y2="2015.8" stroke="#9c9c9c" stroke-width="1"/>
<line x1="594" y1="2550.8" x2="594" y2="2541.8" stroke="#9c9c9c" stroke-width="1"/>
<line x1="594" y1="2006.8" x2="594" y2="2015.8" stroke="#9c9c9c" stroke-width="1"/>
<line x1="658.6" y1="2550.8" x2="658.6" y2="2541.8" stroke="#9c9c9c" stroke-width="1"/>
<line x1="658.6" y1="2006.8" x2="658.6" y2="2015.8" stroke="#9c9c9c" stroke-width="1"/>
<line x1="723.2" y1="2550.8" x2="723.2" y2="2541.8" stroke="#9c9c9c" stroke-width="1"/>
<line x1="723.2" y1="2006.8" x2="723.2" y2="2015.8" stroke="#9c9c9c" stroke-width="1"/>
<line x1="77.2" y1="2550.8" x2="86.2" y2="2550.8" stroke="#9c9c9c" stroke-width="1"/>
<line x1="723.2" y1="2550.8" x2="714.2" y2="2550.8" stroke="#9c9c9c" stroke-width="1"/>
<line x1="77.2" y1="2496.4" x2="86.2" y2="2496.4" stroke="#9c9c9c" stroke-width="1"/>
<line x1="723.2" y1="2496.4" x2="714.2" y2="2496.4" stroke="#9c9c9c" stroke-width="1"/>
<line x1="77.2" y1="2442" x2="86.2" y2="2442" stroke="#9c9c9c" stroke-width="1"/>
<line x1="723.2" y1="2442" x2="714.2" y2="2442" stroke="#9c9c9c" stroke-width="1"/>
<line x1="77.2" y1="2387.6" x2="86.2" y2="2387.6" stroke="#9c9c9c" stroke-width="1"/>
<line x1="723.2" y1="2387.6" x2="714.2" y2="2387.6" stroke="#9c9c9c" stroke-width="1"/>
<line x1="77.2" y1="2333.2" x2="86.2" y2="2333.2" stroke="#9c9c9c" stroke-width="1"/>
<line x1="723.2" y1="2333.2" x2="714.2" y2="2333.2" stroke="#9c9c9c" stroke-width="1"/>
<line x1="77.2" y1="2278.8" x2="86.2" y2="2278.8" stroke="#9c9c9c" stroke-width="1"/>
<line x1="723.2" y1="2278.8" x2="714.2" y2="2278.8" stroke="#9c9c9c" stroke-width="1"/>
<line x1="77.2" y1="2224.4" x2="86.2" y2="2224.4" stroke="#9c9c9c" stroke-width="1"/>
<line x1="723.2" y1="2224.4" x2="714.2" y2="2224.4" stroke="#9c9c9c" stroke-width="1"/>
<line x1="77.2" y1="2170" x2="86.2" y2="2170" stroke="#9c9c9c" stroke-width="1"/>
<line x1="723.2" y1="2170" x2="714.2" y2="2170" stroke="#9c9c9c" stroke-width="1"/>
<line x1="77.2" y1="2115.6" x2="86.2" y2="2115.6" stroke="#9c9c9c" stroke-width="1"/>
<line x1="723.2" y1="2115.6" x2="714.2" y2="2115.6" stroke="#9c9c9c" stroke-width="1"/>
<line x1="77.2" y1="2061.2" x2="86.2" y2="2061.2" stroke="#9c9c9c" stroke-width="1"/>
<line x1="723.2" y1="2061.2" x2="714.2" y2="2061.2" stroke="#9c9c9c" stroke-width="1"/>
<line x1="77.2" y1="2006.8" x2="86.2" y2="2006.8" stroke="#9c9c9c" stroke-width="1"/>
<line x1="723.2" y1="2006.8" x2="714.2" y2="2006.8" stroke="#9c9c9c" stroke-width="1"/>
<rect x="77.2" y="2006.8" width="646" height="544" fill="none" stroke="#333" stroke-width="1.3"/>
<text x="77.2" y="2572.6" text-anchor="middle" font-size="21.3" font-family="'Liberation Serif', 'DejaVu Serif', serif" stroke="#000" stroke-width="0.1">0</text>
<text x="141.8" y="2572.6" text-anchor="middle" font-size="21.3" font-family="'Liberation Serif', 'DejaVu Serif', serif" stroke="#000" stroke-width="0.1">0.1</text>
<text x="206.4" y="2572.6" text-anchor="middle" font-size="21.3" font-family="'Liberation Serif', 'DejaVu Serif', serif" stroke="#000" stroke-width="0.1">0.2</text>
<text x="271" y="2572.6" text-anchor="middle" font-size="21.3" font-family="'Liberation Serif', 'DejaVu Serif', serif" stroke="#000" stroke-width="0.1">0.3</text>
<text x="335.6" y="2572.6" text-anchor="middle" font-size="21.3" font-family="'Liberation Serif', 'DejaVu Serif', serif" stroke="#000" stroke-width="0.1">0.4</text>
<text x="400.2" y="2572.6" text-anchor="middle" font-size="21.3" font-family="'Liberation Serif', 'DejaVu Serif', serif" stroke="#000" stroke-width="0.1">0.5</text>
<text x="464.8" y="2572.6" text-anchor="middle" font-size="21.3" font-family="'Liberation Serif', 'DejaVu Serif', serif" stroke="#000" stroke-width="0.1">0.6</text>
<text x="529.4" y="2572.6" text-anchor="middle" font-size="21.3" font-family="'Liberation Serif', 'DejaVu Serif', serif" stroke="#000" stroke-width="0.1">0.7</text>
<text x="594" y="2572.6" text-anchor="middle" font-size="21.3" font-family="'Liberation Serif', 'DejaVu Serif', serif" stroke="#000" stroke-width="0.1">0.8</text>
<text x="658.6" y="2572.6" text-anchor="middle" font-size="21.3" font-family="'Liberation Serif', 'DejaVu Serif', serif" stroke="#000" stroke-width="0.1">0.9</text>
<text x="723.2" y="2572.6" text-anchor="middle" font-size="21.3" font-family="'Liberation Serif', 'DejaVu Serif', serif" stroke="#000" stroke-width="0.1">1</text>
<text x="69.5" y="2558.1" text-anchor="end" font-size="21.3" font-family="'Liberation Serif', 'DejaVu Serif', serif" stroke="#000" stroke-width="0.1">0</text>
<text x="69.5" y="2503.7" text-anchor="end" font-size="21.3" font-family="'Liberation Serif', 'DejaVu Serif', serif" stroke="#000" stroke-width="0.1">4</text>
<text x="69.5" y="2449.3" text-anchor="end" font-size="21.3" font-family="'Liberation Serif', 'DejaVu Serif', serif" stroke="#000" stroke-width="0.1">8</text>
<text x="69.5" y="2394.9" text-anchor="end" font-size="21.3" font-family="'Liberation Serif', 'DejaVu Serif', serif" stroke="#000" stroke-width="0.1">12</text>
<text x="69.5" y="2340.5" text-anchor="end" font-size="21.3" font-family="'Liberation Serif', 'DejaVu Serif', serif" stroke="#000" stroke-width="0.1">16</text>
<text x="69.5" y="2286.1" text-anchor="end" font-size="21.3" font-family="'Liberation Serif', 'DejaVu Serif', serif" stroke="#000" stroke-width="0.1">20</text>
<text x="69.5" y="2231.7" text-anchor="end" font-size="21.3" font-family="'Liberation Serif', 'DejaVu Serif', serif" stroke="#000" stroke-width="0.1">24</text>
<text x="69.5" y="2177.3" text-anchor="end" font-size="21.3" font-family="'Liberation Serif', 'DejaVu Serif', serif" stroke="#000" stroke-width="0.1">28</text>
<text x="69.5" y="2122.9" text-anchor="end" font-size="21.3" font-family="'Liberation Serif', 'DejaVu Serif', serif" stroke="#000" stroke-width="0.1">32</text>
<text x="69.5" y="2068.5" text-anchor="end" font-size="21.3" font-family="'Liberation Serif', 'DejaVu Serif', serif" stroke="#000" stroke-width="0.1">36</text>
<text x="69.5" y="2014.1" text-anchor="end" font-size="21.3" font-family="'Liberation Serif', 'DejaVu Serif', serif" stroke="#000" stroke-width="0.1">40</text>
<rect x="90.5" y="2435.5" width="346" height="88.5" fill="#fff" stroke="#262626" stroke-width="1.1"/>
<line x1="99.3" y1="2453" x2="135.9" y2="2453" stroke="#000000" stroke-width="5.4"/>
<text x="204" y="2459.3" text-anchor="middle" font-size="21.3" font-family="'Liberation Serif', 'DejaVu Serif', serif" textLength="101" lengthAdjust="spacingAndGlyphs" stroke="#000" stroke-width="0.1">Iteration 0</text>
<line x1="272.2" y1="2453" x2="308.8" y2="2453" stroke="#0000ff" stroke-width="5.4"/>
<text x="371.3" y="2459.3" text-anchor="middle" font-size="21.3" font-family="'Liberation Serif', 'DejaVu Serif', serif" textLength="112.5" lengthAdjust="spacingAndGlyphs" stroke="#000" stroke-width="0.1">Iteration 20</text>
<line x1="99.3" y1="2479.7" x2="135.9" y2="2479.7" stroke="#ff0000" stroke-width="5.4"/>
<text x="204" y="2486" text-anchor="middle" font-size="21.3" font-family="'Liberation Serif', 'DejaVu Serif', serif" textLength="112.5" lengthAdjust="spacingAndGlyphs" stroke="#000" stroke-width="0.1">Iteration 35</text>
<line x1="272.2" y1="2479.7" x2="308.8" y2="2479.7" stroke="#00ff00" stroke-width="5.4"/>
<text x="371.3" y="2486" text-anchor="middle" font-size="21.3" font-family="'Liberation Serif', 'DejaVu Serif', serif" textLength="112.5" lengthAdjust="spacingAndGlyphs" stroke="#000" stroke-width="0.1">Iteration 50</text>
<line x1="99.3" y1="2506.4" x2="135.9" y2="2506.4" stroke="#800080" stroke-width="5.4"/>
<text x="204" y="2512.7" text-anchor="middle" font-size="21.3" font-family="'Liberation Serif', 'DejaVu Serif', serif" textLength="122" lengthAdjust="spacingAndGlyphs" stroke="#000" stroke-width="0.1">Iteration 300</text>
<text x="29.4" y="2280.2" text-anchor="middle" font-size="21.3" font-family="'Liberation Serif', 'DejaVu Serif', serif" textLength="117.5" lengthAdjust="spacingAndGlyphs" stroke="#000" stroke-width="0.1" transform="rotate(-90 29.4 2280.2)">Projected <tspan font-style="italic">σ</tspan><tspan dy="-3.8" font-size="16">*</tspan></text>
<text x="399.5" y="2602.2" text-anchor="middle" font-size="21.3" font-family="'Liberation Serif', 'DejaVu Serif', serif" textLength="19.3" lengthAdjust="spacingAndGlyphs" stroke="#000" stroke-width="0.1"><tspan font-style="italic">x</tspan><tspan dy="-3.8" font-size="16">*</tspan></text>
<text x="367.9" y="2643.5" text-anchor="middle" font-size="21.3" font-family="'Liberation Serif', 'DejaVu Serif', serif" textLength="655.5" lengthAdjust="spacingAndGlyphs" stroke="#000" stroke-width="0.1">(d) Distribution of projected dimensionless entropy generation</text>
</svg></body></html>
